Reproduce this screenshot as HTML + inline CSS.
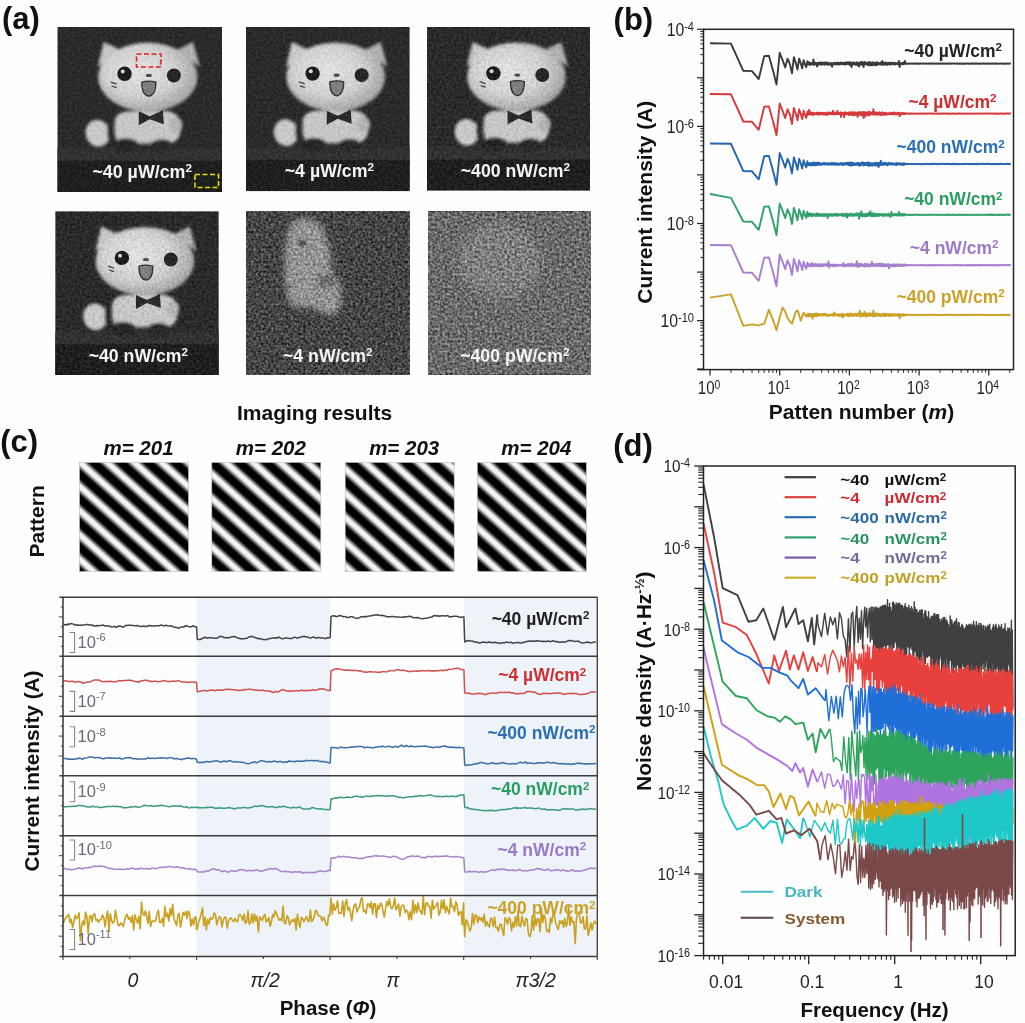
<!DOCTYPE html>
<html><head><meta charset="utf-8"><title>Figure</title>
<style>
html,body{margin:0;padding:0;background:#fff;width:1025px;height:1023px;overflow:hidden;}
svg{display:block;font-family:"Liberation Sans",sans-serif;filter:blur(0.35px);}
</style></head><body>
<svg width="1025" height="1023" viewBox="0 0 1025 1023" font-family="Liberation Sans, sans-serif">
<defs>
<filter id="soft" x="-0.2" y="-0.2" width="1.4" height="1.4"><feGaussianBlur stdDeviation="1.6"/></filter>
<filter id="soft2" x="-0.3" y="-0.3" width="1.6" height="1.6"><feGaussianBlur stdDeviation="0.7"/></filter>
<filter id="blob" x="-0.3" y="-0.3" width="1.6" height="1.6"><feGaussianBlur stdDeviation="5"/></filter>
<filter id="blob2" x="-0.3" y="-0.3" width="1.6" height="1.6"><feGaussianBlur stdDeviation="3"/></filter>
<filter id="nz0" x="0" y="0" width="1" height="1" color-interpolation-filters="sRGB"><feTurbulence type="fractalNoise" baseFrequency="0.4" numOctaves="2" seed="3" result="t"/><feColorMatrix in="t" type="matrix" values="1 0 0 0 0  1 0 0 0 0  1 0 0 0 0  0 0 0 0 1" result="g"/><feComposite in="SourceGraphic" in2="g" operator="arithmetic" k1="0" k2="1" k3="0.16" k4="-0.08"/></filter>
<filter id="nz1" x="0" y="0" width="1" height="1" color-interpolation-filters="sRGB"><feTurbulence type="fractalNoise" baseFrequency="0.4" numOctaves="2" seed="10" result="t"/><feColorMatrix in="t" type="matrix" values="1 0 0 0 0  1 0 0 0 0  1 0 0 0 0  0 0 0 0 1" result="g"/><feComposite in="SourceGraphic" in2="g" operator="arithmetic" k1="0" k2="1" k3="0.18" k4="-0.09"/></filter>
<filter id="nz2" x="0" y="0" width="1" height="1" color-interpolation-filters="sRGB"><feTurbulence type="fractalNoise" baseFrequency="0.4" numOctaves="2" seed="17" result="t"/><feColorMatrix in="t" type="matrix" values="1 0 0 0 0  1 0 0 0 0  1 0 0 0 0  0 0 0 0 1" result="g"/><feComposite in="SourceGraphic" in2="g" operator="arithmetic" k1="0" k2="1" k3="0.22" k4="-0.11"/></filter>
<filter id="nz3" x="0" y="0" width="1" height="1" color-interpolation-filters="sRGB"><feTurbulence type="fractalNoise" baseFrequency="0.4" numOctaves="2" seed="24" result="t"/><feColorMatrix in="t" type="matrix" values="1 0 0 0 0  1 0 0 0 0  1 0 0 0 0  0 0 0 0 1" result="g"/><feComposite in="SourceGraphic" in2="g" operator="arithmetic" k1="0" k2="1" k3="0.24" k4="-0.12"/></filter>
<filter id="nz4" x="0" y="0" width="1" height="1" color-interpolation-filters="sRGB"><feTurbulence type="fractalNoise" baseFrequency="0.4" numOctaves="2" seed="31" result="t"/><feColorMatrix in="t" type="matrix" values="1 0 0 0 0  1 0 0 0 0  1 0 0 0 0  0 0 0 0 1" result="g"/><feComposite in="SourceGraphic" in2="g" operator="arithmetic" k1="0" k2="1" k3="0.66" k4="-0.33"/></filter>
<filter id="nz5" x="0" y="0" width="1" height="1" color-interpolation-filters="sRGB"><feTurbulence type="fractalNoise" baseFrequency="0.4" numOctaves="2" seed="38" result="t"/><feColorMatrix in="t" type="matrix" values="1 0 0 0 0  1 0 0 0 0  1 0 0 0 0  0 0 0 0 1" result="g"/><feComposite in="SourceGraphic" in2="g" operator="arithmetic" k1="0" k2="1" k3="0.76" k4="-0.38"/></filter>
<radialGradient id="headg" cx="0.42" cy="0.42" r="0.64"><stop offset="0" stop-color="#e2e2e2"/><stop offset="0.55" stop-color="#d0d0d0"/><stop offset="1" stop-color="#9c9c9c"/></radialGradient>
<linearGradient id="sg0" gradientUnits="userSpaceOnUse" x1="0" y1="0" x2="12.064" y2="-13.493" spreadMethod="repeat" gradientTransform="translate(-13.08,0)"><stop offset="0" stop-color="#000"/><stop offset="0.17" stop-color="#060606"/><stop offset="0.41" stop-color="#f0f0f0"/><stop offset="0.59" stop-color="#f6f6f6"/><stop offset="0.83" stop-color="#060606"/><stop offset="1" stop-color="#000"/></linearGradient>
<linearGradient id="sg1" gradientUnits="userSpaceOnUse" x1="0" y1="0" x2="12.064" y2="-13.493" spreadMethod="repeat" gradientTransform="translate(0.42,0)"><stop offset="0" stop-color="#000"/><stop offset="0.17" stop-color="#060606"/><stop offset="0.41" stop-color="#f0f0f0"/><stop offset="0.59" stop-color="#f6f6f6"/><stop offset="0.83" stop-color="#060606"/><stop offset="1" stop-color="#000"/></linearGradient>
<linearGradient id="sg2" gradientUnits="userSpaceOnUse" x1="0" y1="0" x2="12.064" y2="-13.493" spreadMethod="repeat" gradientTransform="translate(6.22,0)"><stop offset="0" stop-color="#000"/><stop offset="0.17" stop-color="#060606"/><stop offset="0.41" stop-color="#f0f0f0"/><stop offset="0.59" stop-color="#f6f6f6"/><stop offset="0.83" stop-color="#060606"/><stop offset="1" stop-color="#000"/></linearGradient>
<linearGradient id="sg3" gradientUnits="userSpaceOnUse" x1="0" y1="0" x2="12.064" y2="-13.493" spreadMethod="repeat" gradientTransform="translate(-4.88,0)"><stop offset="0" stop-color="#000"/><stop offset="0.17" stop-color="#060606"/><stop offset="0.41" stop-color="#f0f0f0"/><stop offset="0.59" stop-color="#f6f6f6"/><stop offset="0.83" stop-color="#060606"/><stop offset="1" stop-color="#000"/></linearGradient>
</defs>
<rect x="0" y="0" width="1025" height="1023" fill="#fefefe"/>
<text x="2.0" y="29.3" font-size="31" font-weight="bold" font-style="normal" fill="#111" text-anchor="start" >(a)</text>
<g transform="translate(57.6,27.0) scale(1.0024)">
<g filter="url(#nz0)">

<g>
 <rect x="0" y="0" width="164" height="164" fill="#2a2a2a"/>
 <rect x="0" y="121" width="164" height="13" fill="#333" filter="url(#soft)"/>
 <rect x="0" y="133.5" width="164" height="31" fill="#1f1f1f"/>
 <g filter="url(#soft)">
  <ellipse cx="40" cy="106" rx="12" ry="13.5" fill="#c8c8c8" transform="rotate(-15 40 106)"/>
  <path d="M57,92 Q60,84 72,84 L110,84 Q123,86 123,100 Q123,114 112,116 L62,116 Q56,112 57,100 Z" fill="#c6c6c6"/>
  <ellipse cx="118" cy="98" rx="6.5" ry="8" fill="#b4b4b4"/>
  <ellipse cx="52" cy="104" rx="2.5" ry="11" fill="#262626"/>
  <ellipse cx="68" cy="118" rx="13" ry="7" fill="#272727"/>
  <ellipse cx="104" cy="119" rx="12" ry="7" fill="#2a2a2a"/>
  <ellipse cx="86" cy="121" rx="8" ry="5" fill="#2e2e2e"/>
  <polygon points="40,40 46,15 63,23" fill="#c6c6c6"/>
  <polygon points="119,23 135,15 142,40" fill="#b0b0b0"/>
  <ellipse cx="90" cy="50" rx="49.5" ry="34.5" fill="url(#headg)"/>
 </g>
 <g filter="url(#soft2)">
  <circle cx="66.8" cy="46.7" r="7.2" fill="#1c1c1c"/>
  <circle cx="116" cy="48.3" r="7.0" fill="#262626"/>
  <circle cx="65" cy="44.5" r="2" fill="#d8d8d8"/>
  <ellipse cx="91" cy="48.3" rx="3" ry="1.6" fill="#444"/>
  <path d="M84,55 Q91,53 98,55 Q98,68 91,69 Q84,68 84,55 Z" fill="#7e7e7e" stroke="#333" stroke-width="1.3"/>
  <path d="M53,55 L59,57 M54,59 L59,60.5" stroke="#444" stroke-width="1.2"/>
  <path d="M81,84 L92,89 L105,83 L106,97 L92,92 L81,98 Z" fill="#2c2c2c"/>
 </g>
</g>
</g>
<text x="84.4" y="150.2" font-size="17.8" font-weight="bold" font-style="normal" fill="#f4f4f4" text-anchor="middle" >~40 µW/cm<tspan dy="-5.5" font-size="11.7">2</tspan></text>
</g>
<g transform="translate(246.0,27.0) scale(0.9970)">
<g filter="url(#nz1)">

<g>
 <rect x="0" y="0" width="164" height="164" fill="#2a2a2a"/>
 <rect x="0" y="121" width="164" height="13" fill="#333" filter="url(#soft)"/>
 <rect x="0" y="133.5" width="164" height="31" fill="#1f1f1f"/>
 <g filter="url(#soft)">
  <ellipse cx="40" cy="106" rx="12" ry="13.5" fill="#c8c8c8" transform="rotate(-15 40 106)"/>
  <path d="M57,92 Q60,84 72,84 L110,84 Q123,86 123,100 Q123,114 112,116 L62,116 Q56,112 57,100 Z" fill="#c6c6c6"/>
  <ellipse cx="118" cy="98" rx="6.5" ry="8" fill="#b4b4b4"/>
  <ellipse cx="52" cy="104" rx="2.5" ry="11" fill="#262626"/>
  <ellipse cx="68" cy="118" rx="13" ry="7" fill="#272727"/>
  <ellipse cx="104" cy="119" rx="12" ry="7" fill="#2a2a2a"/>
  <ellipse cx="86" cy="121" rx="8" ry="5" fill="#2e2e2e"/>
  <polygon points="40,40 46,15 63,23" fill="#c6c6c6"/>
  <polygon points="119,23 135,15 142,40" fill="#b0b0b0"/>
  <ellipse cx="90" cy="50" rx="49.5" ry="34.5" fill="url(#headg)"/>
 </g>
 <g filter="url(#soft2)">
  <circle cx="66.8" cy="46.7" r="7.2" fill="#1c1c1c"/>
  <circle cx="116" cy="48.3" r="7.0" fill="#262626"/>
  <circle cx="65" cy="44.5" r="2" fill="#d8d8d8"/>
  <ellipse cx="91" cy="48.3" rx="3" ry="1.6" fill="#444"/>
  <path d="M84,55 Q91,53 98,55 Q98,68 91,69 Q84,68 84,55 Z" fill="#7e7e7e" stroke="#333" stroke-width="1.3"/>
  <path d="M53,55 L59,57 M54,59 L59,60.5" stroke="#444" stroke-width="1.2"/>
  <path d="M81,84 L92,89 L105,83 L106,97 L92,92 L81,98 Z" fill="#2c2c2c"/>
 </g>
</g>
</g>
<text x="83.6" y="150.4" font-size="17.8" font-weight="bold" font-style="normal" fill="#f4f4f4" text-anchor="middle" >~4 µW/cm<tspan dy="-5.5" font-size="11.7">2</tspan></text>
</g>
<g transform="translate(427.0,27.0) scale(0.9939)">
<g filter="url(#nz2)">

<g>
 <rect x="0" y="0" width="164" height="164" fill="#2a2a2a"/>
 <rect x="0" y="121" width="164" height="13" fill="#333" filter="url(#soft)"/>
 <rect x="0" y="133.5" width="164" height="31" fill="#1f1f1f"/>
 <g filter="url(#soft)">
  <ellipse cx="40" cy="106" rx="12" ry="13.5" fill="#c8c8c8" transform="rotate(-15 40 106)"/>
  <path d="M57,92 Q60,84 72,84 L110,84 Q123,86 123,100 Q123,114 112,116 L62,116 Q56,112 57,100 Z" fill="#c6c6c6"/>
  <ellipse cx="118" cy="98" rx="6.5" ry="8" fill="#b4b4b4"/>
  <ellipse cx="52" cy="104" rx="2.5" ry="11" fill="#262626"/>
  <ellipse cx="68" cy="118" rx="13" ry="7" fill="#272727"/>
  <ellipse cx="104" cy="119" rx="12" ry="7" fill="#2a2a2a"/>
  <ellipse cx="86" cy="121" rx="8" ry="5" fill="#2e2e2e"/>
  <polygon points="40,40 46,15 63,23" fill="#c6c6c6"/>
  <polygon points="119,23 135,15 142,40" fill="#b0b0b0"/>
  <ellipse cx="90" cy="50" rx="49.5" ry="34.5" fill="url(#headg)"/>
 </g>
 <g filter="url(#soft2)">
  <circle cx="66.8" cy="46.7" r="7.2" fill="#1c1c1c"/>
  <circle cx="116" cy="48.3" r="7.0" fill="#262626"/>
  <circle cx="65" cy="44.5" r="2" fill="#d8d8d8"/>
  <ellipse cx="91" cy="48.3" rx="3" ry="1.6" fill="#444"/>
  <path d="M84,55 Q91,53 98,55 Q98,68 91,69 Q84,68 84,55 Z" fill="#7e7e7e" stroke="#333" stroke-width="1.3"/>
  <path d="M53,55 L59,57 M54,59 L59,60.5" stroke="#444" stroke-width="1.2"/>
  <path d="M81,84 L92,89 L105,83 L106,97 L92,92 L81,98 Z" fill="#2c2c2c"/>
 </g>
</g>
</g>
<text x="88.9" y="150.8" font-size="17.8" font-weight="bold" font-style="normal" fill="#f4f4f4" text-anchor="middle" >~400 nW/cm<tspan dy="-5.5" font-size="11.7">2</tspan></text>
</g>
<g transform="translate(55.5,211.5) scale(0.9939)">
<g filter="url(#nz3)">

<g>
 <rect x="0" y="0" width="164" height="164" fill="#2a2a2a"/>
 <rect x="0" y="121" width="164" height="13" fill="#333" filter="url(#soft)"/>
 <rect x="0" y="133.5" width="164" height="31" fill="#1f1f1f"/>
 <g filter="url(#soft)">
  <ellipse cx="40" cy="106" rx="12" ry="13.5" fill="#c8c8c8" transform="rotate(-15 40 106)"/>
  <path d="M57,92 Q60,84 72,84 L110,84 Q123,86 123,100 Q123,114 112,116 L62,116 Q56,112 57,100 Z" fill="#c6c6c6"/>
  <ellipse cx="118" cy="98" rx="6.5" ry="8" fill="#b4b4b4"/>
  <ellipse cx="52" cy="104" rx="2.5" ry="11" fill="#262626"/>
  <ellipse cx="68" cy="118" rx="13" ry="7" fill="#272727"/>
  <ellipse cx="104" cy="119" rx="12" ry="7" fill="#2a2a2a"/>
  <ellipse cx="86" cy="121" rx="8" ry="5" fill="#2e2e2e"/>
  <polygon points="40,40 46,15 63,23" fill="#c6c6c6"/>
  <polygon points="119,23 135,15 142,40" fill="#b0b0b0"/>
  <ellipse cx="90" cy="50" rx="49.5" ry="34.5" fill="url(#headg)"/>
 </g>
 <g filter="url(#soft2)">
  <circle cx="66.8" cy="46.7" r="7.2" fill="#1c1c1c"/>
  <circle cx="116" cy="48.3" r="7.0" fill="#262626"/>
  <circle cx="65" cy="44.5" r="2" fill="#d8d8d8"/>
  <ellipse cx="91" cy="48.3" rx="3" ry="1.6" fill="#444"/>
  <path d="M84,55 Q91,53 98,55 Q98,68 91,69 Q84,68 84,55 Z" fill="#7e7e7e" stroke="#333" stroke-width="1.3"/>
  <path d="M53,55 L59,57 M54,59 L59,60.5" stroke="#444" stroke-width="1.2"/>
  <path d="M81,84 L92,89 L105,83 L106,97 L92,92 L81,98 Z" fill="#2c2c2c"/>
 </g>
</g>
</g>
<text x="83.4" y="151.1" font-size="17.8" font-weight="bold" font-style="normal" fill="#f4f4f4" text-anchor="middle" >~40 nW/cm<tspan dy="-5.5" font-size="11.7">2</tspan></text>
</g>
<g transform="translate(246.5,211.5) scale(0.9939)">
<g filter="url(#nz4)">
<rect x="0" y="0" width="164" height="164" fill="#454545"/>
<path d="M45,10 L61,6 L75,13 L80,24 L84,40 L86,60 L94,72 L96,90 L91,104 L77,102 L64,96 L48,96 L42,90 L38.5,69 L38.5,40 L42,19 Z" fill="#939393" filter="url(#blob2)"/>
<ellipse cx="80" cy="70" rx="9" ry="6" fill="#606060" filter="url(#blob2)"/>
<ellipse cx="56" cy="32" rx="4" ry="3.5" fill="#505050" filter="url(#soft)"/>
</g>
<text x="81.8" y="151.1" font-size="17.8" font-weight="bold" font-style="normal" fill="#f4f4f4" text-anchor="middle" >~4 nW/cm<tspan dy="-5.5" font-size="11.7">2</tspan></text>
</g>
<g transform="translate(428.0,211.5) scale(0.9939)">
<g filter="url(#nz5)">
<rect x="0" y="0" width="164" height="164" fill="#6a6a6a"/>
<ellipse cx="72" cy="50" rx="42" ry="38" fill="#7e7e7e" filter="url(#blob)"/>
</g>
<text x="87.3" y="151.1" font-size="17.8" font-weight="bold" font-style="normal" fill="#f4f4f4" text-anchor="middle" >~400 pW/cm<tspan dy="-5.5" font-size="11.7">2</tspan></text>
</g>
<rect x="136.5" y="54" width="24.5" height="13" fill="none" stroke="#e02020" stroke-width="1.6" stroke-dasharray="5,2.5"/>
<rect x="195" y="174.5" width="23.5" height="13" fill="none" stroke="#e8e000" stroke-width="1.6" stroke-dasharray="5,2.5"/>
<text x="237.0" y="420.4" font-size="21" font-weight="bold" font-style="normal" fill="#111" text-anchor="start" >Imaging results</text>
<text x="613.6" y="29.6" font-size="31" font-weight="bold" font-style="normal" fill="#111" text-anchor="start" >(b)</text>
<rect x="703.5" y="29.3" width="310.0" height="340.3" fill="none" stroke="#222" stroke-width="1.5"/>
<line x1="697.5" y1="369.6" x2="703.5" y2="369.6" stroke="#222" stroke-width="1.5" />
<line x1="697.0" y1="369.1" x2="703.5" y2="369.1" stroke="#222" stroke-width="1.2" />
<line x1="700.3" y1="354.5" x2="703.5" y2="354.5" stroke="#222" stroke-width="1.0" />
<line x1="700.3" y1="346.0" x2="703.5" y2="346.0" stroke="#222" stroke-width="1.0" />
<line x1="700.3" y1="339.9" x2="703.5" y2="339.9" stroke="#222" stroke-width="1.0" />
<line x1="700.3" y1="335.2" x2="703.5" y2="335.2" stroke="#222" stroke-width="1.0" />
<line x1="700.3" y1="331.4" x2="703.5" y2="331.4" stroke="#222" stroke-width="1.0" />
<line x1="700.3" y1="328.1" x2="703.5" y2="328.1" stroke="#222" stroke-width="1.0" />
<line x1="700.3" y1="325.3" x2="703.5" y2="325.3" stroke="#222" stroke-width="1.0" />
<line x1="700.3" y1="322.8" x2="703.5" y2="322.8" stroke="#222" stroke-width="1.0" />
<line x1="697.0" y1="320.6" x2="703.5" y2="320.6" stroke="#222" stroke-width="1.2" />
<line x1="700.3" y1="306.0" x2="703.5" y2="306.0" stroke="#222" stroke-width="1.0" />
<line x1="700.3" y1="297.4" x2="703.5" y2="297.4" stroke="#222" stroke-width="1.0" />
<line x1="700.3" y1="291.4" x2="703.5" y2="291.4" stroke="#222" stroke-width="1.0" />
<line x1="700.3" y1="286.7" x2="703.5" y2="286.7" stroke="#222" stroke-width="1.0" />
<line x1="700.3" y1="282.8" x2="703.5" y2="282.8" stroke="#222" stroke-width="1.0" />
<line x1="700.3" y1="279.6" x2="703.5" y2="279.6" stroke="#222" stroke-width="1.0" />
<line x1="700.3" y1="276.8" x2="703.5" y2="276.8" stroke="#222" stroke-width="1.0" />
<line x1="700.3" y1="274.3" x2="703.5" y2="274.3" stroke="#222" stroke-width="1.0" />
<line x1="697.0" y1="272.1" x2="703.5" y2="272.1" stroke="#222" stroke-width="1.2" />
<line x1="700.3" y1="257.4" x2="703.5" y2="257.4" stroke="#222" stroke-width="1.0" />
<line x1="700.3" y1="248.9" x2="703.5" y2="248.9" stroke="#222" stroke-width="1.0" />
<line x1="700.3" y1="242.8" x2="703.5" y2="242.8" stroke="#222" stroke-width="1.0" />
<line x1="700.3" y1="238.1" x2="703.5" y2="238.1" stroke="#222" stroke-width="1.0" />
<line x1="700.3" y1="234.3" x2="703.5" y2="234.3" stroke="#222" stroke-width="1.0" />
<line x1="700.3" y1="231.0" x2="703.5" y2="231.0" stroke="#222" stroke-width="1.0" />
<line x1="700.3" y1="228.2" x2="703.5" y2="228.2" stroke="#222" stroke-width="1.0" />
<line x1="700.3" y1="225.7" x2="703.5" y2="225.7" stroke="#222" stroke-width="1.0" />
<line x1="697.0" y1="223.5" x2="703.5" y2="223.5" stroke="#222" stroke-width="1.2" />
<line x1="700.3" y1="208.9" x2="703.5" y2="208.9" stroke="#222" stroke-width="1.0" />
<line x1="700.3" y1="200.3" x2="703.5" y2="200.3" stroke="#222" stroke-width="1.0" />
<line x1="700.3" y1="194.3" x2="703.5" y2="194.3" stroke="#222" stroke-width="1.0" />
<line x1="700.3" y1="189.6" x2="703.5" y2="189.6" stroke="#222" stroke-width="1.0" />
<line x1="700.3" y1="185.7" x2="703.5" y2="185.7" stroke="#222" stroke-width="1.0" />
<line x1="700.3" y1="182.5" x2="703.5" y2="182.5" stroke="#222" stroke-width="1.0" />
<line x1="700.3" y1="179.7" x2="703.5" y2="179.7" stroke="#222" stroke-width="1.0" />
<line x1="700.3" y1="177.2" x2="703.5" y2="177.2" stroke="#222" stroke-width="1.0" />
<line x1="697.0" y1="174.9" x2="703.5" y2="174.9" stroke="#222" stroke-width="1.2" />
<line x1="700.3" y1="160.3" x2="703.5" y2="160.3" stroke="#222" stroke-width="1.0" />
<line x1="700.3" y1="151.8" x2="703.5" y2="151.8" stroke="#222" stroke-width="1.0" />
<line x1="700.3" y1="145.7" x2="703.5" y2="145.7" stroke="#222" stroke-width="1.0" />
<line x1="700.3" y1="141.0" x2="703.5" y2="141.0" stroke="#222" stroke-width="1.0" />
<line x1="700.3" y1="137.2" x2="703.5" y2="137.2" stroke="#222" stroke-width="1.0" />
<line x1="700.3" y1="133.9" x2="703.5" y2="133.9" stroke="#222" stroke-width="1.0" />
<line x1="700.3" y1="131.1" x2="703.5" y2="131.1" stroke="#222" stroke-width="1.0" />
<line x1="700.3" y1="128.6" x2="703.5" y2="128.6" stroke="#222" stroke-width="1.0" />
<line x1="697.0" y1="126.4" x2="703.5" y2="126.4" stroke="#222" stroke-width="1.2" />
<line x1="700.3" y1="111.8" x2="703.5" y2="111.8" stroke="#222" stroke-width="1.0" />
<line x1="700.3" y1="103.2" x2="703.5" y2="103.2" stroke="#222" stroke-width="1.0" />
<line x1="700.3" y1="97.2" x2="703.5" y2="97.2" stroke="#222" stroke-width="1.0" />
<line x1="700.3" y1="92.5" x2="703.5" y2="92.5" stroke="#222" stroke-width="1.0" />
<line x1="700.3" y1="88.6" x2="703.5" y2="88.6" stroke="#222" stroke-width="1.0" />
<line x1="700.3" y1="85.4" x2="703.5" y2="85.4" stroke="#222" stroke-width="1.0" />
<line x1="700.3" y1="82.6" x2="703.5" y2="82.6" stroke="#222" stroke-width="1.0" />
<line x1="700.3" y1="80.1" x2="703.5" y2="80.1" stroke="#222" stroke-width="1.0" />
<line x1="697.0" y1="77.8" x2="703.5" y2="77.8" stroke="#222" stroke-width="1.2" />
<line x1="700.3" y1="63.2" x2="703.5" y2="63.2" stroke="#222" stroke-width="1.0" />
<line x1="700.3" y1="54.7" x2="703.5" y2="54.7" stroke="#222" stroke-width="1.0" />
<line x1="700.3" y1="48.6" x2="703.5" y2="48.6" stroke="#222" stroke-width="1.0" />
<line x1="700.3" y1="43.9" x2="703.5" y2="43.9" stroke="#222" stroke-width="1.0" />
<line x1="700.3" y1="40.1" x2="703.5" y2="40.1" stroke="#222" stroke-width="1.0" />
<line x1="700.3" y1="36.8" x2="703.5" y2="36.8" stroke="#222" stroke-width="1.0" />
<line x1="700.3" y1="34.0" x2="703.5" y2="34.0" stroke="#222" stroke-width="1.0" />
<line x1="700.3" y1="31.5" x2="703.5" y2="31.5" stroke="#222" stroke-width="1.0" />
<line x1="697.0" y1="29.3" x2="703.5" y2="29.3" stroke="#222" stroke-width="1.2" />
<g transform="translate(694.0,35.9) scale(0.9,1)"><text x="0" y="0" font-size="17.5" fill="#222" text-anchor="end">10<tspan dy="-5.2" font-size="12.3">-4</tspan></text></g>
<g transform="translate(694.0,133.0) scale(0.9,1)"><text x="0" y="0" font-size="17.5" fill="#222" text-anchor="end">10<tspan dy="-5.2" font-size="12.3">-6</tspan></text></g>
<g transform="translate(694.0,230.1) scale(0.9,1)"><text x="0" y="0" font-size="17.5" fill="#222" text-anchor="end">10<tspan dy="-5.2" font-size="12.3">-8</tspan></text></g>
<g transform="translate(694.0,327.2) scale(0.9,1)"><text x="0" y="0" font-size="17.5" fill="#222" text-anchor="end">10<tspan dy="-5.2" font-size="12.3">-10</tspan></text></g>
<line x1="710.0" y1="369.6" x2="710.0" y2="375.6" stroke="#222" stroke-width="1.2" />
<line x1="731.0" y1="369.6" x2="731.0" y2="372.8" stroke="#222" stroke-width="1.0" />
<line x1="743.3" y1="369.6" x2="743.3" y2="372.8" stroke="#222" stroke-width="1.0" />
<line x1="752.0" y1="369.6" x2="752.0" y2="372.8" stroke="#222" stroke-width="1.0" />
<line x1="758.7" y1="369.6" x2="758.7" y2="372.8" stroke="#222" stroke-width="1.0" />
<line x1="764.2" y1="369.6" x2="764.2" y2="372.8" stroke="#222" stroke-width="1.0" />
<line x1="768.9" y1="369.6" x2="768.9" y2="372.8" stroke="#222" stroke-width="1.0" />
<line x1="772.9" y1="369.6" x2="772.9" y2="372.8" stroke="#222" stroke-width="1.0" />
<line x1="776.5" y1="369.6" x2="776.5" y2="372.8" stroke="#222" stroke-width="1.0" />
<g transform="translate(709.0,394.0) scale(0.86,1)"><text x="0" y="0" font-size="17.5" fill="#222" text-anchor="middle">10<tspan dy="-5.2" font-size="12">0</tspan></text></g>
<line x1="779.7" y1="369.6" x2="779.7" y2="375.6" stroke="#222" stroke-width="1.2" />
<line x1="800.7" y1="369.6" x2="800.7" y2="372.8" stroke="#222" stroke-width="1.0" />
<line x1="813.0" y1="369.6" x2="813.0" y2="372.8" stroke="#222" stroke-width="1.0" />
<line x1="821.7" y1="369.6" x2="821.7" y2="372.8" stroke="#222" stroke-width="1.0" />
<line x1="828.4" y1="369.6" x2="828.4" y2="372.8" stroke="#222" stroke-width="1.0" />
<line x1="833.9" y1="369.6" x2="833.9" y2="372.8" stroke="#222" stroke-width="1.0" />
<line x1="838.6" y1="369.6" x2="838.6" y2="372.8" stroke="#222" stroke-width="1.0" />
<line x1="842.6" y1="369.6" x2="842.6" y2="372.8" stroke="#222" stroke-width="1.0" />
<line x1="846.2" y1="369.6" x2="846.2" y2="372.8" stroke="#222" stroke-width="1.0" />
<g transform="translate(778.7,394.0) scale(0.86,1)"><text x="0" y="0" font-size="17.5" fill="#222" text-anchor="middle">10<tspan dy="-5.2" font-size="12">1</tspan></text></g>
<line x1="849.4" y1="369.6" x2="849.4" y2="375.6" stroke="#222" stroke-width="1.2" />
<line x1="870.4" y1="369.6" x2="870.4" y2="372.8" stroke="#222" stroke-width="1.0" />
<line x1="882.7" y1="369.6" x2="882.7" y2="372.8" stroke="#222" stroke-width="1.0" />
<line x1="891.4" y1="369.6" x2="891.4" y2="372.8" stroke="#222" stroke-width="1.0" />
<line x1="898.1" y1="369.6" x2="898.1" y2="372.8" stroke="#222" stroke-width="1.0" />
<line x1="903.6" y1="369.6" x2="903.6" y2="372.8" stroke="#222" stroke-width="1.0" />
<line x1="908.3" y1="369.6" x2="908.3" y2="372.8" stroke="#222" stroke-width="1.0" />
<line x1="912.3" y1="369.6" x2="912.3" y2="372.8" stroke="#222" stroke-width="1.0" />
<line x1="915.9" y1="369.6" x2="915.9" y2="372.8" stroke="#222" stroke-width="1.0" />
<g transform="translate(848.4,394.0) scale(0.86,1)"><text x="0" y="0" font-size="17.5" fill="#222" text-anchor="middle">10<tspan dy="-5.2" font-size="12">2</tspan></text></g>
<line x1="919.1" y1="369.6" x2="919.1" y2="375.6" stroke="#222" stroke-width="1.2" />
<line x1="940.1" y1="369.6" x2="940.1" y2="372.8" stroke="#222" stroke-width="1.0" />
<line x1="952.4" y1="369.6" x2="952.4" y2="372.8" stroke="#222" stroke-width="1.0" />
<line x1="961.1" y1="369.6" x2="961.1" y2="372.8" stroke="#222" stroke-width="1.0" />
<line x1="967.8" y1="369.6" x2="967.8" y2="372.8" stroke="#222" stroke-width="1.0" />
<line x1="973.3" y1="369.6" x2="973.3" y2="372.8" stroke="#222" stroke-width="1.0" />
<line x1="978.0" y1="369.6" x2="978.0" y2="372.8" stroke="#222" stroke-width="1.0" />
<line x1="982.0" y1="369.6" x2="982.0" y2="372.8" stroke="#222" stroke-width="1.0" />
<line x1="985.6" y1="369.6" x2="985.6" y2="372.8" stroke="#222" stroke-width="1.0" />
<g transform="translate(918.1,394.0) scale(0.86,1)"><text x="0" y="0" font-size="17.5" fill="#222" text-anchor="middle">10<tspan dy="-5.2" font-size="12">3</tspan></text></g>
<line x1="988.8" y1="369.6" x2="988.8" y2="375.6" stroke="#222" stroke-width="1.2" />
<line x1="1009.8" y1="369.6" x2="1009.8" y2="372.8" stroke="#222" stroke-width="1.0" />
<g transform="translate(987.8,394.0) scale(0.86,1)"><text x="0" y="0" font-size="17.5" fill="#222" text-anchor="middle">10<tspan dy="-5.2" font-size="12">4</tspan></text></g>
<text x="861.5" y="419.4" font-size="21" font-weight="bold" font-style="normal" fill="#111" text-anchor="middle" >Patten number (<tspan font-style="italic">m</tspan>)</text>
<text transform="translate(652.3,202.2) rotate(-90)" x="0" y="0" font-size="21" font-weight="bold" fill="#111" text-anchor="middle">Current intensity (A)</text>
<path d="M710.0,43.3 L731.0,43.6 L743.3,70.8 L752.0,71.1 L758.7,79.1 L764.2,56.1 L768.9,55.7 L772.9,70.1 L776.5,84.5 L779.7,52.8 L782.6,60.1 L785.2,67.4 L787.6,58.6 L789.9,64.1 L792.0,73.3 L793.9,57.2 L795.8,63.1 L797.5,69.6 L799.1,58.6 L800.7,63.1 L802.2,68.4 L803.6,60.1 L804.9,64.1 L806.2,67.1 L807.4,61.1 L808.1,64.6 L808.9,62.1 L809.6,64.7 L810.4,62.9 L811.1,64.8 L811.9,63.0 L812.6,64.2 L813.4,59.4 L814.1,65.1 L814.9,62.5 L815.6,64.1 L816.4,63.1 L817.1,66.5 L817.9,62.7 L818.6,64.6 L819.4,62.7 L820.1,64.5 L820.9,62.2 L821.6,64.8 L822.4,62.9 L823.1,64.3 L823.9,62.5 L824.6,64.8 L825.4,62.3 L826.1,64.0 L826.9,62.4 L827.6,64.9 L828.4,63.1 L829.1,64.7 L829.9,63.1 L830.6,64.8 L831.4,63.1 L832.1,66.8 L832.9,63.1 L833.6,64.3 L834.4,62.6 L835.1,64.5 L835.9,62.9 L836.6,64.2 L837.4,62.6 L838.1,64.6 L838.9,63.0 L839.6,64.4 L840.4,62.3 L841.1,64.2 L841.9,62.9 L842.6,64.1 L843.4,62.6 L844.1,64.6 L844.9,62.7 L845.6,64.5 L846.4,62.3 L847.1,64.2 L847.9,62.3 L848.6,64.3 L849.4,62.1 L850.1,65.2 L850.9,62.4 L851.6,67.2 L852.4,62.8 L853.1,64.4 L853.9,62.3 L854.6,64.4 L855.4,63.0 L856.1,64.9 L856.9,62.2 L857.6,65.4 L858.4,63.0 L859.1,66.5 L859.9,62.5 L860.6,64.4 L861.4,61.8 L862.1,65.1 L862.9,62.2 L863.6,67.1 L864.4,62.0 L865.1,64.2 L865.9,62.3 L866.6,64.6 L867.4,62.9 L868.1,65.2 L868.9,62.0 L869.6,65.3 L870.4,62.5 L871.1,65.4 L871.9,62.5 L872.6,65.3 L873.4,62.2 L874.1,64.9 L874.9,63.0 L875.6,65.4 L876.4,62.2 L877.1,65.0 L877.9,62.6 L878.6,64.2 L879.4,63.1 L880.1,64.6 L880.9,62.3 L881.6,64.7 L882.4,60.9 L883.1,64.8 L883.9,63.0 L884.6,64.7 L885.4,62.3 L886.1,64.7 L886.9,62.8 L887.6,64.9 L888.4,62.8 L889.1,64.3 L889.9,62.8 L890.6,64.7 L891.4,62.4 L892.1,64.1 L892.9,63.0 L893.6,64.3 L894.4,62.8 L895.1,64.6 L895.9,62.9 L896.6,64.0 L897.4,63.2 L898.1,64.4 L898.9,61.0 L899.6,67.0 L900.4,63.1 L901.1,64.0 L901.9,63.0 L902.6,64.4 L903.4,62.6 L904.1,64.1 L904.9,61.0 L905.6,63.9 L906.8,63.5 L908.0,63.8 L909.2,63.4 L910.4,63.9 L911.6,63.4 L912.8,63.9 L914.0,63.3 L915.2,63.8 L916.4,63.3 L917.6,63.9 L918.8,63.5 L920.0,63.9 L921.2,63.3 L922.4,63.7 L923.6,63.4 L924.8,63.9 L926.0,63.3 L927.2,63.8 L928.4,63.4 L929.6,63.9 L930.8,63.3 L932.0,63.9 L933.2,63.4 L934.4,63.9 L935.6,63.4 L936.8,63.9 L938.0,63.3 L939.2,63.9 L940.4,63.3 L941.6,63.8 L942.8,63.3 L944.0,63.9 L945.2,63.3 L946.4,63.8 L947.6,63.3 L948.8,63.8 L950.0,63.3 L951.2,63.9 L952.4,63.4 L953.6,63.7 L954.8,63.4 L956.0,63.8 L957.2,63.3 L958.4,63.8 L959.6,63.5 L960.8,63.9 L962.0,63.5 L963.2,63.9 L964.4,63.5 L965.6,63.8 L966.8,63.3 L968.0,63.7 L969.2,63.5 L970.4,63.8 L971.6,63.3 L972.8,63.9 L974.0,63.3 L975.2,63.9 L976.4,63.4 L977.6,63.9 L978.8,63.5 L980.0,63.8 L981.2,63.4 L982.4,63.8 L983.6,63.3 L984.8,63.9 L986.0,63.4 L987.2,63.9 L988.4,63.4 L989.6,63.8 L990.8,63.4 L992.0,63.9 L993.2,63.3 L994.4,63.8 L995.6,63.3 L996.8,63.9 L998.0,63.4 L999.2,63.8 L1000.4,63.4 L1001.6,63.8 L1002.8,63.4 L1004.0,63.9 L1005.2,63.5 L1006.4,63.9 L1007.6,63.4 L1008.8,63.8 L1010.0,63.3 L1010.8,63.6" fill="none" stroke="#3a3a3a" stroke-width="1.9" stroke-linejoin="round" />
<path d="M710.0,94.0 L731.0,94.3 L743.3,121.5 L752.0,121.8 L758.7,129.8 L764.2,106.8 L768.9,106.4 L772.9,120.8 L776.5,135.2 L779.7,103.5 L782.6,110.8 L785.2,118.1 L787.6,109.3 L789.9,114.8 L792.0,124.0 L793.9,107.9 L795.8,113.8 L797.5,120.3 L799.1,109.3 L800.7,113.8 L802.2,119.1 L803.6,110.8 L804.9,114.8 L806.2,117.8 L807.4,111.8 L808.1,114.7 L808.9,110.0 L809.6,114.5 L810.4,112.1 L811.1,114.6 L811.9,112.7 L812.6,115.0 L813.4,112.8 L814.1,114.7 L814.9,113.0 L815.6,114.1 L816.4,112.9 L817.1,114.4 L817.9,112.5 L818.6,114.8 L819.4,112.7 L820.1,114.2 L820.9,112.7 L821.6,114.4 L822.4,113.0 L823.1,114.6 L823.9,112.7 L824.6,114.6 L825.4,113.0 L826.1,114.8 L826.9,112.9 L827.6,114.8 L828.4,112.3 L829.1,114.1 L829.9,112.6 L830.6,114.1 L831.4,112.9 L832.1,114.1 L832.9,110.8 L833.6,114.5 L834.4,112.4 L835.1,114.4 L835.9,112.8 L836.6,114.1 L837.4,110.8 L838.1,114.3 L838.9,113.1 L839.6,114.1 L840.4,112.3 L841.1,117.0 L841.9,112.8 L842.6,114.3 L843.4,112.7 L844.1,117.2 L844.9,112.3 L845.6,114.5 L846.4,112.7 L847.1,114.2 L847.9,113.1 L848.6,115.0 L849.4,112.2 L850.1,114.6 L850.9,112.5 L851.6,115.1 L852.4,112.0 L853.1,115.1 L853.9,112.6 L854.6,115.2 L855.4,112.1 L856.1,114.7 L856.9,112.9 L857.6,116.8 L858.4,112.2 L859.1,114.5 L859.9,112.1 L860.6,115.1 L861.4,112.3 L862.1,115.6 L862.9,112.0 L863.6,118.0 L864.4,112.0 L865.1,116.6 L865.9,112.5 L866.6,114.5 L867.4,112.2 L868.1,115.5 L868.9,111.6 L869.6,115.3 L870.4,112.2 L871.1,114.2 L871.9,112.8 L872.6,114.4 L873.4,109.3 L874.1,114.7 L874.9,112.3 L875.6,114.5 L876.4,112.4 L877.1,115.0 L877.9,113.1 L878.6,114.2 L879.4,112.2 L880.1,115.1 L880.9,113.1 L881.6,115.1 L882.4,112.2 L883.1,114.6 L883.9,112.9 L884.6,115.0 L885.4,112.7 L886.1,114.8 L886.9,113.1 L887.6,114.4 L888.4,113.2 L889.1,114.1 L889.9,112.6 L890.6,114.2 L891.4,112.9 L892.1,114.4 L892.9,112.4 L893.6,114.2 L894.4,112.5 L895.1,114.5 L895.9,113.0 L896.6,114.4 L897.4,112.8 L898.1,114.1 L898.9,112.5 L899.6,116.2 L900.4,113.1 L901.1,114.4 L901.9,112.9 L902.6,114.0 L903.4,112.9 L904.1,114.2 L904.9,113.1 L905.6,113.9 L906.8,113.3 L908.0,113.7 L909.2,113.5 L910.4,113.9 L911.6,113.3 L912.8,113.9 L914.0,113.4 L915.2,113.8 L916.4,113.4 L917.6,113.9 L918.8,113.4 L920.0,113.9 L921.2,113.3 L922.4,113.8 L923.6,113.4 L924.8,113.9 L926.0,113.3 L927.2,113.8 L928.4,113.4 L929.6,113.7 L930.8,113.3 L932.0,113.7 L933.2,113.5 L934.4,113.8 L935.6,113.4 L936.8,113.9 L938.0,113.4 L939.2,113.9 L940.4,113.5 L941.6,113.8 L942.8,113.3 L944.0,113.7 L945.2,113.4 L946.4,113.9 L947.6,113.3 L948.8,113.8 L950.0,113.5 L951.2,113.8 L952.4,113.3 L953.6,113.8 L954.8,113.5 L956.0,113.9 L957.2,113.4 L958.4,113.9 L959.6,113.3 L960.8,113.9 L962.0,113.4 L963.2,113.9 L964.4,113.4 L965.6,113.8 L966.8,113.4 L968.0,113.9 L969.2,113.3 L970.4,113.8 L971.6,113.4 L972.8,113.8 L974.0,113.4 L975.2,113.8 L976.4,113.4 L977.6,113.8 L978.8,113.4 L980.0,113.9 L981.2,113.4 L982.4,113.9 L983.6,113.4 L984.8,113.7 L986.0,113.3 L987.2,113.9 L988.4,113.4 L989.6,113.7 L990.8,113.4 L992.0,113.8 L993.2,113.4 L994.4,113.9 L995.6,113.3 L996.8,113.9 L998.0,113.5 L999.2,113.8 L1000.4,113.3 L1001.6,113.7 L1002.8,113.5 L1004.0,113.9 L1005.2,113.3 L1006.4,113.7 L1007.6,113.3 L1008.8,113.7 L1010.0,113.3 L1010.8,113.6" fill="none" stroke="#d4393b" stroke-width="1.9" stroke-linejoin="round" />
<path d="M710.0,143.5 L731.0,143.8 L743.3,171.0 L752.0,171.3 L758.7,179.3 L764.2,156.3 L768.9,155.9 L772.9,170.3 L776.5,184.7 L779.7,153.0 L782.6,160.3 L785.2,167.6 L787.6,158.8 L789.9,164.3 L792.0,173.5 L793.9,157.4 L795.8,163.3 L797.5,169.8 L799.1,158.8 L800.7,163.3 L802.2,168.6 L803.6,160.3 L804.9,164.3 L806.2,167.3 L807.4,161.3 L808.1,165.2 L808.9,163.3 L809.6,165.1 L810.4,163.1 L811.1,165.5 L811.9,163.0 L812.6,165.3 L813.4,162.5 L814.1,165.3 L814.9,162.6 L815.6,165.3 L816.4,162.6 L817.1,165.0 L817.9,162.7 L818.6,164.9 L819.4,162.8 L820.1,164.8 L820.9,163.4 L821.6,164.7 L822.4,163.5 L823.1,164.5 L823.9,162.8 L824.6,164.5 L825.4,163.0 L826.1,164.4 L826.9,163.4 L827.6,164.6 L828.4,163.1 L829.1,164.6 L829.9,163.5 L830.6,164.7 L831.4,162.9 L832.1,164.6 L832.9,162.9 L833.6,164.8 L834.4,163.2 L835.1,164.4 L835.9,163.0 L836.6,164.8 L837.4,163.4 L838.1,164.9 L838.9,163.7 L839.6,164.6 L840.4,163.0 L841.1,164.5 L841.9,163.3 L842.6,165.2 L843.4,163.0 L844.1,164.7 L844.9,163.4 L845.6,164.4 L846.4,162.7 L847.1,164.5 L847.9,162.8 L848.6,165.0 L849.4,162.4 L850.1,165.5 L850.9,162.6 L851.6,165.6 L852.4,162.5 L853.1,165.2 L853.9,163.3 L854.6,164.9 L855.4,163.4 L856.1,165.2 L856.9,163.0 L857.6,164.7 L858.4,162.8 L859.1,165.7 L859.9,163.4 L860.6,165.6 L861.4,162.6 L862.1,164.6 L862.9,162.3 L863.6,165.5 L864.4,162.9 L865.1,165.0 L865.9,162.9 L866.6,165.0 L867.4,162.4 L868.1,165.9 L868.9,162.4 L869.6,165.7 L870.4,163.2 L871.1,165.5 L871.9,163.2 L872.6,165.7 L873.4,163.3 L874.1,164.8 L874.9,162.9 L875.6,165.7 L876.4,162.8 L877.1,165.5 L877.9,163.0 L878.6,167.1 L879.4,162.7 L880.1,165.4 L880.9,160.8 L881.6,164.8 L882.4,163.4 L883.1,165.0 L883.9,162.7 L884.6,164.6 L885.4,162.7 L886.1,164.8 L886.9,163.5 L887.6,165.3 L888.4,162.9 L889.1,164.6 L889.9,163.1 L890.6,164.5 L891.4,163.1 L892.1,164.6 L892.9,163.3 L893.6,164.5 L894.4,163.5 L895.1,164.8 L895.9,163.2 L896.6,165.1 L897.4,163.0 L898.1,164.4 L898.9,163.5 L899.6,164.5 L900.4,163.1 L901.1,164.7 L901.9,163.7 L902.6,165.0 L903.4,163.2 L904.1,164.8 L904.9,163.4 L905.6,164.3 L906.8,163.9 L908.0,164.2 L909.2,163.8 L910.4,164.1 L911.6,163.8 L912.8,164.2 L914.0,163.9 L915.2,164.2 L916.4,163.8 L917.6,164.2 L918.8,163.8 L920.0,164.3 L921.2,163.9 L922.4,164.3 L923.6,163.9 L924.8,164.3 L926.0,163.7 L927.2,164.2 L928.4,163.8 L929.6,164.3 L930.8,163.7 L932.0,164.3 L933.2,163.7 L934.4,164.2 L935.6,163.7 L936.8,164.3 L938.0,163.7 L939.2,164.2 L940.4,163.8 L941.6,164.2 L942.8,163.7 L944.0,164.2 L945.2,163.8 L946.4,164.2 L947.6,163.7 L948.8,164.2 L950.0,163.9 L951.2,164.3 L952.4,163.7 L953.6,164.3 L954.8,163.7 L956.0,164.3 L957.2,163.8 L958.4,164.3 L959.6,163.9 L960.8,164.1 L962.0,163.8 L963.2,164.2 L964.4,163.8 L965.6,164.1 L966.8,163.7 L968.0,164.2 L969.2,163.8 L970.4,164.2 L971.6,163.8 L972.8,164.2 L974.0,163.9 L975.2,164.3 L976.4,163.7 L977.6,164.3 L978.8,163.7 L980.0,164.2 L981.2,163.7 L982.4,164.2 L983.6,163.7 L984.8,164.2 L986.0,163.7 L987.2,164.1 L988.4,163.7 L989.6,164.1 L990.8,163.8 L992.0,164.3 L993.2,163.9 L994.4,164.2 L995.6,163.8 L996.8,164.2 L998.0,163.9 L999.2,164.3 L1000.4,163.7 L1001.6,164.2 L1002.8,163.8 L1004.0,164.2 L1005.2,163.9 L1006.4,164.1 L1007.6,163.7 L1008.8,164.2 L1010.0,163.8 L1010.8,164.0" fill="none" stroke="#2364ad" stroke-width="1.9" stroke-linejoin="round" />
<path d="M710.0,194.0 L731.0,197.9 L743.3,221.5 L752.0,221.8 L758.7,229.8 L764.2,206.8 L768.9,206.4 L772.9,220.8 L776.5,235.2 L779.7,203.5 L782.6,210.8 L785.2,218.1 L787.6,209.3 L789.9,214.8 L792.0,224.0 L793.9,207.9 L795.8,213.8 L797.5,220.3 L799.1,209.3 L800.7,213.8 L802.2,219.1 L803.6,210.8 L804.9,214.8 L806.2,217.8 L807.4,211.8 L808.1,216.4 L808.9,213.8 L809.6,215.6 L810.4,213.3 L811.1,216.2 L811.9,213.8 L812.6,216.2 L813.4,214.1 L814.1,215.5 L814.9,214.3 L815.6,216.0 L816.4,213.4 L817.1,216.0 L817.9,213.6 L818.6,215.7 L819.4,214.1 L820.1,215.9 L820.9,214.2 L821.6,215.9 L822.4,214.0 L823.1,216.1 L823.9,214.2 L824.6,216.1 L825.4,214.1 L826.1,215.3 L826.9,214.0 L827.6,218.1 L828.4,214.2 L829.1,215.9 L829.9,214.2 L830.6,215.4 L831.4,213.9 L832.1,215.9 L832.9,214.4 L833.6,215.8 L834.4,213.7 L835.1,215.3 L835.9,213.9 L836.6,215.7 L837.4,214.0 L838.1,215.8 L838.9,214.1 L839.6,215.3 L840.4,214.3 L841.1,215.4 L841.9,213.7 L842.6,216.0 L843.4,213.9 L844.1,215.8 L844.9,214.3 L845.6,216.0 L846.4,213.4 L847.1,217.7 L847.9,213.9 L848.6,215.6 L849.4,214.2 L850.1,215.9 L850.9,213.4 L851.6,215.5 L852.4,214.2 L853.1,216.1 L853.9,213.9 L854.6,215.5 L855.4,214.0 L856.1,215.6 L856.9,213.1 L857.6,215.4 L858.4,213.7 L859.1,218.9 L859.9,213.2 L860.6,215.6 L861.4,211.3 L862.1,216.6 L862.9,213.7 L863.6,216.0 L864.4,214.2 L865.1,216.5 L865.9,213.9 L866.6,216.2 L867.4,213.6 L868.1,215.9 L868.9,212.9 L869.6,215.4 L870.4,211.3 L871.1,216.3 L871.9,213.4 L872.6,216.0 L873.4,213.1 L874.1,216.4 L874.9,213.8 L875.6,216.0 L876.4,214.0 L877.1,215.9 L877.9,213.8 L878.6,216.1 L879.4,214.1 L880.1,215.4 L880.9,213.9 L881.6,215.3 L882.4,214.1 L883.1,216.2 L883.9,214.1 L884.6,215.4 L885.4,214.0 L886.1,215.9 L886.9,214.4 L887.6,215.6 L888.4,213.6 L889.1,215.9 L889.9,214.4 L890.6,217.1 L891.4,211.9 L892.1,215.5 L892.9,214.3 L893.6,215.4 L894.4,213.9 L895.1,215.3 L895.9,213.9 L896.6,215.4 L897.4,214.3 L898.1,215.4 L898.9,212.0 L899.6,215.6 L900.4,213.7 L901.1,215.6 L901.9,214.3 L902.6,215.6 L903.4,213.8 L904.1,215.6 L904.9,214.2 L905.6,214.9 L906.8,214.6 L908.0,215.0 L909.2,214.6 L910.4,215.0 L911.6,214.7 L912.8,215.0 L914.0,214.6 L915.2,214.9 L916.4,214.5 L917.6,215.0 L918.8,214.7 L920.0,215.0 L921.2,214.6 L922.4,214.9 L923.6,214.6 L924.8,215.1 L926.0,214.6 L927.2,215.1 L928.4,214.7 L929.6,215.0 L930.8,214.6 L932.0,214.9 L933.2,214.6 L934.4,214.9 L935.6,214.6 L936.8,215.0 L938.0,214.6 L939.2,215.0 L940.4,214.6 L941.6,214.9 L942.8,214.6 L944.0,215.1 L945.2,214.6 L946.4,215.0 L947.6,214.5 L948.8,215.0 L950.0,214.6 L951.2,215.1 L952.4,214.5 L953.6,215.0 L954.8,214.6 L956.0,215.1 L957.2,214.5 L958.4,215.1 L959.6,214.5 L960.8,215.0 L962.0,214.6 L963.2,215.0 L964.4,214.5 L965.6,215.1 L966.8,214.6 L968.0,215.1 L969.2,214.7 L970.4,214.9 L971.6,214.6 L972.8,215.0 L974.0,214.6 L975.2,215.1 L976.4,214.7 L977.6,215.0 L978.8,214.6 L980.0,215.1 L981.2,214.6 L982.4,214.9 L983.6,214.6 L984.8,215.0 L986.0,214.6 L987.2,215.0 L988.4,214.5 L989.6,215.0 L990.8,214.5 L992.0,215.0 L993.2,214.5 L994.4,215.1 L995.6,214.6 L996.8,215.0 L998.0,214.5 L999.2,215.0 L1000.4,214.5 L1001.6,215.1 L1002.8,214.5 L1004.0,215.1 L1005.2,214.5 L1006.4,214.9 L1007.6,214.5 L1008.8,215.0 L1010.0,214.6 L1010.8,214.8" fill="none" stroke="#32a06a" stroke-width="1.9" stroke-linejoin="round" />
<path d="M710.0,245.0 L731.0,245.3 L743.3,272.5 L752.0,272.8 L758.7,280.8 L764.2,257.8 L768.9,257.4 L772.9,271.8 L776.5,286.2 L779.7,254.5 L782.6,261.8 L785.2,269.1 L787.6,260.3 L789.9,265.8 L792.0,275.0 L793.9,258.9 L795.8,264.8 L797.5,271.3 L799.1,260.3 L800.7,264.8 L802.2,270.1 L803.6,261.8 L804.9,265.8 L806.2,268.8 L807.4,262.8 L808.1,266.1 L808.9,263.9 L809.6,265.9 L810.4,264.4 L811.1,266.2 L811.9,263.0 L812.6,266.4 L813.4,264.2 L814.1,266.2 L814.9,263.8 L815.6,265.7 L816.4,264.2 L817.1,266.1 L817.9,264.5 L818.6,266.0 L819.4,264.0 L820.1,266.5 L820.9,264.4 L821.6,266.2 L822.4,264.0 L823.1,266.0 L823.9,264.6 L824.6,265.6 L825.4,263.9 L826.1,265.7 L826.9,264.4 L827.6,266.0 L828.4,261.3 L829.1,267.6 L829.9,264.2 L830.6,265.7 L831.4,264.8 L832.1,266.0 L832.9,264.6 L833.6,266.3 L834.4,264.5 L835.1,266.2 L835.9,264.5 L836.6,266.0 L837.4,264.7 L838.1,265.6 L838.9,264.7 L839.6,265.6 L840.4,264.8 L841.1,265.7 L841.9,264.5 L842.6,266.1 L843.4,262.9 L844.1,266.5 L844.9,264.7 L845.6,266.1 L846.4,264.5 L847.1,266.2 L847.9,263.9 L848.6,265.7 L849.4,264.0 L850.1,266.0 L850.9,263.7 L851.6,266.2 L852.4,263.8 L853.1,265.8 L853.9,264.5 L854.6,266.2 L855.4,264.3 L856.1,265.8 L856.9,261.1 L857.6,266.8 L858.4,263.6 L859.1,266.9 L859.9,263.6 L860.6,265.9 L861.4,264.1 L862.1,266.1 L862.9,264.6 L863.6,266.1 L864.4,264.1 L865.1,266.9 L865.9,263.7 L866.6,266.2 L867.4,264.2 L868.1,266.3 L868.9,264.3 L869.6,266.5 L870.4,264.4 L871.1,266.0 L871.9,261.8 L872.6,266.3 L873.4,263.9 L874.1,266.0 L874.9,264.2 L875.6,265.9 L876.4,264.1 L877.1,266.0 L877.9,263.8 L878.6,266.0 L879.4,263.6 L880.1,265.9 L880.9,263.6 L881.6,266.4 L882.4,264.0 L883.1,266.3 L883.9,263.9 L884.6,266.1 L885.4,264.7 L886.1,266.3 L886.9,264.1 L887.6,266.0 L888.4,264.2 L889.1,268.5 L889.9,264.4 L890.6,266.1 L891.4,264.7 L892.1,266.4 L892.9,264.6 L893.6,266.4 L894.4,264.1 L895.1,266.3 L895.9,264.7 L896.6,266.0 L897.4,264.2 L898.1,265.9 L898.9,264.8 L899.6,266.1 L900.4,264.3 L901.1,265.9 L901.9,264.7 L902.6,266.0 L903.4,264.5 L904.1,265.9 L904.9,264.3 L905.6,265.5 L906.8,265.0 L908.0,265.5 L909.2,264.9 L910.4,265.3 L911.6,265.0 L912.8,265.3 L914.0,265.1 L915.2,265.4 L916.4,264.9 L917.6,265.5 L918.8,265.1 L920.0,265.3 L921.2,265.0 L922.4,265.5 L923.6,264.9 L924.8,265.5 L926.0,265.1 L927.2,265.5 L928.4,265.0 L929.6,265.5 L930.8,264.9 L932.0,265.5 L933.2,265.0 L934.4,265.5 L935.6,265.0 L936.8,265.3 L938.0,265.0 L939.2,265.4 L940.4,264.9 L941.6,265.4 L942.8,264.9 L944.0,265.5 L945.2,265.1 L946.4,265.3 L947.6,264.9 L948.8,265.4 L950.0,265.1 L951.2,265.3 L952.4,264.9 L953.6,265.5 L954.8,265.0 L956.0,265.4 L957.2,264.9 L958.4,265.5 L959.6,264.9 L960.8,265.4 L962.0,265.0 L963.2,265.4 L964.4,265.1 L965.6,265.5 L966.8,265.0 L968.0,265.5 L969.2,265.0 L970.4,265.4 L971.6,265.0 L972.8,265.5 L974.0,265.0 L975.2,265.5 L976.4,265.0 L977.6,265.4 L978.8,265.0 L980.0,265.5 L981.2,265.0 L982.4,265.5 L983.6,264.9 L984.8,265.4 L986.0,264.9 L987.2,265.4 L988.4,264.9 L989.6,265.5 L990.8,265.0 L992.0,265.3 L993.2,265.0 L994.4,265.4 L995.6,265.0 L996.8,265.5 L998.0,265.0 L999.2,265.5 L1000.4,264.9 L1001.6,265.4 L1002.8,265.0 L1004.0,265.3 L1005.2,264.9 L1006.4,265.4 L1007.6,265.0 L1008.8,265.4 L1010.0,264.9 L1010.8,265.2" fill="none" stroke="#a77fcf" stroke-width="1.9" stroke-linejoin="round" />
<path d="M710.0,297.6 L731.0,294.4 L743.3,325.9 L752.0,324.4 L758.7,325.4 L764.2,323.7 L768.9,309.8 L772.9,319.6 L776.5,330.2 L779.7,317.6 L782.6,307.6 L785.2,311.6 L787.6,317.8 L789.9,321.6 L792.0,323.7 L793.9,317.6 L795.8,311.6 L797.5,310.5 L799.1,314.6 L800.7,320.7 L802.2,316.6 L803.6,312.6 L804.9,314.6 L806.2,316.6 L807.4,314.1 L808.1,316.4 L808.9,313.8 L809.6,316.4 L810.4,314.0 L811.1,316.2 L811.9,314.1 L812.6,318.9 L813.4,313.9 L814.1,315.9 L814.9,313.7 L815.6,316.4 L816.4,313.4 L817.1,316.2 L817.9,313.7 L818.6,315.4 L819.4,314.1 L820.1,315.5 L820.9,314.3 L821.6,315.5 L822.4,313.8 L823.1,315.5 L823.9,313.9 L824.6,315.5 L825.4,313.8 L826.1,315.4 L826.9,314.5 L827.6,316.2 L828.4,314.5 L829.1,315.8 L829.9,314.4 L830.6,315.5 L831.4,314.4 L832.1,315.4 L832.9,314.1 L833.6,315.9 L834.4,312.4 L835.1,315.6 L835.9,314.2 L836.6,315.3 L837.4,314.4 L838.1,315.7 L838.9,314.1 L839.6,316.0 L840.4,314.5 L841.1,316.0 L841.9,313.8 L842.6,317.5 L843.4,314.2 L844.1,316.0 L844.9,314.4 L845.6,315.4 L846.4,314.3 L847.1,315.7 L847.9,313.7 L848.6,316.4 L849.4,313.9 L850.1,315.8 L850.9,313.5 L851.6,315.8 L852.4,313.8 L853.1,316.0 L853.9,314.3 L854.6,315.5 L855.4,313.7 L856.1,315.7 L856.9,313.9 L857.6,316.1 L858.4,313.3 L859.1,315.5 L859.9,310.6 L860.6,316.8 L861.4,313.5 L862.1,315.9 L862.9,313.5 L863.6,316.2 L864.4,311.6 L865.1,315.9 L865.9,313.2 L866.6,316.7 L867.4,313.9 L868.1,315.6 L868.9,313.2 L869.6,315.9 L870.4,313.2 L871.1,315.6 L871.9,314.3 L872.6,316.2 L873.4,310.6 L874.1,316.4 L874.9,314.3 L875.6,316.0 L876.4,313.2 L877.1,315.5 L877.9,313.9 L878.6,315.8 L879.4,313.9 L880.1,315.8 L880.9,314.3 L881.6,316.3 L882.4,313.9 L883.1,315.5 L883.9,313.5 L884.6,316.3 L885.4,314.1 L886.1,316.1 L886.9,313.6 L887.6,315.3 L888.4,314.2 L889.1,316.1 L889.9,313.9 L890.6,316.0 L891.4,313.9 L892.1,315.8 L892.9,314.2 L893.6,315.5 L894.4,314.1 L895.1,315.7 L895.9,314.3 L896.6,315.6 L897.4,314.3 L898.1,315.4 L898.9,314.0 L899.6,318.2 L900.4,314.3 L901.1,315.5 L901.9,314.2 L902.6,315.9 L903.4,314.2 L904.1,315.8 L904.9,314.4 L905.6,315.0 L906.8,314.6 L908.0,315.1 L909.2,314.7 L910.4,315.1 L911.6,314.8 L912.8,315.2 L914.0,314.6 L915.2,315.2 L916.4,314.8 L917.6,315.2 L918.8,314.7 L920.0,315.1 L921.2,314.7 L922.4,315.2 L923.6,314.8 L924.8,315.2 L926.0,314.7 L927.2,315.2 L928.4,314.6 L929.6,315.2 L930.8,314.7 L932.0,315.2 L933.2,314.6 L934.4,315.1 L935.6,314.6 L936.8,315.2 L938.0,314.7 L939.2,315.1 L940.4,314.8 L941.6,315.1 L942.8,314.7 L944.0,315.1 L945.2,314.7 L946.4,315.0 L947.6,314.7 L948.8,315.1 L950.0,314.7 L951.2,315.1 L952.4,314.7 L953.6,315.2 L954.8,314.8 L956.0,315.2 L957.2,314.6 L958.4,315.2 L959.6,314.7 L960.8,315.2 L962.0,314.7 L963.2,315.2 L964.4,314.6 L965.6,315.2 L966.8,314.7 L968.0,315.0 L969.2,314.6 L970.4,315.1 L971.6,314.6 L972.8,315.1 L974.0,314.7 L975.2,315.1 L976.4,314.6 L977.6,315.2 L978.8,314.7 L980.0,315.1 L981.2,314.7 L982.4,315.1 L983.6,314.6 L984.8,315.0 L986.0,314.6 L987.2,315.2 L988.4,314.8 L989.6,315.2 L990.8,314.8 L992.0,315.1 L993.2,314.8 L994.4,315.2 L995.6,314.7 L996.8,315.2 L998.0,314.8 L999.2,315.2 L1000.4,314.8 L1001.6,315.0 L1002.8,314.7 L1004.0,315.2 L1005.2,314.6 L1006.4,315.2 L1007.6,314.6 L1008.8,315.1 L1010.0,314.8 L1010.8,314.9" fill="none" stroke="#c9a227" stroke-width="1.9" stroke-linejoin="round" />
<text x="1002.0" y="56.6" font-size="17.5" font-weight="bold" font-style="normal" fill="#222" text-anchor="end" >~40 µW/cm<tspan dy="-5.4" font-size="11.6">2</tspan></text>
<text x="996.5" y="107.5" font-size="17.5" font-weight="bold" font-style="normal" fill="#cc2f30" text-anchor="end" >~4 µW/cm<tspan dy="-5.4" font-size="11.6">2</tspan></text>
<text x="1004.7" y="153.4" font-size="17.5" font-weight="bold" font-style="normal" fill="#2a6fb5" text-anchor="end" >~400 nW/cm<tspan dy="-5.4" font-size="11.6">2</tspan></text>
<text x="1002.5" y="205.2" font-size="17.5" font-weight="bold" font-style="normal" fill="#2a9d60" text-anchor="end" >~40 nW/cm<tspan dy="-5.4" font-size="11.6">2</tspan></text>
<text x="998.5" y="253.7" font-size="17.5" font-weight="bold" font-style="normal" fill="#9b79c6" text-anchor="end" >~4 nW/cm<tspan dy="-5.4" font-size="11.6">2</tspan></text>
<text x="1004.7" y="302.7" font-size="17.5" font-weight="bold" font-style="normal" fill="#c9a227" text-anchor="end" >~400 pW/cm<tspan dy="-5.4" font-size="11.6">2</tspan></text>
<text x="0.2" y="452.4" font-size="31" font-weight="bold" font-style="normal" fill="#111" text-anchor="start" >(c)</text>
<g transform="translate(79.5,462.5)"><rect x="0" y="0" width="109" height="109" fill="url(#sg0)"/><rect x="0" y="0" width="109" height="109" fill="none" stroke="#bbb" stroke-width="0.6"/></g>
<text x="138.5" y="454.8" font-size="20.5" font-weight="bold" font-style="italic" fill="#111" text-anchor="middle" >m= 201</text>
<g transform="translate(211.8,462.5)"><rect x="0" y="0" width="109" height="109" fill="url(#sg1)"/><rect x="0" y="0" width="109" height="109" fill="none" stroke="#bbb" stroke-width="0.6"/></g>
<text x="270.8" y="454.8" font-size="20.5" font-weight="bold" font-style="italic" fill="#111" text-anchor="middle" >m= 202</text>
<g transform="translate(345.2,462.5)"><rect x="0" y="0" width="109" height="109" fill="url(#sg2)"/><rect x="0" y="0" width="109" height="109" fill="none" stroke="#bbb" stroke-width="0.6"/></g>
<text x="404.2" y="454.8" font-size="20.5" font-weight="bold" font-style="italic" fill="#111" text-anchor="middle" >m= 203</text>
<g transform="translate(477.3,462.5)"><rect x="0" y="0" width="109" height="109" fill="url(#sg3)"/><rect x="0" y="0" width="109" height="109" fill="none" stroke="#bbb" stroke-width="0.6"/></g>
<text x="536.3" y="454.8" font-size="20.5" font-weight="bold" font-style="italic" fill="#111" text-anchor="middle" >m= 204</text>
<text transform="translate(44,521.4) rotate(-90)" font-size="21" font-weight="bold" fill="#111" text-anchor="middle">Pattern</text>
<rect x="196.5" y="597.2" width="133.7" height="359.29999999999995" fill="#edf3f8"/>
<rect x="463.9" y="597.2" width="133.39999999999998" height="359.29999999999995" fill="#edf3f8"/>
<path d="M63.5,625.0 L65.1,624.5 L66.7,625.0 L68.3,624.0 L69.9,624.2 L71.5,623.4 L73.1,624.2 L74.7,624.5 L76.3,625.2 L77.9,625.0 L79.5,625.3 L81.1,625.2 L82.7,624.9 L84.3,625.1 L85.9,624.6 L87.5,624.5 L89.1,625.0 L90.7,625.1 L92.3,625.0 L93.9,626.0 L95.5,626.0 L97.1,625.6 L98.7,625.7 L100.3,625.4 L101.9,625.3 L103.5,625.1 L105.1,626.1 L106.7,626.0 L108.3,626.0 L109.9,626.3 L111.5,627.0 L113.1,626.7 L114.7,626.3 L116.3,627.3 L117.9,626.3 L119.5,626.0 L121.1,626.3 L122.7,627.2 L124.3,626.5 L125.9,625.3 L127.5,625.6 L129.1,625.3 L130.7,625.2 L132.3,625.4 L133.9,625.6 L135.5,625.7 L137.1,625.5 L138.7,626.0 L140.3,626.6 L141.9,626.5 L143.5,626.1 L145.1,626.4 L146.7,626.5 L148.3,625.8 L149.9,625.6 L151.5,626.0 L153.1,625.9 L154.7,625.7 L156.3,625.8 L157.9,625.7 L159.5,625.7 L161.1,624.8 L162.7,625.7 L164.3,625.7 L165.9,625.3 L167.5,625.8 L169.1,625.9 L170.7,625.8 L172.3,626.3 L173.9,627.2 L175.5,627.2 L177.1,627.6 L178.7,628.3 L180.3,627.4 L181.9,626.9 L183.5,627.0 L185.1,626.0 L186.7,625.8 L188.3,626.4 L189.9,626.7 L191.5,626.8 L193.1,625.7 L194.7,626.8 L196.3,626.8 L196.5,626.8 L197.3,639.3 L198.9,639.5 L200.5,639.5 L202.1,638.5 L203.7,637.8 L205.3,637.2 L206.9,638.2 L208.5,637.8 L210.1,637.7 L211.7,637.7 L213.3,638.0 L214.9,638.2 L216.5,638.3 L218.1,637.7 L219.7,636.3 L221.3,636.6 L222.9,637.0 L224.5,637.7 L226.1,637.7 L227.7,637.5 L229.3,637.7 L230.9,637.1 L232.5,636.7 L234.1,636.5 L235.7,636.8 L237.3,637.9 L238.9,638.3 L240.5,638.8 L242.1,638.8 L243.7,638.8 L245.3,638.5 L246.9,638.3 L248.5,637.1 L250.1,636.7 L251.7,636.3 L253.3,637.0 L254.9,637.4 L256.5,638.0 L258.1,638.7 L259.7,638.5 L261.3,638.9 L262.9,639.6 L264.5,639.4 L266.1,639.7 L267.7,639.3 L269.3,638.4 L270.9,638.4 L272.5,638.0 L274.1,638.0 L275.7,637.8 L277.3,638.0 L278.9,637.0 L280.5,638.1 L282.1,638.7 L283.7,638.4 L285.3,638.0 L286.9,638.0 L288.5,638.3 L290.1,638.4 L291.7,638.5 L293.3,637.6 L294.9,637.1 L296.5,637.9 L298.1,638.0 L299.7,637.3 L301.3,637.0 L302.9,636.5 L304.5,636.3 L306.1,637.1 L307.7,637.1 L309.3,637.8 L310.9,637.9 L312.5,637.2 L314.1,637.0 L315.7,638.2 L317.3,637.8 L318.9,637.4 L320.5,638.0 L322.1,638.1 L323.7,638.1 L325.3,638.7 L326.9,637.8 L328.5,638.0 L330.1,637.5 L330.2,637.5 L331.0,616.5 L332.6,616.0 L334.2,615.7 L335.8,616.5 L337.4,616.5 L339.0,615.7 L340.6,615.4 L342.2,616.3 L343.8,616.9 L345.4,616.4 L347.0,617.6 L348.6,617.4 L350.2,616.8 L351.8,616.7 L353.4,617.2 L355.0,617.9 L356.6,618.2 L358.2,617.9 L359.8,617.5 L361.4,616.7 L363.0,616.7 L364.6,616.5 L366.2,616.7 L367.8,616.2 L369.4,616.0 L371.0,615.8 L372.6,615.4 L374.2,615.1 L375.8,614.9 L377.4,614.7 L379.0,615.3 L380.6,615.6 L382.2,615.2 L383.8,615.7 L385.4,616.0 L387.0,616.8 L388.6,616.8 L390.2,616.7 L391.8,616.4 L393.4,616.6 L395.0,616.9 L396.6,617.0 L398.2,616.9 L399.8,617.1 L401.4,617.2 L403.0,617.3 L404.6,616.8 L406.2,616.9 L407.8,616.5 L409.4,616.2 L411.0,616.4 L412.6,617.4 L414.2,617.8 L415.8,617.7 L417.4,617.5 L419.0,617.9 L420.6,618.4 L422.2,618.7 L423.8,618.4 L425.4,618.3 L427.0,617.9 L428.6,617.7 L430.2,617.2 L431.8,617.0 L433.4,616.0 L435.0,615.6 L436.6,616.0 L438.2,615.7 L439.8,616.2 L441.4,615.7 L443.0,615.7 L444.6,616.1 L446.2,615.8 L447.8,615.6 L449.4,617.0 L451.0,616.7 L452.6,616.4 L454.2,616.2 L455.8,616.3 L457.4,616.4 L459.0,617.0 L460.6,617.3 L462.2,617.1 L463.8,616.9 L463.9,616.9 L464.7,641.9 L466.3,641.3 L467.9,640.7 L469.5,640.6 L471.1,641.1 L472.7,641.3 L474.3,641.8 L475.9,642.2 L477.5,642.1 L479.1,643.1 L480.7,642.7 L482.3,642.3 L483.9,642.0 L485.5,642.6 L487.1,642.4 L488.7,642.0 L490.3,642.2 L491.9,642.7 L493.5,642.5 L495.1,642.3 L496.7,642.8 L498.3,643.1 L499.9,643.4 L501.5,642.8 L503.1,642.8 L504.7,642.9 L506.3,641.9 L507.9,642.5 L509.5,642.5 L511.1,642.2 L512.7,643.2 L514.3,643.1 L515.9,642.6 L517.5,642.5 L519.1,642.7 L520.7,643.0 L522.3,642.8 L523.9,642.3 L525.5,641.9 L527.1,641.5 L528.7,641.1 L530.3,641.3 L531.9,641.1 L533.5,641.3 L535.1,641.0 L536.7,640.8 L538.3,640.9 L539.9,640.9 L541.5,641.6 L543.1,641.2 L544.7,641.4 L546.3,641.5 L547.9,641.0 L549.5,641.5 L551.1,641.6 L552.7,640.7 L554.3,641.2 L555.9,641.7 L557.5,641.4 L559.1,642.3 L560.7,642.3 L562.3,641.7 L563.9,642.0 L565.5,641.9 L567.1,641.3 L568.7,640.4 L570.3,640.7 L571.9,640.6 L573.5,641.1 L575.1,641.4 L576.7,641.3 L578.3,641.1 L579.9,642.1 L581.5,642.8 L583.1,643.1 L584.7,642.7 L586.3,642.2 L587.9,642.0 L589.5,642.7 L591.1,642.8 L592.7,642.6 L594.3,641.9 L595.9,642.0" fill="none" stroke="#444" stroke-width="1.5" stroke-linejoin="round" />
<path d="M69.6,632.5 L74.6,632.5 L74.6,652.5 L69.6,652.5" fill="none" stroke="#888" stroke-width="1.1"/>
<text x="77.6" y="647.8" font-size="16.5" font-weight="normal" font-style="normal" fill="#6a6a76" text-anchor="start" >10<tspan dy="-6.5" font-size="11">-6</tspan></text>
<text x="589.4" y="624.8" font-size="17.5" font-weight="bold" font-style="normal" fill="#222" text-anchor="end" >~40 µW/cm<tspan dy="-5.4" font-size="11.6">2</tspan></text>
<path d="M63.5,680.6 L65.1,680.7 L66.7,681.1 L68.3,681.5 L69.9,681.5 L71.5,681.3 L73.1,681.3 L74.7,682.1 L76.3,682.1 L77.9,681.3 L79.5,682.0 L81.1,681.9 L82.7,683.4 L84.3,682.8 L85.9,682.5 L87.5,682.1 L89.1,682.1 L90.7,681.7 L92.3,680.9 L93.9,680.1 L95.5,680.1 L97.1,680.0 L98.7,679.9 L100.3,681.0 L101.9,681.4 L103.5,681.8 L105.1,681.5 L106.7,681.6 L108.3,681.4 L109.9,681.2 L111.5,681.5 L113.1,681.7 L114.7,681.8 L116.3,681.7 L117.9,680.9 L119.5,680.6 L121.1,680.8 L122.7,680.7 L124.3,680.4 L125.9,680.6 L127.5,680.3 L129.1,680.1 L130.7,680.6 L132.3,680.5 L133.9,681.2 L135.5,681.4 L137.1,681.7 L138.7,682.2 L140.3,681.0 L141.9,681.0 L143.5,680.4 L145.1,680.3 L146.7,680.3 L148.3,681.0 L149.9,681.0 L151.5,681.7 L153.1,681.4 L154.7,681.3 L156.3,681.3 L157.9,681.7 L159.5,681.6 L161.1,681.2 L162.7,681.0 L164.3,680.4 L165.9,681.0 L167.5,681.4 L169.1,681.5 L170.7,681.6 L172.3,681.2 L173.9,681.0 L175.5,681.4 L177.1,680.9 L178.7,680.6 L180.3,681.4 L181.9,682.0 L183.5,682.0 L185.1,682.1 L186.7,682.0 L188.3,682.5 L189.9,682.1 L191.5,682.0 L193.1,682.0 L194.7,682.5 L196.3,682.2 L196.5,682.2 L197.3,691.7 L198.9,691.6 L200.5,691.2 L202.1,690.8 L203.7,690.5 L205.3,690.5 L206.9,690.9 L208.5,690.5 L210.1,690.3 L211.7,690.1 L213.3,690.3 L214.9,690.7 L216.5,690.1 L218.1,690.3 L219.7,689.9 L221.3,690.3 L222.9,689.9 L224.5,689.5 L226.1,689.3 L227.7,689.5 L229.3,689.2 L230.9,689.5 L232.5,689.7 L234.1,689.8 L235.7,690.1 L237.3,690.5 L238.9,690.2 L240.5,690.2 L242.1,690.3 L243.7,689.4 L245.3,689.7 L246.9,689.5 L248.5,689.3 L250.1,689.3 L251.7,689.5 L253.3,689.8 L254.9,690.1 L256.5,689.9 L258.1,690.3 L259.7,690.5 L261.3,690.3 L262.9,690.3 L264.5,690.7 L266.1,690.9 L267.7,691.1 L269.3,691.1 L270.9,691.5 L272.5,692.4 L274.1,692.3 L275.7,691.3 L277.3,692.0 L278.9,691.5 L280.5,690.7 L282.1,689.6 L283.7,689.9 L285.3,690.5 L286.9,691.0 L288.5,690.7 L290.1,691.3 L291.7,691.2 L293.3,690.8 L294.9,690.8 L296.5,690.8 L298.1,690.8 L299.7,691.0 L301.3,689.9 L302.9,690.7 L304.5,690.4 L306.1,690.7 L307.7,690.3 L309.3,690.4 L310.9,690.4 L312.5,689.7 L314.1,690.0 L315.7,690.3 L317.3,689.9 L318.9,689.0 L320.5,688.9 L322.1,688.8 L323.7,689.1 L325.3,689.3 L326.9,690.2 L328.5,690.5 L330.1,690.4 L330.2,690.4 L331.0,670.4 L332.6,670.5 L334.2,669.2 L335.8,669.0 L337.4,668.8 L339.0,669.0 L340.6,669.4 L342.2,669.6 L343.8,670.2 L345.4,669.9 L347.0,670.2 L348.6,670.1 L350.2,670.2 L351.8,670.4 L353.4,670.3 L355.0,670.4 L356.6,670.4 L358.2,670.9 L359.8,670.8 L361.4,670.9 L363.0,672.0 L364.6,672.0 L366.2,672.0 L367.8,672.3 L369.4,671.6 L371.0,671.7 L372.6,671.9 L374.2,671.9 L375.8,672.1 L377.4,672.2 L379.0,672.5 L380.6,671.9 L382.2,671.9 L383.8,671.4 L385.4,671.9 L387.0,671.7 L388.6,670.9 L390.2,670.9 L391.8,670.4 L393.4,670.9 L395.0,670.7 L396.6,669.7 L398.2,669.6 L399.8,670.2 L401.4,670.4 L403.0,670.1 L404.6,670.5 L406.2,670.7 L407.8,671.4 L409.4,671.6 L411.0,671.6 L412.6,671.1 L414.2,671.1 L415.8,671.2 L417.4,671.1 L419.0,671.2 L420.6,670.6 L422.2,670.8 L423.8,670.8 L425.4,670.9 L427.0,670.8 L428.6,670.6 L430.2,670.7 L431.8,671.0 L433.4,670.8 L435.0,670.9 L436.6,670.5 L438.2,670.7 L439.8,670.7 L441.4,670.1 L443.0,670.7 L444.6,670.2 L446.2,670.3 L447.8,669.7 L449.4,669.1 L451.0,669.6 L452.6,669.1 L454.2,668.4 L455.8,668.6 L457.4,668.2 L459.0,668.5 L460.6,669.6 L462.2,669.5 L463.8,669.8 L463.9,669.8 L464.7,692.8 L466.3,693.2 L467.9,693.3 L469.5,693.3 L471.1,694.0 L472.7,693.9 L474.3,694.0 L475.9,694.0 L477.5,693.3 L479.1,693.5 L480.7,693.5 L482.3,693.8 L483.9,694.1 L485.5,694.7 L487.1,693.7 L488.7,693.4 L490.3,693.2 L491.9,692.9 L493.5,693.1 L495.1,693.2 L496.7,693.3 L498.3,692.6 L499.9,692.3 L501.5,692.4 L503.1,692.4 L504.7,692.3 L506.3,692.4 L507.9,692.5 L509.5,692.1 L511.1,693.1 L512.7,692.8 L514.3,693.2 L515.9,693.5 L517.5,694.0 L519.1,693.6 L520.7,693.2 L522.3,693.4 L523.9,693.5 L525.5,692.5 L527.1,691.5 L528.7,691.5 L530.3,691.7 L531.9,691.8 L533.5,692.3 L535.1,692.0 L536.7,693.4 L538.3,693.8 L539.9,694.4 L541.5,694.3 L543.1,693.3 L544.7,693.4 L546.3,693.2 L547.9,693.4 L549.5,693.4 L551.1,693.7 L552.7,693.3 L554.3,693.2 L555.9,693.2 L557.5,692.9 L559.1,692.8 L560.7,693.2 L562.3,694.1 L563.9,693.9 L565.5,694.2 L567.1,693.6 L568.7,693.4 L570.3,693.5 L571.9,693.8 L573.5,693.3 L575.1,693.6 L576.7,693.6 L578.3,694.2 L579.9,694.5 L581.5,694.6 L583.1,694.3 L584.7,694.3 L586.3,693.8 L587.9,693.4 L589.5,692.6 L591.1,692.1 L592.7,691.8 L594.3,692.0 L595.9,692.3" fill="none" stroke="#d05050" stroke-width="1.5" stroke-linejoin="round" />
<path d="M69.6,691.4 L74.6,691.4 L74.6,711.4 L69.6,711.4" fill="none" stroke="#888" stroke-width="1.1"/>
<text x="77.6" y="706.7" font-size="16.5" font-weight="normal" font-style="normal" fill="#6a6a76" text-anchor="start" >10<tspan dy="-6.5" font-size="11">-7</tspan></text>
<text x="586.3" y="681.3" font-size="17.5" font-weight="bold" font-style="normal" fill="#cc2f30" text-anchor="end" >~4 µW/cm<tspan dy="-5.4" font-size="11.6">2</tspan></text>
<path d="M63.5,758.4 L65.1,758.4 L66.7,758.7 L68.3,759.2 L69.9,759.1 L71.5,759.2 L73.1,759.0 L74.7,759.4 L76.3,758.6 L77.9,758.8 L79.5,757.8 L81.1,758.7 L82.7,759.2 L84.3,758.2 L85.9,758.1 L87.5,757.6 L89.1,757.0 L90.7,757.1 L92.3,757.0 L93.9,757.8 L95.5,757.7 L97.1,757.4 L98.7,757.6 L100.3,758.0 L101.9,758.5 L103.5,758.8 L105.1,758.2 L106.7,757.9 L108.3,758.0 L109.9,757.8 L111.5,758.3 L113.1,758.2 L114.7,758.3 L116.3,758.2 L117.9,758.4 L119.5,757.8 L121.1,758.9 L122.7,758.7 L124.3,758.4 L125.9,757.7 L127.5,757.8 L129.1,757.4 L130.7,757.8 L132.3,758.5 L133.9,758.8 L135.5,758.6 L137.1,759.3 L138.7,759.1 L140.3,759.1 L141.9,759.1 L143.5,758.9 L145.1,759.1 L146.7,758.5 L148.3,757.8 L149.9,758.5 L151.5,758.2 L153.1,758.2 L154.7,758.4 L156.3,758.3 L157.9,757.9 L159.5,758.0 L161.1,757.7 L162.7,758.1 L164.3,758.1 L165.9,758.1 L167.5,758.5 L169.1,757.9 L170.7,757.4 L172.3,758.0 L173.9,758.7 L175.5,758.8 L177.1,758.5 L178.7,759.1 L180.3,759.3 L181.9,759.7 L183.5,758.8 L185.1,758.8 L186.7,758.3 L188.3,757.9 L189.9,758.3 L191.5,758.8 L193.1,758.6 L194.7,758.5 L196.3,759.2 L196.5,759.2 L197.3,762.2 L198.9,762.5 L200.5,762.3 L202.1,762.5 L203.7,762.5 L205.3,761.8 L206.9,761.6 L208.5,761.8 L210.1,762.1 L211.7,761.5 L213.3,761.2 L214.9,761.1 L216.5,760.6 L218.1,761.2 L219.7,761.6 L221.3,762.2 L222.9,761.2 L224.5,760.9 L226.1,761.9 L227.7,761.3 L229.3,760.6 L230.9,760.9 L232.5,761.7 L234.1,762.1 L235.7,761.6 L237.3,761.9 L238.9,762.1 L240.5,762.2 L242.1,762.3 L243.7,762.6 L245.3,763.1 L246.9,763.5 L248.5,763.7 L250.1,763.4 L251.7,762.4 L253.3,762.5 L254.9,761.8 L256.5,762.8 L258.1,762.2 L259.7,761.3 L261.3,760.6 L262.9,761.0 L264.5,761.3 L266.1,761.7 L267.7,761.8 L269.3,761.5 L270.9,761.9 L272.5,761.6 L274.1,761.0 L275.7,761.6 L277.3,761.9 L278.9,761.5 L280.5,761.4 L282.1,762.0 L283.7,762.4 L285.3,761.8 L286.9,762.3 L288.5,761.1 L290.1,761.3 L291.7,761.6 L293.3,761.6 L294.9,761.7 L296.5,761.0 L298.1,761.1 L299.7,761.4 L301.3,761.1 L302.9,761.3 L304.5,761.3 L306.1,760.4 L307.7,760.4 L309.3,760.9 L310.9,760.4 L312.5,760.6 L314.1,761.0 L315.7,760.5 L317.3,760.6 L318.9,761.2 L320.5,761.7 L322.1,761.3 L323.7,761.8 L325.3,762.0 L326.9,762.1 L328.5,762.7 L330.1,762.9 L330.2,762.9 L331.0,747.4 L332.6,747.4 L334.2,747.7 L335.8,747.8 L337.4,748.2 L339.0,747.9 L340.6,746.9 L342.2,747.5 L343.8,747.7 L345.4,747.8 L347.0,747.6 L348.6,747.4 L350.2,747.3 L351.8,746.8 L353.4,747.1 L355.0,747.0 L356.6,746.5 L358.2,746.6 L359.8,746.5 L361.4,746.4 L363.0,746.7 L364.6,747.9 L366.2,747.2 L367.8,747.3 L369.4,747.5 L371.0,747.5 L372.6,748.0 L374.2,747.6 L375.8,747.3 L377.4,747.2 L379.0,746.4 L380.6,746.9 L382.2,746.3 L383.8,746.6 L385.4,747.1 L387.0,746.6 L388.6,746.5 L390.2,746.4 L391.8,747.2 L393.4,747.2 L395.0,746.3 L396.6,746.8 L398.2,747.2 L399.8,746.2 L401.4,745.1 L403.0,746.4 L404.6,746.5 L406.2,745.5 L407.8,746.2 L409.4,746.8 L411.0,745.7 L412.6,746.4 L414.2,746.7 L415.8,746.7 L417.4,746.3 L419.0,746.5 L420.6,746.2 L422.2,746.3 L423.8,746.2 L425.4,746.0 L427.0,746.4 L428.6,746.8 L430.2,747.2 L431.8,747.3 L433.4,747.9 L435.0,747.1 L436.6,747.1 L438.2,747.1 L439.8,747.5 L441.4,746.4 L443.0,746.2 L444.6,746.1 L446.2,746.2 L447.8,747.3 L449.4,747.3 L451.0,747.1 L452.6,747.2 L454.2,747.5 L455.8,747.3 L457.4,747.9 L459.0,747.2 L460.6,747.6 L462.2,747.8 L463.8,748.0 L463.9,748.0 L464.7,765.0 L466.3,765.5 L467.9,765.1 L469.5,765.0 L471.1,764.9 L472.7,764.4 L474.3,764.0 L475.9,763.5 L477.5,763.9 L479.1,762.8 L480.7,762.4 L482.3,762.6 L483.9,763.3 L485.5,763.3 L487.1,763.9 L488.7,763.8 L490.3,763.5 L491.9,762.8 L493.5,763.0 L495.1,763.8 L496.7,763.8 L498.3,763.3 L499.9,763.6 L501.5,763.0 L503.1,762.5 L504.7,763.2 L506.3,763.4 L507.9,763.9 L509.5,763.9 L511.1,763.8 L512.7,763.8 L514.3,763.6 L515.9,764.1 L517.5,763.4 L519.1,762.6 L520.7,762.3 L522.3,762.9 L523.9,762.8 L525.5,761.8 L527.1,763.4 L528.7,763.0 L530.3,763.0 L531.9,763.3 L533.5,763.5 L535.1,763.4 L536.7,762.7 L538.3,763.1 L539.9,762.7 L541.5,762.7 L543.1,763.2 L544.7,763.1 L546.3,762.3 L547.9,762.2 L549.5,762.7 L551.1,763.1 L552.7,762.6 L554.3,762.8 L555.9,763.0 L557.5,763.6 L559.1,763.7 L560.7,763.8 L562.3,763.6 L563.9,763.8 L565.5,764.1 L567.1,763.9 L568.7,763.7 L570.3,764.5 L571.9,764.3 L573.5,763.8 L575.1,764.1 L576.7,763.4 L578.3,763.0 L579.9,763.5 L581.5,763.5 L583.1,763.8 L584.7,764.1 L586.3,763.7 L587.9,763.9 L589.5,763.7 L591.1,763.7 L592.7,763.8 L594.3,763.7 L595.9,763.1" fill="none" stroke="#3a6ea5" stroke-width="1.5" stroke-linejoin="round" />
<path d="M69.6,726.8 L74.6,726.8 L74.6,746.8 L69.6,746.8" fill="none" stroke="#888" stroke-width="1.1"/>
<text x="77.6" y="742.1" font-size="16.5" font-weight="normal" font-style="normal" fill="#6a6a76" text-anchor="start" >10<tspan dy="-6.5" font-size="11">-8</tspan></text>
<text x="595.5" y="738.8" font-size="17.5" font-weight="bold" font-style="normal" fill="#2a6fb5" text-anchor="end" >~400 nW/cm<tspan dy="-5.4" font-size="11.6">2</tspan></text>
<path d="M63.5,806.7 L65.1,806.7 L66.7,806.9 L68.3,806.4 L69.9,806.5 L71.5,806.5 L73.1,806.3 L74.7,806.2 L76.3,806.2 L77.9,805.6 L79.5,805.5 L81.1,805.5 L82.7,805.9 L84.3,805.9 L85.9,806.6 L87.5,806.9 L89.1,807.0 L90.7,807.0 L92.3,806.3 L93.9,806.5 L95.5,807.1 L97.1,806.6 L98.7,807.2 L100.3,807.4 L101.9,807.4 L103.5,807.1 L105.1,807.0 L106.7,806.6 L108.3,806.6 L109.9,806.6 L111.5,806.6 L113.1,806.1 L114.7,806.6 L116.3,806.3 L117.9,806.5 L119.5,806.8 L121.1,806.7 L122.7,807.7 L124.3,807.6 L125.9,807.7 L127.5,807.4 L129.1,807.4 L130.7,806.7 L132.3,807.0 L133.9,806.8 L135.5,806.5 L137.1,806.9 L138.7,807.2 L140.3,806.9 L141.9,806.4 L143.5,805.6 L145.1,805.3 L146.7,805.7 L148.3,806.1 L149.9,805.6 L151.5,805.8 L153.1,806.4 L154.7,806.1 L156.3,805.9 L157.9,805.6 L159.5,805.9 L161.1,805.2 L162.7,805.4 L164.3,805.8 L165.9,805.9 L167.5,806.4 L169.1,806.7 L170.7,806.5 L172.3,806.0 L173.9,805.7 L175.5,806.0 L177.1,806.0 L178.7,806.2 L180.3,805.8 L181.9,806.5 L183.5,806.9 L185.1,807.2 L186.7,806.6 L188.3,807.7 L189.9,807.9 L191.5,807.3 L193.1,807.6 L194.7,807.4 L196.3,806.9 L196.5,806.9 L197.3,807.8 L198.9,807.4 L200.5,807.7 L202.1,807.8 L203.7,807.8 L205.3,807.7 L206.9,807.2 L208.5,807.4 L210.1,807.3 L211.7,807.2 L213.3,807.5 L214.9,808.3 L216.5,807.9 L218.1,808.2 L219.7,807.8 L221.3,808.1 L222.9,808.3 L224.5,808.2 L226.1,808.2 L227.7,807.8 L229.3,807.6 L230.9,808.0 L232.5,808.2 L234.1,809.1 L235.7,808.4 L237.3,808.1 L238.9,808.1 L240.5,808.0 L242.1,807.7 L243.7,807.5 L245.3,807.4 L246.9,808.0 L248.5,807.9 L250.1,807.5 L251.7,807.6 L253.3,806.5 L254.9,806.2 L256.5,806.2 L258.1,806.5 L259.7,805.6 L261.3,805.8 L262.9,805.6 L264.5,806.3 L266.1,806.8 L267.7,806.8 L269.3,807.1 L270.9,806.6 L272.5,806.8 L274.1,807.1 L275.7,807.6 L277.3,807.4 L278.9,806.5 L280.5,807.0 L282.1,806.6 L283.7,806.5 L285.3,806.5 L286.9,807.4 L288.5,807.4 L290.1,807.9 L291.7,807.9 L293.3,807.2 L294.9,807.4 L296.5,807.7 L298.1,807.4 L299.7,806.7 L301.3,808.1 L302.9,808.9 L304.5,808.9 L306.1,808.9 L307.7,809.1 L309.3,809.1 L310.9,808.2 L312.5,807.5 L314.1,807.9 L315.7,808.4 L317.3,808.7 L318.9,808.9 L320.5,808.7 L322.1,808.9 L323.7,809.4 L325.3,809.4 L326.9,809.6 L328.5,809.8 L330.1,809.2 L330.2,809.2 L331.0,798.7 L332.6,798.9 L334.2,798.3 L335.8,797.7 L337.4,798.3 L339.0,797.4 L340.6,797.3 L342.2,797.6 L343.8,797.7 L345.4,797.4 L347.0,797.0 L348.6,797.2 L350.2,797.4 L351.8,797.3 L353.4,796.8 L355.0,796.2 L356.6,796.3 L358.2,796.4 L359.8,796.9 L361.4,796.8 L363.0,797.2 L364.6,796.6 L366.2,795.9 L367.8,796.5 L369.4,796.4 L371.0,796.1 L372.6,796.2 L374.2,795.8 L375.8,795.8 L377.4,795.4 L379.0,795.7 L380.6,795.6 L382.2,795.8 L383.8,796.0 L385.4,796.3 L387.0,795.7 L388.6,796.0 L390.2,796.0 L391.8,795.7 L393.4,795.7 L395.0,796.2 L396.6,796.5 L398.2,797.4 L399.8,797.2 L401.4,797.3 L403.0,798.1 L404.6,797.6 L406.2,797.2 L407.8,797.0 L409.4,796.7 L411.0,796.7 L412.6,796.8 L414.2,796.5 L415.8,796.1 L417.4,796.2 L419.0,795.8 L420.6,795.6 L422.2,796.0 L423.8,796.1 L425.4,795.8 L427.0,795.4 L428.6,795.2 L430.2,794.8 L431.8,795.4 L433.4,795.9 L435.0,796.2 L436.6,796.5 L438.2,796.3 L439.8,796.5 L441.4,796.6 L443.0,796.7 L444.6,796.5 L446.2,796.1 L447.8,796.4 L449.4,796.6 L451.0,796.2 L452.6,796.2 L454.2,796.3 L455.8,796.7 L457.4,796.0 L459.0,795.5 L460.6,795.1 L462.2,794.9 L463.8,794.7 L463.9,794.7 L464.7,807.1 L466.3,807.8 L467.9,807.6 L469.5,808.8 L471.1,809.0 L472.7,809.3 L474.3,809.3 L475.9,809.7 L477.5,809.8 L479.1,810.1 L480.7,810.3 L482.3,810.4 L483.9,810.4 L485.5,810.7 L487.1,810.6 L488.7,810.2 L490.3,810.7 L491.9,810.3 L493.5,810.4 L495.1,811.1 L496.7,810.6 L498.3,810.3 L499.9,809.9 L501.5,809.4 L503.1,809.7 L504.7,809.6 L506.3,809.6 L507.9,808.8 L509.5,809.1 L511.1,808.8 L512.7,808.1 L514.3,808.0 L515.9,807.5 L517.5,808.5 L519.1,807.9 L520.7,808.2 L522.3,808.0 L523.9,807.8 L525.5,807.5 L527.1,808.3 L528.7,808.0 L530.3,807.9 L531.9,808.3 L533.5,808.3 L535.1,808.7 L536.7,808.5 L538.3,807.9 L539.9,808.4 L541.5,809.0 L543.1,809.3 L544.7,809.0 L546.3,809.5 L547.9,809.9 L549.5,809.6 L551.1,809.8 L552.7,809.7 L554.3,809.7 L555.9,810.0 L557.5,810.3 L559.1,810.2 L560.7,810.1 L562.3,808.9 L563.9,808.6 L565.5,808.9 L567.1,808.7 L568.7,808.9 L570.3,808.9 L571.9,809.0 L573.5,809.1 L575.1,809.7 L576.7,809.9 L578.3,809.9 L579.9,809.3 L581.5,809.5 L583.1,809.0 L584.7,809.6 L586.3,809.3 L587.9,809.0 L589.5,809.0 L591.1,808.6 L592.7,809.0 L594.3,809.2 L595.9,808.9" fill="none" stroke="#3d9a78" stroke-width="1.5" stroke-linejoin="round" />
<path d="M69.6,781.7 L74.6,781.7 L74.6,801.7 L69.6,801.7" fill="none" stroke="#888" stroke-width="1.1"/>
<text x="77.6" y="797.0" font-size="16.5" font-weight="normal" font-style="normal" fill="#6a6a76" text-anchor="start" >10<tspan dy="-6.5" font-size="11">-9</tspan></text>
<text x="589.4" y="795.2" font-size="17.5" font-weight="bold" font-style="normal" fill="#2a9d60" text-anchor="end" >~40 nW/cm<tspan dy="-5.4" font-size="11.6">2</tspan></text>
<path d="M63.5,867.7 L65.1,868.7 L66.7,869.2 L68.3,869.3 L69.9,869.3 L71.5,869.9 L73.1,869.4 L74.7,869.1 L76.3,868.8 L77.9,868.2 L79.5,867.7 L81.1,868.7 L82.7,868.7 L84.3,868.1 L85.9,868.0 L87.5,867.7 L89.1,867.5 L90.7,867.6 L92.3,866.9 L93.9,866.1 L95.5,866.3 L97.1,866.4 L98.7,866.0 L100.3,866.3 L101.9,866.2 L103.5,866.6 L105.1,866.7 L106.7,867.5 L108.3,868.3 L109.9,868.6 L111.5,868.6 L113.1,868.9 L114.7,869.2 L116.3,869.3 L117.9,869.5 L119.5,869.1 L121.1,869.3 L122.7,869.4 L124.3,869.4 L125.9,869.1 L127.5,868.8 L129.1,869.0 L130.7,868.6 L132.3,867.9 L133.9,868.8 L135.5,869.3 L137.1,868.7 L138.7,869.4 L140.3,868.1 L141.9,868.4 L143.5,868.7 L145.1,868.7 L146.7,868.5 L148.3,868.9 L149.9,869.0 L151.5,868.3 L153.1,867.9 L154.7,868.4 L156.3,868.8 L157.9,868.1 L159.5,867.3 L161.1,867.6 L162.7,867.3 L164.3,867.0 L165.9,866.9 L167.5,867.2 L169.1,866.3 L170.7,866.9 L172.3,866.9 L173.9,867.6 L175.5,867.1 L177.1,866.8 L178.7,867.2 L180.3,867.9 L181.9,867.9 L183.5,867.7 L185.1,868.5 L186.7,869.0 L188.3,869.0 L189.9,868.7 L191.5,869.3 L193.1,869.5 L194.7,869.1 L196.3,869.7 L196.5,869.7 L197.3,871.7 L198.9,872.1 L200.5,871.9 L202.1,871.9 L203.7,872.0 L205.3,871.5 L206.9,870.6 L208.5,871.2 L210.1,870.2 L211.7,869.4 L213.3,868.7 L214.9,869.2 L216.5,869.9 L218.1,869.6 L219.7,870.3 L221.3,871.2 L222.9,871.7 L224.5,870.8 L226.1,871.4 L227.7,872.4 L229.3,871.6 L230.9,870.5 L232.5,871.1 L234.1,871.2 L235.7,871.0 L237.3,870.9 L238.9,869.9 L240.5,869.5 L242.1,869.7 L243.7,870.0 L245.3,870.5 L246.9,870.9 L248.5,870.5 L250.1,870.4 L251.7,871.1 L253.3,870.3 L254.9,870.5 L256.5,870.0 L258.1,870.1 L259.7,871.1 L261.3,871.2 L262.9,870.8 L264.5,870.3 L266.1,869.5 L267.7,869.6 L269.3,868.5 L270.9,868.7 L272.5,869.0 L274.1,868.7 L275.7,868.5 L277.3,869.3 L278.9,870.1 L280.5,871.2 L282.1,871.6 L283.7,871.6 L285.3,871.2 L286.9,871.7 L288.5,871.8 L290.1,871.7 L291.7,872.4 L293.3,872.0 L294.9,871.8 L296.5,872.1 L298.1,872.1 L299.7,871.8 L301.3,872.1 L302.9,873.3 L304.5,872.6 L306.1,872.6 L307.7,872.5 L309.3,872.2 L310.9,872.8 L312.5,872.3 L314.1,872.9 L315.7,872.0 L317.3,871.8 L318.9,871.1 L320.5,871.1 L322.1,871.3 L323.7,871.5 L325.3,871.4 L326.9,871.0 L328.5,870.3 L330.1,870.7 L330.2,870.7 L331.0,857.9 L332.6,857.8 L334.2,858.4 L335.8,857.3 L337.4,857.2 L339.0,856.3 L340.6,857.0 L342.2,856.7 L343.8,856.2 L345.4,856.9 L347.0,856.9 L348.6,857.1 L350.2,857.1 L351.8,857.7 L353.4,857.8 L355.0,857.8 L356.6,857.8 L358.2,858.2 L359.8,858.7 L361.4,858.3 L363.0,858.6 L364.6,857.6 L366.2,857.1 L367.8,856.9 L369.4,856.6 L371.0,856.9 L372.6,856.3 L374.2,855.6 L375.8,856.0 L377.4,855.7 L379.0,856.0 L380.6,856.2 L382.2,856.0 L383.8,856.0 L385.4,856.6 L387.0,856.7 L388.6,856.9 L390.2,857.3 L391.8,856.9 L393.4,856.3 L395.0,856.3 L396.6,857.3 L398.2,857.6 L399.8,858.7 L401.4,859.0 L403.0,859.3 L404.6,858.7 L406.2,857.6 L407.8,856.5 L409.4,856.7 L411.0,856.2 L412.6,855.7 L414.2,856.2 L415.8,856.5 L417.4,856.0 L419.0,856.3 L420.6,857.2 L422.2,857.7 L423.8,857.3 L425.4,857.8 L427.0,856.6 L428.6,856.6 L430.2,856.4 L431.8,857.2 L433.4,856.6 L435.0,856.2 L436.6,856.2 L438.2,856.7 L439.8,856.1 L441.4,856.4 L443.0,856.3 L444.6,856.2 L446.2,855.7 L447.8,856.2 L449.4,856.4 L451.0,856.8 L452.6,856.9 L454.2,856.9 L455.8,856.5 L457.4,856.6 L459.0,857.1 L460.6,857.2 L462.2,857.5 L463.8,857.9 L463.9,857.9 L464.7,871.9 L466.3,872.0 L467.9,871.8 L469.5,871.2 L471.1,871.9 L472.7,871.7 L474.3,871.5 L475.9,871.5 L477.5,871.9 L479.1,872.3 L480.7,871.8 L482.3,871.7 L483.9,872.2 L485.5,871.7 L487.1,871.7 L488.7,871.2 L490.3,870.4 L491.9,869.9 L493.5,870.2 L495.1,870.5 L496.7,869.2 L498.3,869.4 L499.9,869.6 L501.5,869.0 L503.1,869.3 L504.7,869.2 L506.3,870.2 L507.9,869.8 L509.5,870.6 L511.1,870.1 L512.7,869.7 L514.3,870.7 L515.9,870.4 L517.5,870.3 L519.1,869.6 L520.7,869.9 L522.3,870.9 L523.9,870.8 L525.5,870.7 L527.1,870.8 L528.7,870.5 L530.3,869.9 L531.9,870.1 L533.5,870.1 L535.1,869.4 L536.7,868.4 L538.3,869.0 L539.9,868.7 L541.5,869.3 L543.1,870.1 L544.7,870.2 L546.3,870.1 L547.9,868.9 L549.5,870.1 L551.1,870.7 L552.7,870.4 L554.3,870.0 L555.9,870.4 L557.5,869.5 L559.1,870.1 L560.7,870.8 L562.3,870.2 L563.9,869.8 L565.5,871.0 L567.1,870.7 L568.7,870.9 L570.3,870.8 L571.9,869.7 L573.5,870.5 L575.1,871.5 L576.7,871.1 L578.3,870.7 L579.9,871.6 L581.5,870.7 L583.1,870.6 L584.7,870.0 L586.3,869.3 L587.9,869.3 L589.5,868.2 L591.1,868.0 L592.7,868.5 L594.3,868.5 L595.9,868.3" fill="none" stroke="#a883cc" stroke-width="1.5" stroke-linejoin="round" />
<path d="M69.6,840.0 L74.6,840.0 L74.6,860.0 L69.6,860.0" fill="none" stroke="#888" stroke-width="1.1"/>
<text x="77.6" y="855.3" font-size="16.5" font-weight="normal" font-style="normal" fill="#6a6a76" text-anchor="start" >10<tspan dy="-6.5" font-size="11">-10</tspan></text>
<text x="586.2" y="855.6" font-size="17.5" font-weight="bold" font-style="normal" fill="#9b79c6" text-anchor="end" >~4 nW/cm<tspan dy="-5.4" font-size="11.6">2</tspan></text>
<path d="M63.5,923.3 L64.8,919.3 L66.1,917.5 L67.4,915.7 L68.7,914.7 L70.0,922.8 L71.3,919.3 L72.6,927.5 L73.9,922.4 L75.2,915.0 L76.5,918.7 L77.8,916.9 L79.1,912.8 L80.4,940.7 L81.7,925.8 L83.0,920.7 L84.3,925.4 L85.6,912.1 L86.9,916.9 L88.2,934.0 L89.5,917.4 L90.8,915.5 L92.1,921.6 L93.4,914.9 L94.7,913.7 L96.0,920.3 L97.3,919.7 L98.6,922.5 L99.9,919.5 L101.2,919.5 L102.5,915.0 L103.8,917.7 L105.1,926.9 L106.4,917.1 L107.7,911.0 L109.0,931.7 L110.3,913.9 L111.6,920.4 L112.9,923.2 L114.2,921.1 L115.5,910.2 L116.8,918.6 L118.1,925.2 L119.4,925.9 L120.7,922.9 L122.0,924.0 L123.3,926.7 L124.6,920.6 L125.9,916.3 L127.2,914.3 L128.5,919.2 L129.8,917.3 L131.1,922.3 L132.4,915.5 L133.7,930.2 L135.0,914.7 L136.3,919.5 L137.6,923.0 L138.9,916.2 L140.2,928.6 L141.5,902.0 L142.8,913.1 L144.1,915.7 L145.4,910.8 L146.7,916.5 L148.0,923.5 L149.3,911.3 L150.6,926.6 L151.9,921.2 L153.2,921.1 L154.5,921.6 L155.8,920.2 L157.1,913.6 L158.4,910.2 L159.7,922.5 L161.0,922.4 L162.3,918.3 L163.6,926.1 L164.9,906.3 L166.2,916.8 L167.5,913.4 L168.8,921.0 L170.1,908.5 L171.4,915.7 L172.7,904.4 L174.0,918.9 L175.3,922.0 L176.6,925.8 L177.9,915.5 L179.2,913.4 L180.5,927.1 L181.8,920.0 L183.1,912.3 L184.4,915.1 L185.7,911.5 L187.0,918.5 L188.3,911.0 L189.6,913.3 L190.9,926.1 L192.2,919.0 L193.5,924.9 L194.8,916.9 L196.1,917.4 L196.5,929.5 L197.3,929.2 L198.6,922.2 L199.9,918.6 L201.2,913.7 L202.5,907.8 L203.8,926.0 L205.1,917.4 L206.4,929.7 L207.7,919.2 L209.0,924.0 L210.3,917.6 L211.6,919.4 L212.9,918.0 L214.2,912.9 L215.5,914.9 L216.8,924.8 L218.1,919.8 L219.4,916.7 L220.7,917.8 L222.0,926.9 L223.3,920.3 L224.6,917.0 L225.9,917.5 L227.2,928.1 L228.5,921.1 L229.8,918.4 L231.1,917.8 L232.4,920.3 L233.7,921.7 L235.0,918.4 L236.3,921.0 L237.6,921.9 L238.9,914.9 L240.2,915.0 L241.5,916.5 L242.8,920.5 L244.1,914.0 L245.4,923.4 L246.7,921.5 L248.0,910.8 L249.3,924.5 L250.6,922.3 L251.9,914.0 L253.2,923.0 L254.5,914.1 L255.8,920.8 L257.1,916.3 L258.4,932.3 L259.7,917.0 L261.0,918.6 L262.3,920.4 L263.6,916.5 L264.9,914.3 L266.2,921.9 L267.5,920.4 L268.8,917.6 L270.1,926.3 L271.4,922.1 L272.7,914.5 L274.0,917.0 L275.3,910.7 L276.6,913.7 L277.9,917.4 L279.2,920.2 L280.5,918.9 L281.8,920.9 L283.1,906.0 L284.4,923.0 L285.7,923.6 L287.0,915.6 L288.3,917.6 L289.6,925.0 L290.9,922.2 L292.2,919.7 L293.5,921.5 L294.8,918.6 L296.1,930.0 L297.4,914.3 L298.7,921.9 L300.0,927.4 L301.3,917.5 L302.6,918.4 L303.9,921.7 L305.2,919.0 L306.5,916.6 L307.8,921.0 L309.1,921.5 L310.4,910.0 L311.7,921.6 L313.0,920.0 L314.3,916.8 L315.6,910.5 L316.9,911.1 L318.2,915.4 L319.5,915.9 L320.8,916.5 L322.1,921.1 L323.4,917.3 L324.7,919.4 L326.0,924.8 L327.3,925.3 L328.6,915.1 L329.9,915.7 L330.2,909.4 L331.0,898.1 L332.3,914.1 L333.6,903.8 L334.9,910.1 L336.2,907.6 L337.5,900.8 L338.8,913.4 L340.1,912.8 L341.4,913.3 L342.7,901.0 L344.0,916.4 L345.3,903.7 L346.6,899.6 L347.9,910.2 L349.2,907.3 L350.5,912.9 L351.8,920.8 L353.1,910.2 L354.4,904.8 L355.7,903.8 L357.0,912.1 L358.3,908.5 L359.6,906.8 L360.9,899.0 L362.2,897.8 L363.5,911.6 L364.8,910.3 L366.1,913.3 L367.4,904.0 L368.7,903.8 L370.0,907.5 L371.3,901.9 L372.6,914.2 L373.9,903.7 L375.2,903.8 L376.5,917.6 L377.8,905.2 L379.1,909.2 L380.4,903.1 L381.7,904.3 L383.0,911.2 L384.3,917.2 L385.6,908.4 L386.9,901.2 L388.2,905.9 L389.5,898.8 L390.8,907.6 L392.1,908.8 L393.4,905.6 L394.7,898.0 L396.0,910.0 L397.3,906.9 L398.6,904.0 L399.9,916.2 L401.2,906.8 L402.5,905.3 L403.8,905.2 L405.1,912.5 L406.4,910.1 L407.7,911.9 L409.0,919.7 L410.3,911.5 L411.6,919.8 L412.9,900.3 L414.2,913.4 L415.5,904.9 L416.8,912.3 L418.1,902.9 L419.4,909.8 L420.7,911.7 L422.0,914.3 L423.3,895.7 L424.6,914.6 L425.9,903.8 L427.2,902.5 L428.5,906.4 L429.8,906.4 L431.1,918.2 L432.4,900.4 L433.7,908.9 L435.0,907.3 L436.3,905.4 L437.6,902.3 L438.9,915.3 L440.2,912.3 L441.5,900.4 L442.8,909.0 L444.1,899.9 L445.4,912.7 L446.7,906.3 L448.0,911.1 L449.3,913.9 L450.6,898.1 L451.9,906.8 L453.2,906.4 L454.5,911.6 L455.8,901.6 L457.1,905.3 L458.4,915.4 L459.7,912.5 L461.0,911.4 L462.3,924.8 L463.6,902.7 L463.9,921.0 L464.7,936.6 L466.0,919.7 L467.3,921.4 L468.6,926.7 L469.9,931.1 L471.2,927.2 L472.5,913.6 L473.8,924.4 L475.1,915.1 L476.4,915.3 L477.7,922.9 L479.0,916.8 L480.3,920.3 L481.6,917.5 L482.9,921.9 L484.2,914.3 L485.5,926.1 L486.8,921.6 L488.1,925.3 L489.4,927.1 L490.7,918.0 L492.0,919.0 L493.3,926.5 L494.6,917.1 L495.9,928.0 L497.2,927.4 L498.5,931.3 L499.8,924.4 L501.1,924.3 L502.4,930.2 L503.7,935.8 L505.0,917.6 L506.3,919.6 L507.6,924.1 L508.9,917.5 L510.2,919.3 L511.5,931.0 L512.8,922.3 L514.1,927.2 L515.4,916.9 L516.7,926.0 L518.0,910.7 L519.3,925.9 L520.6,926.7 L521.9,916.1 L523.2,922.0 L524.5,926.1 L525.8,918.3 L527.1,919.2 L528.4,933.7 L529.7,936.7 L531.0,933.1 L532.3,915.9 L533.6,930.0 L534.9,917.7 L536.2,925.5 L537.5,918.5 L538.8,919.5 L540.1,931.6 L541.4,908.5 L542.7,922.4 L544.0,914.7 L545.3,918.2 L546.6,931.2 L547.9,929.8 L549.2,932.6 L550.5,918.0 L551.8,922.6 L553.1,912.6 L554.4,915.0 L555.7,923.3 L557.0,926.9 L558.3,929.5 L559.6,920.7 L560.9,923.4 L562.2,920.5 L563.5,927.1 L564.8,918.3 L566.1,926.4 L567.4,922.2 L568.7,906.4 L570.0,925.3 L571.3,917.0 L572.6,922.5 L573.9,921.5 L575.2,943.6 L576.5,918.2 L577.8,913.4 L579.1,911.6 L580.4,922.6 L581.7,922.9 L583.0,916.7 L584.3,928.6 L585.6,929.1 L586.9,915.7 L588.2,935.3 L589.5,930.4 L590.8,922.9 L592.1,929.9 L593.4,923.6 L594.7,921.1 L596.0,924.3" fill="none" stroke="#c9a020" stroke-width="1.6" stroke-linejoin="round" />
<path d="M69.6,929.5 L74.6,929.5 L74.6,949.5 L69.6,949.5" fill="none" stroke="#888" stroke-width="1.1"/>
<text x="77.6" y="944.8" font-size="16.5" font-weight="normal" font-style="normal" fill="#6a6a76" text-anchor="start" >10<tspan dy="-6.5" font-size="11">-11</tspan></text>
<text x="595.5" y="914.0" font-size="17.5" font-weight="bold" font-style="normal" fill="#c9a227" text-anchor="end" >~400 pW/cm<tspan dy="-5.4" font-size="11.6">2</tspan></text>
<line x1="59.4" y1="597.2" x2="597.3" y2="597.2" stroke="#3c3c3c" stroke-width="1.5" />
<line x1="59.4" y1="656.3" x2="597.3" y2="656.3" stroke="#3c3c3c" stroke-width="1.5" />
<line x1="59.4" y1="716.3" x2="597.3" y2="716.3" stroke="#3c3c3c" stroke-width="1.5" />
<line x1="59.4" y1="775.8" x2="597.3" y2="775.8" stroke="#3c3c3c" stroke-width="1.5" />
<line x1="59.4" y1="835.8" x2="597.3" y2="835.8" stroke="#3c3c3c" stroke-width="1.5" />
<line x1="59.4" y1="895.6" x2="597.3" y2="895.6" stroke="#3c3c3c" stroke-width="1.5" />
<line x1="59.4" y1="956.5" x2="597.3" y2="956.5" stroke="#3c3c3c" stroke-width="1.5" />
<line x1="63.0" y1="597.2" x2="63.0" y2="956.5" stroke="#333" stroke-width="1.5" />
<line x1="597.3" y1="597.2" x2="597.3" y2="956.5" stroke="#3c3c3c" stroke-width="1.3" />
<line x1="60.8" y1="607.1" x2="63.0" y2="607.1" stroke="#444" stroke-width="1.0" />
<line x1="58.8" y1="616.9" x2="63.0" y2="616.9" stroke="#444" stroke-width="1.0" />
<line x1="60.8" y1="626.8" x2="63.0" y2="626.8" stroke="#444" stroke-width="1.0" />
<line x1="58.8" y1="636.6" x2="63.0" y2="636.6" stroke="#444" stroke-width="1.0" />
<line x1="60.8" y1="646.4" x2="63.0" y2="646.4" stroke="#444" stroke-width="1.0" />
<line x1="60.8" y1="666.3" x2="63.0" y2="666.3" stroke="#444" stroke-width="1.0" />
<line x1="58.8" y1="676.3" x2="63.0" y2="676.3" stroke="#444" stroke-width="1.0" />
<line x1="60.8" y1="686.3" x2="63.0" y2="686.3" stroke="#444" stroke-width="1.0" />
<line x1="58.8" y1="696.3" x2="63.0" y2="696.3" stroke="#444" stroke-width="1.0" />
<line x1="60.8" y1="706.3" x2="63.0" y2="706.3" stroke="#444" stroke-width="1.0" />
<line x1="60.8" y1="726.2" x2="63.0" y2="726.2" stroke="#444" stroke-width="1.0" />
<line x1="58.8" y1="736.1" x2="63.0" y2="736.1" stroke="#444" stroke-width="1.0" />
<line x1="60.8" y1="746.0" x2="63.0" y2="746.0" stroke="#444" stroke-width="1.0" />
<line x1="58.8" y1="756.0" x2="63.0" y2="756.0" stroke="#444" stroke-width="1.0" />
<line x1="60.8" y1="765.9" x2="63.0" y2="765.9" stroke="#444" stroke-width="1.0" />
<line x1="60.8" y1="785.8" x2="63.0" y2="785.8" stroke="#444" stroke-width="1.0" />
<line x1="58.8" y1="795.8" x2="63.0" y2="795.8" stroke="#444" stroke-width="1.0" />
<line x1="60.8" y1="805.8" x2="63.0" y2="805.8" stroke="#444" stroke-width="1.0" />
<line x1="58.8" y1="815.8" x2="63.0" y2="815.8" stroke="#444" stroke-width="1.0" />
<line x1="60.8" y1="825.8" x2="63.0" y2="825.8" stroke="#444" stroke-width="1.0" />
<line x1="60.8" y1="845.8" x2="63.0" y2="845.8" stroke="#444" stroke-width="1.0" />
<line x1="58.8" y1="855.7" x2="63.0" y2="855.7" stroke="#444" stroke-width="1.0" />
<line x1="60.8" y1="865.7" x2="63.0" y2="865.7" stroke="#444" stroke-width="1.0" />
<line x1="58.8" y1="875.7" x2="63.0" y2="875.7" stroke="#444" stroke-width="1.0" />
<line x1="60.8" y1="885.6" x2="63.0" y2="885.6" stroke="#444" stroke-width="1.0" />
<line x1="60.8" y1="905.8" x2="63.0" y2="905.8" stroke="#444" stroke-width="1.0" />
<line x1="58.8" y1="915.9" x2="63.0" y2="915.9" stroke="#444" stroke-width="1.0" />
<line x1="60.8" y1="926.0" x2="63.0" y2="926.0" stroke="#444" stroke-width="1.0" />
<line x1="58.8" y1="936.2" x2="63.0" y2="936.2" stroke="#444" stroke-width="1.0" />
<line x1="60.8" y1="946.4" x2="63.0" y2="946.4" stroke="#444" stroke-width="1.0" />
<line x1="63.0" y1="956.5" x2="63.0" y2="960.0" stroke="#444" stroke-width="1.1" />
<line x1="129.8" y1="956.5" x2="129.8" y2="959.0" stroke="#444" stroke-width="1.1" />
<line x1="196.6" y1="956.5" x2="196.6" y2="960.0" stroke="#444" stroke-width="1.1" />
<line x1="263.4" y1="956.5" x2="263.4" y2="959.0" stroke="#444" stroke-width="1.1" />
<line x1="330.1" y1="956.5" x2="330.1" y2="960.0" stroke="#444" stroke-width="1.1" />
<line x1="396.9" y1="956.5" x2="396.9" y2="959.0" stroke="#444" stroke-width="1.1" />
<line x1="463.7" y1="956.5" x2="463.7" y2="960.0" stroke="#444" stroke-width="1.1" />
<line x1="530.5" y1="956.5" x2="530.5" y2="959.0" stroke="#444" stroke-width="1.1" />
<line x1="597.3" y1="956.5" x2="597.3" y2="960.0" stroke="#444" stroke-width="1.1" />
<text x="133.0" y="987.0" font-size="19.5" font-weight="normal" font-style="italic" fill="#222" text-anchor="middle" >0</text>
<text x="265.2" y="987.0" font-size="19.5" font-weight="normal" font-style="italic" fill="#222" text-anchor="middle" >π/2</text>
<text x="393.0" y="987.0" font-size="19.5" font-weight="normal" font-style="italic" fill="#222" text-anchor="middle" >π</text>
<text x="535.7" y="987.0" font-size="19.5" font-weight="normal" font-style="italic" fill="#222" text-anchor="middle" >π3/2</text>
<text x="328.0" y="1015.2" font-size="20.5" font-weight="bold" font-style="normal" fill="#111" text-anchor="middle" >Phase (<tspan font-style="italic">Φ</tspan>)</text>
<text transform="translate(39,771) rotate(-90)" font-size="20.8" font-weight="bold" fill="#111" text-anchor="middle">Current intensity (A)</text>
<text x="613.2" y="455.9" font-size="31" font-weight="bold" font-style="normal" fill="#111" text-anchor="start" >(d)</text>
<path d="M703.5,484.1 L714.1,537.3 L722.7,588.2 L737.5,595.2 L748.5,621.8 L756.3,620.2 L763.3,608.5 L774.3,639.8 L782.9,606.9 L786.0,627.2 L795.4,608.5 L798.5,624.1 L803.2,620.2 L807.9,641.3 L811.8,617.9 L814.2,644.5 L817.3,614.7" fill="none" stroke="#404040" stroke-width="1.9" stroke-linejoin="round" />
<path d="M817.3,614.7 L818.0,624.8 L821.5,636.7 L824.7,613.4 L827.6,634.7 L830.3,617.0 L832.8,624.7 L835.2,617.8 L837.4,638.9 L839.5,612.6 L841.4,618.2 L843.3,636.0 L845.1,639.6 L846.8,657.0 L848.4,618.8 L849.9,651.9 L851.4,614.3 L852.8,612.0 L854.2,647.2 L855.5,620.3 L856.8,606.4 L858.1,642.4 L859.2,618.1 L860.4,639.1 L861.5,610.7 L862.6,648.5 L863.7,620.3 L864.7,607.2 L865.7,627.0 L866.7,608.1 L867.6,637.2 L868.6,615.2 L869.5,608.1 L870.3,641.9 L871.2,606.9 L872.0,639.5 L872.9,607.0 L873.7,648.7 L874.5,607.6 L875.2,653.2 L876.0,606.9 L876.7,648.1 L877.4,607.9 L878.2,655.4 L878.9,608.3 L879.5,651.6 L880.2,606.9 L880.9,649.3 L881.5,606.4 L882.2,653.2 L882.8,605.5 L883.4,646.8 L884.0,605.7 L884.6,645.6 L885.2,604.7 L885.8,656.1 L886.3,606.5 L886.9,645.4 L887.5,599.8 L888.0,644.0 L888.5,607.5 L889.1,646.8 L889.6,603.4 L890.1,652.3 L890.6,607.6 L891.1,644.0 L891.6,611.0 L892.1,651.3 L892.6,602.3 L893.0,648.3 L893.5,602.3 L894.0,647.3 L894.4,604.3 L894.9,642.7 L895.3,605.6 L895.8,640.8 L896.2,603.0 L896.7,651.7 L897.1,605.3 L897.6,646.0 L898.0,603.4 L898.5,648.7 L898.9,603.1 L899.4,647.1 L899.8,603.4 L900.3,654.6 L900.7,605.9 L901.2,660.1 L901.6,605.3 L902.1,647.2 L902.5,605.6 L903.0,659.8 L903.4,609.4 L903.9,650.0 L904.3,606.4 L904.8,660.9 L905.2,603.7 L905.7,683.1 L906.1,607.2 L906.6,660.4 L907.0,607.4 L907.5,645.8 L907.9,608.8 L908.4,647.3 L908.8,605.2 L909.3,655.6 L909.7,608.1 L910.2,648.2 L910.6,610.2 L911.1,646.2 L911.5,606.8 L912.0,649.7 L912.4,609.0 L912.9,654.7 L913.3,611.8 L913.8,663.6 L914.2,601.6 L914.7,651.6 L915.1,607.8 L915.6,650.8 L916.0,609.9 L916.5,689.7 L916.9,609.8 L917.4,655.2 L917.8,613.5 L918.3,657.7 L918.7,612.5 L919.2,661.0 L919.6,610.4 L920.1,662.8 L920.5,611.2 L921.0,656.1 L921.4,609.7 L921.9,661.7 L922.3,609.9 L922.8,651.3 L923.2,619.2 L923.7,655.6 L924.1,613.7 L924.6,664.1 L925.0,610.6 L925.5,663.2 L925.9,611.3 L926.4,656.8 L926.8,616.4 L927.3,657.3 L927.7,617.7 L928.2,656.0 L928.6,611.8 L929.1,655.9 L929.5,618.6 L930.0,655.6 L930.4,619.2 L930.9,669.5 L931.3,616.1 L931.8,670.8 L932.2,616.7 L932.7,657.2 L933.1,616.3 L933.6,671.7 L934.0,613.6 L934.5,675.7 L934.9,613.8 L935.4,662.2 L935.8,616.2 L936.3,671.8 L936.7,614.7 L937.2,665.5 L937.6,614.7 L938.1,665.4 L938.5,614.8 L939.0,675.8 L939.4,619.3 L939.9,659.1 L940.3,622.5 L940.8,655.9 L941.2,619.3 L941.7,675.8 L942.1,620.5 L942.6,675.1 L943.0,617.9 L943.5,676.1 L943.9,617.5 L944.4,660.3 L944.8,617.4 L945.3,674.1 L945.7,620.4 L946.2,657.5 L946.6,619.9 L947.1,672.9 L947.5,622.2 L948.0,662.9 L948.4,624.8 L948.9,676.6 L949.3,627.3 L949.8,660.4 L950.2,615.9 L950.7,660.0 L951.1,619.6 L951.6,670.8 L952.0,620.7 L952.5,664.4 L952.9,625.1 L953.4,673.3 L953.8,623.4 L954.3,667.2 L954.7,621.6 L955.2,666.9 L955.6,621.1 L956.1,677.5 L956.5,618.7 L957.0,664.6 L957.4,626.1 L957.9,665.3 L958.3,622.3 L958.8,677.4 L959.2,622.9 L959.7,678.4 L960.1,628.5 L960.6,674.5 L961.0,626.6 L961.5,675.3 L961.9,624.2 L962.4,662.5 L962.8,625.6 L963.3,666.3 L963.7,628.3 L964.2,666.9 L964.6,629.7 L965.1,676.2 L965.5,627.7 L966.0,672.7 L966.4,624.6 L966.9,677.0 L967.3,625.6 L967.8,666.9 L968.2,625.8 L968.7,675.9 L969.1,624.5 L969.6,675.6 L970.0,624.2 L970.5,680.1 L970.9,626.1 L971.4,663.7 L971.8,624.3 L972.3,679.0 L972.7,626.3 L973.2,676.8 L973.6,621.3 L974.1,671.0 L974.5,625.1 L975.0,673.8 L975.4,627.4 L975.9,675.6 L976.3,621.8 L976.8,665.1 L977.2,625.9 L977.7,671.5 L978.1,625.2 L978.6,678.0 L979.0,623.3 L979.5,672.0 L979.9,627.2 L980.4,687.7 L980.8,623.5 L981.3,680.0 L981.7,625.1 L982.2,662.2 L982.6,628.1 L983.1,669.1 L983.5,625.5 L984.0,663.1 L984.4,631.3 L984.9,671.2 L985.3,626.1 L985.8,667.0 L986.2,628.5 L986.7,661.1 L987.1,627.3 L987.6,670.3 L988.0,625.2 L988.5,675.4 L988.9,626.4 L989.4,667.3 L989.8,624.3 L990.3,680.9 L990.7,630.4 L991.2,680.1 L991.6,630.4 L992.1,678.6 L992.5,627.7 L993.0,663.0 L993.4,624.7 L993.9,680.9 L994.3,628.5 L994.8,668.3 L995.2,625.7 L995.7,671.0 L996.1,624.3 L996.6,668.9 L997.0,627.9 L997.5,666.1 L997.9,629.6 L998.4,673.7 L998.8,625.0 L999.3,677.9 L999.7,627.2 L1000.2,676.2 L1000.6,627.2 L1001.1,669.2 L1001.5,624.4 L1002.0,678.4 L1002.4,629.5 L1002.9,668.4 L1003.3,629.2 L1003.8,679.1 L1004.2,628.3 L1004.7,678.1 L1005.1,623.6 L1005.6,681.1 L1006.0,631.0 L1006.5,678.2 L1006.9,631.9 L1007.4,686.1 L1007.8,628.0 L1008.3,663.3 L1008.7,629.3 L1009.2,665.9 L1009.6,628.1 L1010.1,702.5 L1010.5,632.4 L1011.0,677.1 L1011.4,620.3 L1011.9,667.1 L1012.3,630.3 L1012.8,706.8" fill="none" stroke="#404040" stroke-width="1.4" stroke-linejoin="round" />
<path d="M703.5,523.2 L714.0,572.0 L722.7,622.6 L736.0,627.2 L746.9,635.1 L756.3,653.8 L768.8,683.6 L774.3,655.4 L779.0,671.0 L786.0,650.7 L789.9,669.5 L793.8,655.4 L798.5,669.5 L803.2,652.3 L807.9,671.0 L812.6,657.0 L817.0,672.0" fill="none" stroke="#e8403c" stroke-width="1.9" stroke-linejoin="round" />
<path d="M817.0,672.0 L818.0,662.8 L821.5,666.9 L824.7,654.6 L827.6,674.0 L830.3,657.3 L832.8,650.3 L835.2,655.4 L837.4,660.5 L839.5,671.8 L841.4,656.0 L843.3,666.8 L845.1,657.4 L846.8,682.1 L848.4,646.2 L849.9,687.0 L851.4,653.1 L852.8,681.1 L854.2,646.3 L855.5,663.0 L856.8,659.8 L858.1,669.4 L859.2,653.9 L860.4,669.0 L861.5,654.1 L862.6,687.6 L863.7,645.2 L864.7,690.2 L865.7,652.1 L866.7,679.6 L867.6,645.0 L868.6,679.8 L869.5,647.3 L870.3,707.1 L871.2,659.0 L872.0,671.3 L872.9,646.2 L873.7,687.1 L874.5,645.3 L875.2,679.5 L876.0,647.9 L876.7,691.1 L877.4,650.4 L878.2,694.3 L878.9,649.4 L879.5,688.7 L880.2,648.0 L880.9,679.7 L881.5,649.1 L882.2,687.2 L882.8,647.7 L883.4,681.7 L884.0,648.3 L884.6,694.0 L885.2,649.5 L885.8,687.6 L886.3,647.3 L886.9,693.2 L887.5,650.0 L888.0,699.1 L888.5,648.1 L889.1,695.3 L889.6,649.6 L890.1,690.7 L890.6,648.9 L891.1,698.9 L891.6,647.5 L892.1,694.0 L892.6,651.3 L893.0,704.8 L893.5,651.1 L894.0,696.1 L894.4,652.8 L894.9,694.5 L895.3,650.7 L895.8,697.2 L896.2,648.9 L896.7,683.9 L897.1,650.4 L897.6,690.2 L898.0,648.5 L898.5,700.5 L898.9,648.9 L899.4,690.8 L899.8,651.8 L900.3,695.2 L900.7,654.9 L901.2,684.3 L901.6,650.5 L902.1,686.3 L902.5,652.4 L903.0,700.4 L903.4,649.7 L903.9,694.0 L904.3,658.2 L904.8,698.8 L905.2,654.7 L905.7,694.5 L906.1,654.9 L906.6,701.8 L907.0,655.8 L907.5,701.4 L907.9,656.9 L908.4,689.1 L908.8,655.0 L909.3,690.6 L909.7,655.7 L910.2,698.7 L910.6,653.9 L911.1,698.0 L911.5,657.2 L912.0,713.1 L912.4,654.6 L912.9,696.3 L913.3,655.9 L913.8,691.8 L914.2,657.9 L914.7,699.5 L915.1,658.7 L915.6,699.1 L916.0,657.6 L916.5,703.1 L916.9,657.2 L917.4,709.5 L917.8,657.5 L918.3,697.1 L918.7,664.3 L919.2,695.0 L919.6,661.5 L920.1,700.7 L920.5,659.7 L921.0,696.3 L921.4,666.1 L921.9,703.7 L922.3,662.1 L922.8,706.9 L923.2,656.3 L923.7,698.0 L924.1,660.1 L924.6,707.7 L925.0,666.0 L925.5,708.9 L925.9,665.4 L926.4,696.2 L926.8,665.2 L927.3,706.3 L927.7,663.4 L928.2,702.2 L928.6,667.3 L929.1,706.3 L929.5,671.3 L930.0,712.9 L930.4,658.7 L930.9,702.6 L931.3,666.2 L931.8,704.4 L932.2,665.1 L932.7,709.1 L933.1,665.2 L933.6,706.3 L934.0,670.1 L934.5,706.5 L934.9,665.9 L935.4,703.5 L935.8,663.2 L936.3,711.5 L936.7,660.8 L937.2,706.2 L937.6,665.1 L938.1,710.5 L938.5,665.4 L939.0,706.3 L939.4,665.7 L939.9,714.8 L940.3,670.1 L940.8,712.4 L941.2,672.4 L941.7,709.4 L942.1,669.1 L942.6,723.6 L943.0,666.7 L943.5,705.5 L943.9,664.5 L944.4,712.1 L944.8,673.3 L945.3,703.1 L945.7,668.1 L946.2,700.9 L946.6,669.5 L947.1,716.7 L947.5,667.1 L948.0,712.9 L948.4,667.6 L948.9,718.3 L949.3,668.5 L949.8,709.4 L950.2,674.6 L950.7,714.1 L951.1,670.4 L951.6,717.8 L952.0,668.8 L952.5,703.2 L952.9,669.8 L953.4,707.5 L953.8,675.4 L954.3,719.7 L954.7,670.0 L955.2,704.5 L955.6,669.8 L956.1,711.8 L956.5,676.0 L957.0,730.3 L957.4,673.5 L957.9,707.5 L958.3,668.1 L958.8,708.5 L959.2,670.2 L959.7,706.2 L960.1,668.7 L960.6,743.3 L961.0,670.3 L961.5,719.8 L961.9,668.9 L962.4,710.6 L962.8,670.3 L963.3,709.5 L963.7,668.6 L964.2,715.6 L964.6,673.6 L965.1,713.6 L965.5,669.2 L966.0,719.3 L966.4,666.7 L966.9,711.3 L967.3,665.3 L967.8,715.1 L968.2,665.3 L968.7,710.2 L969.1,675.5 L969.6,714.3 L970.0,670.1 L970.5,711.6 L970.9,671.4 L971.4,711.6 L971.8,675.0 L972.3,721.5 L972.7,671.0 L973.2,716.2 L973.6,669.3 L974.1,738.8 L974.5,670.2 L975.0,717.4 L975.4,671.6 L975.9,720.3 L976.3,666.2 L976.8,718.7 L977.2,669.0 L977.7,708.8 L978.1,672.4 L978.6,703.8 L979.0,676.5 L979.5,719.2 L979.9,669.1 L980.4,717.3 L980.8,666.4 L981.3,711.6 L981.7,672.7 L982.2,718.1 L982.6,677.2 L983.1,712.9 L983.5,671.9 L984.0,709.8 L984.4,671.8 L984.9,714.2 L985.3,674.5 L985.8,710.8 L986.2,669.7 L986.7,709.2 L987.1,669.5 L987.6,711.9 L988.0,671.9 L988.5,704.2 L988.9,671.8 L989.4,704.0 L989.8,672.4 L990.3,715.9 L990.7,669.8 L991.2,712.7 L991.6,672.1 L992.1,715.0 L992.5,672.8 L993.0,722.3 L993.4,671.1 L993.9,721.1 L994.3,676.6 L994.8,717.5 L995.2,669.5 L995.7,718.7 L996.1,671.4 L996.6,713.8 L997.0,674.9 L997.5,720.2 L997.9,671.9 L998.4,715.2 L998.8,672.2 L999.3,727.0 L999.7,669.9 L1000.2,710.8 L1000.6,672.3 L1001.1,723.1 L1001.5,672.6 L1002.0,717.6 L1002.4,673.4 L1002.9,721.2 L1003.3,668.5 L1003.8,704.8 L1004.2,670.8 L1004.7,706.4 L1005.1,671.8 L1005.6,705.3 L1006.0,678.7 L1006.5,716.6 L1006.9,672.8 L1007.4,720.9 L1007.8,671.9 L1008.3,718.8 L1008.7,670.7 L1009.2,721.3 L1009.6,670.2 L1010.1,722.7 L1010.5,672.4 L1011.0,715.9 L1011.4,674.5 L1011.9,715.4 L1012.3,674.4 L1012.8,710.5" fill="none" stroke="#e8403c" stroke-width="1.4" stroke-linejoin="round" />
<path d="M703.5,560.0 L714.0,600.0 L721.9,640.5 L737.5,652.3 L748.5,657.0 L762.6,667.9 L770.4,667.9 L779.8,672.6 L787.6,675.7 L790.7,680.4 L798.5,688.2 L803.2,678.9 L807.9,694.5 L815.7,688.2 L825.1,700.8" fill="none" stroke="#1f6fd8" stroke-width="1.9" stroke-linejoin="round" />
<path d="M825.1,700.8 L826.0,689.4 L828.8,720.7 L831.4,696.5 L833.9,713.2 L836.2,696.1 L838.3,718.7 L840.3,696.9 L842.3,716.9 L844.1,692.7 L845.8,686.2 L847.5,685.3 L849.1,687.4 L850.6,700.4 L852.0,684.6 L853.5,717.8 L854.8,733.5 L856.1,697.1 L857.4,729.1 L858.6,691.2 L859.8,724.3 L860.9,688.3 L862.0,688.9 L863.1,716.7 L864.1,707.5 L865.2,689.9 L866.1,706.0 L867.1,732.3 L868.0,698.2 L869.0,686.3 L869.8,712.3 L870.7,686.0 L871.6,736.2 L872.4,687.3 L873.2,731.5 L874.0,686.8 L874.8,731.4 L875.6,688.1 L876.3,732.2 L877.0,693.6 L877.8,729.4 L878.5,688.9 L879.2,729.4 L879.8,689.3 L880.5,740.8 L881.2,688.6 L881.8,728.4 L882.4,692.4 L883.1,728.0 L883.7,689.4 L884.3,722.9 L884.9,694.9 L885.4,742.0 L886.0,687.5 L886.6,723.8 L887.1,690.5 L887.7,726.4 L888.2,691.6 L888.8,728.7 L889.3,687.6 L889.8,736.6 L890.3,688.6 L890.8,725.6 L891.3,688.7 L891.8,738.6 L892.3,684.8 L892.8,733.2 L893.2,695.6 L893.7,737.1 L894.2,689.2 L894.6,723.9 L895.1,685.8 L895.5,727.6 L896.0,688.7 L896.4,730.3 L896.9,694.1 L897.3,728.8 L897.8,694.3 L898.2,738.5 L898.7,688.9 L899.1,725.3 L899.6,693.5 L900.0,764.6 L900.5,695.7 L900.9,734.2 L901.4,693.9 L901.8,730.2 L902.3,691.5 L902.7,738.9 L903.2,693.3 L903.6,767.7 L904.1,694.9 L904.5,740.8 L905.0,695.9 L905.4,743.7 L905.9,692.8 L906.3,746.3 L906.8,695.8 L907.2,731.0 L907.7,698.0 L908.1,739.3 L908.6,695.6 L909.0,733.1 L909.5,702.3 L909.9,730.0 L910.4,695.7 L910.8,739.2 L911.3,703.1 L911.7,745.4 L912.2,696.3 L912.6,737.1 L913.1,697.1 L913.5,737.6 L914.0,696.5 L914.4,738.6 L914.9,699.6 L915.3,737.6 L915.8,697.2 L916.2,732.7 L916.7,705.3 L917.1,735.0 L917.6,699.4 L918.0,745.4 L918.5,698.1 L918.9,739.7 L919.4,701.0 L919.8,744.0 L920.3,694.4 L920.7,772.8 L921.2,701.0 L921.6,736.7 L922.1,704.7 L922.5,745.2 L923.0,704.0 L923.4,737.5 L923.9,702.1 L924.3,749.6 L924.8,704.5 L925.2,747.3 L925.7,706.2 L926.1,739.2 L926.6,709.8 L927.0,752.1 L927.5,703.3 L927.9,739.4 L928.4,702.9 L928.8,756.0 L929.3,704.4 L929.7,751.7 L930.2,707.7 L930.6,757.9 L931.1,703.4 L931.5,752.5 L932.0,708.3 L932.4,746.2 L932.9,704.2 L933.3,740.6 L933.8,704.7 L934.2,759.0 L934.7,708.8 L935.1,748.8 L935.6,710.6 L936.0,756.6 L936.5,709.0 L936.9,743.2 L937.4,707.5 L937.8,757.8 L938.3,709.1 L938.7,745.0 L939.2,710.5 L939.6,756.8 L940.1,706.7 L940.5,745.8 L941.0,710.7 L941.4,752.9 L941.9,707.7 L942.3,760.4 L942.8,708.2 L943.2,746.6 L943.7,705.9 L944.1,750.1 L944.6,706.3 L945.0,743.2 L945.5,712.7 L945.9,758.8 L946.4,707.4 L946.8,749.9 L947.3,712.2 L947.7,743.1 L948.2,710.5 L948.6,744.0 L949.1,708.7 L949.5,752.8 L950.0,707.4 L950.4,748.2 L950.9,706.4 L951.3,746.6 L951.8,708.7 L952.2,744.8 L952.7,709.5 L953.1,746.2 L953.6,712.3 L954.0,750.9 L954.5,709.6 L954.9,749.8 L955.4,710.5 L955.8,761.1 L956.3,715.3 L956.7,760.5 L957.2,714.7 L957.6,762.4 L958.1,704.6 L958.5,754.1 L959.0,711.7 L959.4,758.6 L959.9,715.4 L960.3,745.7 L960.8,709.5 L961.2,749.6 L961.7,715.0 L962.1,750.5 L962.6,714.0 L963.0,760.0 L963.5,712.4 L963.9,763.0 L964.4,712.7 L964.8,752.9 L965.3,711.3 L965.7,753.7 L966.2,712.1 L966.6,773.6 L967.1,716.1 L967.5,749.6 L968.0,713.2 L968.4,757.6 L968.9,713.1 L969.3,753.7 L969.8,710.6 L970.2,756.4 L970.7,711.9 L971.1,747.1 L971.6,711.4 L972.0,761.3 L972.5,713.2 L972.9,756.8 L973.4,715.5 L973.8,754.0 L974.3,708.0 L974.7,745.8 L975.2,716.6 L975.6,751.6 L976.1,710.4 L976.5,746.2 L977.0,718.7 L977.4,759.8 L977.9,712.6 L978.3,751.0 L978.8,710.3 L979.2,758.9 L979.7,716.8 L980.1,749.8 L980.6,708.9 L981.0,757.7 L981.5,715.7 L981.9,756.8 L982.4,717.2 L982.8,759.2 L983.3,712.0 L983.7,761.4 L984.2,715.5 L984.6,760.9 L985.1,718.7 L985.5,764.0 L986.0,715.7 L986.4,752.7 L986.9,706.3 L987.3,759.1 L987.8,710.8 L988.2,763.6 L988.7,713.7 L989.1,751.0 L989.6,715.8 L990.0,763.4 L990.5,714.7 L990.9,754.3 L991.4,712.4 L991.8,752.2 L992.3,715.3 L992.7,750.1 L993.2,714.2 L993.6,751.1 L994.1,717.9 L994.5,761.5 L995.0,713.7 L995.4,753.0 L995.9,714.9 L996.3,751.0 L996.8,714.2 L997.2,762.9 L997.7,714.1 L998.1,756.7 L998.6,716.2 L999.0,764.6 L999.5,712.3 L999.9,758.9 L1000.4,712.2 L1000.8,762.8 L1001.3,714.2 L1001.7,760.6 L1002.2,717.5 L1002.6,760.1 L1003.1,710.0 L1003.5,747.1 L1004.0,717.6 L1004.4,751.2 L1004.9,712.9 L1005.3,756.5 L1005.8,715.9 L1006.2,763.6 L1006.7,712.5 L1007.1,753.2 L1007.6,713.2 L1008.0,754.6 L1008.5,720.5 L1008.9,750.2 L1009.4,712.6 L1009.8,749.6 L1010.3,714.9 L1010.7,751.5 L1011.2,717.8 L1011.6,764.0 L1012.1,714.3 L1012.5,750.7 L1013.0,715.7" fill="none" stroke="#1f6fd8" stroke-width="1.4" stroke-linejoin="round" />
<path d="M703.5,602.0 L722.7,681.9 L736.0,696.0 L746.9,698.3 L756.3,710.0 L767.3,716.3 L775.1,717.9 L779.8,721.8 L785.2,716.3 L790.7,719.4 L795.4,724.1 L803.2,722.6 L807.9,739.8 L812.6,733.5 L815.7,752.3 L820.4,728.8 L825.1,738.2 L829.8,728.8" fill="none" stroke="#2ea35c" stroke-width="1.9" stroke-linejoin="round" />
<path d="M829.8,728.8 L831.0,735.5 L833.5,761.8 L835.8,757.4 L837.9,759.5 L840.0,760.9 L841.9,770.3 L843.8,737.0 L845.5,759.7 L847.2,772.8 L848.8,737.4 L850.3,779.5 L851.8,731.1 L853.2,748.6 L854.6,761.9 L855.9,776.1 L857.2,732.1 L858.4,781.0 L859.6,730.6 L860.7,752.5 L861.8,748.8 L862.9,735.8 L864.0,767.8 L865.0,737.7 L866.0,774.9 L866.9,732.9 L867.9,779.1 L868.8,731.5 L869.7,776.6 L870.6,731.0 L871.4,773.1 L872.3,732.5 L873.1,785.4 L873.9,733.8 L874.7,783.7 L875.4,735.6 L876.2,769.5 L876.9,727.0 L877.6,767.7 L878.3,732.8 L879.0,786.3 L879.7,735.1 L880.4,780.4 L881.0,736.0 L881.7,779.6 L882.3,734.2 L883.0,786.3 L883.6,730.3 L884.2,768.5 L884.8,732.1 L885.3,782.9 L885.9,732.0 L886.5,776.5 L887.1,736.5 L887.6,770.3 L888.1,737.1 L888.7,781.7 L889.2,733.5 L889.7,779.1 L890.2,728.3 L890.7,775.1 L891.2,732.0 L891.7,784.0 L892.2,732.2 L892.7,771.9 L893.2,737.2 L893.6,773.8 L894.1,734.4 L894.6,781.0 L895.0,737.4 L895.5,767.9 L895.9,731.1 L896.4,787.2 L896.8,732.7 L897.3,768.9 L897.7,730.4 L898.2,781.1 L898.6,736.0 L899.1,773.6 L899.5,732.5 L900.0,784.6 L900.4,735.4 L900.9,780.4 L901.3,732.8 L901.8,773.3 L902.2,736.3 L902.7,781.8 L903.1,734.9 L903.6,786.0 L904.0,733.7 L904.5,770.6 L904.9,736.6 L905.4,774.8 L905.8,740.1 L906.3,784.1 L906.7,740.8 L907.2,774.1 L907.6,737.8 L908.1,771.8 L908.5,735.8 L909.0,772.8 L909.4,736.8 L909.9,782.9 L910.3,736.7 L910.8,785.7 L911.2,743.1 L911.7,774.2 L912.1,738.0 L912.6,784.1 L913.0,738.5 L913.5,777.1 L913.9,738.4 L914.4,787.9 L914.8,740.2 L915.3,781.1 L915.7,740.1 L916.2,781.4 L916.6,744.6 L917.1,787.2 L917.5,742.4 L918.0,781.2 L918.4,740.9 L918.9,782.2 L919.3,742.1 L919.8,783.2 L920.2,742.2 L920.7,781.4 L921.1,743.0 L921.6,787.1 L922.0,745.8 L922.5,778.6 L922.9,747.2 L923.4,779.0 L923.8,745.9 L924.3,789.9 L924.7,745.4 L925.2,789.8 L925.6,746.5 L926.1,776.3 L926.5,749.1 L927.0,789.1 L927.4,747.0 L927.9,781.8 L928.3,751.1 L928.8,789.9 L929.2,754.2 L929.7,785.9 L930.1,752.2 L930.6,801.3 L931.0,751.9 L931.5,782.7 L931.9,754.3 L932.4,782.6 L932.8,755.9 L933.3,785.4 L933.7,751.1 L934.2,779.7 L934.6,749.5 L935.1,790.1 L935.5,749.1 L936.0,782.4 L936.4,748.9 L936.9,792.8 L937.3,748.3 L937.8,787.9 L938.2,754.4 L938.7,783.5 L939.1,755.3 L939.6,792.7 L940.0,750.9 L940.5,788.7 L940.9,750.8 L941.4,785.1 L941.8,754.9 L942.3,789.1 L942.7,752.2 L943.2,788.2 L943.6,751.1 L944.1,793.7 L944.5,751.6 L945.0,785.8 L945.4,750.0 L945.9,785.5 L946.3,751.8 L946.8,785.2 L947.2,752.5 L947.7,789.5 L948.1,751.8 L948.6,791.7 L949.0,753.1 L949.5,786.6 L949.9,751.5 L950.4,780.6 L950.8,750.0 L951.3,786.8 L951.7,754.8 L952.2,788.1 L952.6,751.1 L953.1,780.1 L953.5,750.5 L954.0,788.1 L954.4,751.4 L954.9,783.4 L955.3,753.1 L955.8,790.6 L956.2,757.7 L956.7,782.8 L957.1,753.1 L957.6,788.5 L958.0,751.3 L958.5,789.5 L958.9,752.1 L959.4,780.8 L959.8,752.8 L960.3,783.9 L960.7,758.8 L961.2,790.1 L961.6,753.9 L962.1,781.4 L962.5,752.2 L963.0,784.6 L963.4,752.0 L963.9,785.4 L964.3,751.5 L964.8,779.6 L965.2,751.6 L965.7,783.4 L966.1,752.9 L966.6,793.1 L967.0,756.4 L967.5,785.1 L967.9,750.7 L968.4,789.7 L968.8,757.6 L969.3,782.7 L969.7,752.5 L970.2,783.5 L970.6,756.6 L971.1,792.8 L971.5,751.8 L972.0,788.1 L972.4,753.7 L972.9,784.2 L973.3,754.1 L973.8,782.0 L974.2,752.8 L974.7,790.8 L975.1,752.3 L975.6,808.3 L976.0,753.4 L976.5,786.3 L976.9,753.3 L977.4,782.5 L977.8,754.1 L978.3,784.8 L978.7,758.3 L979.2,779.2 L979.6,753.8 L980.1,781.3 L980.5,757.2 L981.0,785.0 L981.4,756.6 L981.9,787.7 L982.3,753.7 L982.8,784.5 L983.2,760.4 L983.7,786.7 L984.1,756.8 L984.6,788.2 L985.0,759.1 L985.5,782.3 L985.9,753.7 L986.4,780.4 L986.8,753.8 L987.3,784.4 L987.7,753.7 L988.2,786.4 L988.6,758.0 L989.1,802.8 L989.5,757.4 L990.0,781.2 L990.4,755.0 L990.9,782.2 L991.3,754.4 L991.8,781.8 L992.2,758.0 L992.7,780.5 L993.1,758.1 L993.6,782.0 L994.0,756.6 L994.5,784.6 L994.9,754.1 L995.4,784.9 L995.8,754.0 L996.3,787.4 L996.7,755.9 L997.2,778.8 L997.6,755.9 L998.1,783.4 L998.5,754.3 L999.0,786.3 L999.4,753.4 L999.9,778.6 L1000.3,756.0 L1000.8,783.1 L1001.2,760.3 L1001.7,783.2 L1002.1,750.8 L1002.6,777.7 L1003.0,759.1 L1003.5,785.8 L1003.9,757.2 L1004.4,788.7 L1004.8,754.0 L1005.3,788.8 L1005.7,758.0 L1006.2,781.0 L1006.6,758.3 L1007.1,780.1 L1007.5,755.0 L1008.0,789.0 L1008.4,754.5 L1008.9,781.2 L1009.3,759.6 L1009.8,788.9 L1010.2,750.5 L1010.7,785.7 L1011.1,758.1 L1011.6,777.5 L1012.0,762.2 L1012.5,788.1 L1012.9,757.2" fill="none" stroke="#2ea35c" stroke-width="1.4" stroke-linejoin="round" />
<path d="M703.5,647.0 L706.3,660.0 L721.9,724.1 L736.0,733.5 L746.9,739.8 L756.3,747.6 L767.3,753.8 L778.2,760.1 L787.6,766.3 L792.3,771.0 L795.4,763.2 L800.1,772.6 L803.2,767.9 L807.9,786.7 L812.6,769.5 L817.3,782.0" fill="none" stroke="#b074e0" stroke-width="1.9" stroke-linejoin="round" />
<path d="M817.3,782.0 L818.0,780.7 L821.5,771.8 L824.7,788.2 L827.6,774.0 L830.3,774.8 L832.8,786.4 L835.2,785.1 L837.4,779.8 L839.5,783.8 L841.4,789.3 L843.3,774.6 L845.1,803.8 L846.8,780.7 L848.4,781.0 L849.9,806.7 L851.4,773.9 L852.8,796.5 L854.2,811.4 L855.5,780.8 L856.8,798.4 L858.1,782.9 L859.2,779.9 L860.4,807.8 L861.5,774.1 L862.6,776.1 L863.7,774.7 L864.7,777.4 L865.7,807.7 L866.7,774.6 L867.6,796.7 L868.6,809.9 L869.5,774.5 L870.3,810.9 L871.2,776.1 L872.0,790.4 L872.9,777.0 L873.7,803.5 L874.5,797.9 L875.2,807.3 L876.0,774.6 L876.7,804.3 L877.4,805.5 L878.2,782.8 L878.9,806.3 L879.5,779.7 L880.2,802.8 L880.9,778.7 L881.5,811.5 L882.2,779.2 L882.8,805.7 L883.4,776.4 L884.0,809.4 L884.6,779.8 L885.2,819.5 L885.8,778.0 L886.3,811.1 L886.9,780.5 L887.5,806.7 L888.0,778.1 L888.5,810.2 L889.1,777.0 L889.6,799.6 L890.1,777.5 L890.6,801.2 L891.1,773.8 L891.6,802.5 L892.1,777.9 L892.6,800.2 L893.0,776.6 L893.5,807.7 L894.0,777.5 L894.4,802.7 L894.9,780.0 L895.3,799.5 L895.8,776.9 L896.2,803.5 L896.7,776.9 L897.1,807.5 L897.6,776.4 L898.0,800.0 L898.5,779.1 L898.9,813.2 L899.4,780.5 L899.8,804.0 L900.3,779.8 L900.7,808.1 L901.2,779.1 L901.6,801.0 L902.1,773.5 L902.5,809.5 L903.0,776.5 L903.4,804.0 L903.9,785.4 L904.3,801.0 L904.8,781.5 L905.2,801.7 L905.7,782.3 L906.1,814.6 L906.6,779.4 L907.0,812.0 L907.5,780.8 L907.9,807.0 L908.4,783.4 L908.8,812.2 L909.3,778.7 L909.7,811.2 L910.2,783.9 L910.6,811.4 L911.1,783.1 L911.5,804.1 L912.0,782.9 L912.4,803.5 L912.9,786.4 L913.3,810.2 L913.8,780.7 L914.2,805.4 L914.7,782.5 L915.1,810.2 L915.6,783.3 L916.0,803.6 L916.5,781.4 L916.9,811.2 L917.4,780.6 L917.8,809.6 L918.3,782.7 L918.7,807.4 L919.2,776.7 L919.6,810.5 L920.1,782.5 L920.5,803.1 L921.0,784.3 L921.4,809.9 L921.9,783.7 L922.3,803.4 L922.8,780.1 L923.2,808.2 L923.7,787.0 L924.1,808.7 L924.6,784.2 L925.0,803.9 L925.5,785.0 L925.9,801.8 L926.4,782.8 L926.8,809.8 L927.3,781.8 L927.7,801.9 L928.2,783.4 L928.6,812.7 L929.1,783.3 L929.5,804.8 L930.0,784.9 L930.4,812.9 L930.9,787.8 L931.3,805.2 L931.8,785.3 L932.2,802.4 L932.7,787.5 L933.1,812.3 L933.6,782.4 L934.0,817.7 L934.5,786.3 L934.9,807.1 L935.4,782.8 L935.8,806.2 L936.3,789.9 L936.7,808.3 L937.2,782.6 L937.6,811.1 L938.1,784.2 L938.5,812.6 L939.0,781.6 L939.4,809.6 L939.9,785.6 L940.3,836.4 L940.8,784.3 L941.2,808.4 L941.7,782.4 L942.1,807.9 L942.6,785.8 L943.0,819.5 L943.5,783.0 L943.9,804.2 L944.4,784.5 L944.8,814.8 L945.3,786.6 L945.7,814.5 L946.2,786.5 L946.6,810.2 L947.1,785.8 L947.5,812.9 L948.0,782.3 L948.4,809.3 L948.9,783.2 L949.3,837.2 L949.8,783.3 L950.2,815.6 L950.7,784.9 L951.1,807.1 L951.6,790.3 L952.0,815.8 L952.5,791.2 L952.9,808.8 L953.4,786.3 L953.8,812.1 L954.3,786.5 L954.7,816.8 L955.2,785.5 L955.6,807.7 L956.1,785.7 L956.5,814.2 L957.0,790.5 L957.4,815.8 L957.9,785.2 L958.3,807.8 L958.8,778.9 L959.2,806.5 L959.7,781.3 L960.1,807.5 L960.6,778.7 L961.0,809.4 L961.5,788.2 L961.9,818.0 L962.4,785.2 L962.8,806.4 L963.3,784.4 L963.7,817.6 L964.2,778.6 L964.6,807.4 L965.1,788.7 L965.5,815.1 L966.0,790.4 L966.4,806.9 L966.9,787.8 L967.3,810.8 L967.8,790.3 L968.2,817.8 L968.7,786.8 L969.1,817.6 L969.6,784.7 L970.0,842.4 L970.5,783.0 L970.9,809.0 L971.4,783.2 L971.8,816.5 L972.3,788.6 L972.7,808.0 L973.2,785.5 L973.6,818.0 L974.1,788.5 L974.5,808.5 L975.0,787.9 L975.4,814.3 L975.9,785.0 L976.3,807.8 L976.8,782.3 L977.2,838.5 L977.7,781.1 L978.1,812.3 L978.6,781.4 L979.0,805.4 L979.5,785.6 L979.9,817.7 L980.4,780.2 L980.8,814.1 L981.3,781.4 L981.7,811.5 L982.2,780.1 L982.6,806.4 L983.1,783.2 L983.5,809.6 L984.0,783.0 L984.4,807.0 L984.9,784.8 L985.3,809.4 L985.8,784.7 L986.2,808.9 L986.7,782.0 L987.1,808.7 L987.6,780.3 L988.0,807.7 L988.5,774.2 L988.9,811.8 L989.4,783.8 L989.8,817.0 L990.3,783.2 L990.7,810.4 L991.2,780.8 L991.6,810.0 L992.1,780.0 L992.5,814.3 L993.0,781.3 L993.4,805.6 L993.9,786.1 L994.3,805.3 L994.8,779.2 L995.2,818.1 L995.7,779.6 L996.1,814.7 L996.6,783.8 L997.0,809.3 L997.5,783.7 L997.9,813.0 L998.4,778.0 L998.8,817.5 L999.3,784.2 L999.7,809.5 L1000.2,781.0 L1000.6,817.1 L1001.1,779.6 L1001.5,810.1 L1002.0,778.2 L1002.4,816.1 L1002.9,778.8 L1003.3,810.2 L1003.8,779.1 L1004.2,806.8 L1004.7,778.6 L1005.1,810.0 L1005.6,782.6 L1006.0,818.1 L1006.5,779.1 L1006.9,818.9 L1007.4,780.9 L1007.8,806.7 L1008.3,780.9 L1008.7,815.2 L1009.2,779.5 L1009.6,815.9 L1010.1,780.3 L1010.5,817.6 L1011.0,779.5 L1011.4,815.3 L1011.9,778.7 L1012.3,804.8 L1012.8,780.1" fill="none" stroke="#b074e0" stroke-width="1.4" stroke-linejoin="round" />
<path d="M703.5,686.0 L721.9,764.8 L739.1,775.6 L746.9,778.9 L757.0,785.0 L764.1,785.1 L768.8,791.4 L773.5,807.0 L780.5,793.5 L786.0,809.0 L790.0,796.0 L793.8,797.6 L799.0,815.5 L808.5,801.5 L815.7,816.3" fill="none" stroke="#d0a010" stroke-width="1.9" stroke-linejoin="round" />
<path d="M815.7,816.3 L817.0,803.0 L820.6,811.5 L823.8,812.3 L826.8,800.8 L829.6,814.7 L832.2,803.1 L834.5,808.9 L836.8,804.1 L838.9,805.1 L840.9,805.8 L842.8,806.5 L844.6,815.8 L846.3,818.0 L847.9,813.1 L849.5,800.8 L851.0,814.7 L852.5,803.9 L853.8,816.4 L855.2,852.7 L856.5,808.1 L857.7,821.0 L858.9,804.1 L860.1,826.0 L861.2,804.8 L862.3,800.5 L863.4,802.4 L864.4,823.4 L865.4,802.0 L866.4,821.4 L867.4,806.1 L868.3,818.2 L869.2,802.4 L870.1,822.2 L871.0,803.8 L871.8,823.3 L872.6,803.8 L873.5,828.8 L874.2,806.1 L875.0,802.4 L875.8,825.2 L876.5,808.5 L877.2,820.1 L878.0,806.4 L878.7,826.0 L879.4,801.3 L880.0,820.5 L880.7,805.2 L881.3,821.9 L882.0,802.8 L882.6,823.1 L883.2,800.5 L883.8,826.8 L884.4,804.6 L885.0,822.8 L885.6,805.3 L886.2,824.7 L886.7,804.9 L887.3,827.5 L887.9,803.2 L888.4,822.0 L888.9,802.5 L889.4,826.3 L890.0,801.4 L890.5,849.4 L891.0,800.5 L891.5,818.2 L892.0,804.2 L892.4,824.2 L892.9,800.4 L893.4,822.7 L893.8,801.7 L894.3,817.9 L894.8,806.3 L895.2,821.8 L895.7,806.8 L896.1,822.4 L896.6,804.8 L897.0,817.3 L897.5,804.5 L897.9,822.6 L898.4,803.6 L898.8,823.8 L899.3,805.9 L899.7,821.1 L900.2,804.9 L900.6,823.9 L901.1,800.4 L901.5,819.4 L902.0,803.9 L902.4,822.5 L902.9,800.8 L903.3,823.4 L903.8,802.0 L904.2,817.3 L904.7,803.6 L905.1,821.9 L905.6,804.1 L906.0,817.4 L906.5,800.8 L906.9,817.0 L907.4,803.4 L907.8,819.8 L908.3,801.8 L908.7,844.7 L909.2,805.9 L909.6,823.5 L910.1,802.8 L910.5,817.1 L911.0,804.1 L911.4,817.7 L911.9,803.5 L912.3,816.5 L912.8,802.7 L913.2,816.1 L913.7,804.1 L914.1,822.6 L914.6,802.9 L915.0,819.4 L915.5,803.3 L915.9,820.9 L916.4,801.7 L916.8,817.0 L917.3,805.0 L917.7,816.9 L918.2,805.2 L918.6,816.2 L919.1,806.7 L919.5,816.3 L920.0,796.5 L920.4,823.2 L920.9,805.5 L921.3,821.4 L921.8,797.0 L922.2,821.2 L922.7,805.2 L923.1,815.2 L923.6,802.4 L924.0,818.1 L924.5,802.9 L924.9,821.4 L925.4,807.1 L925.8,821.2 L926.3,801.6 L926.7,816.7 L927.2,805.3 L927.6,821.7 L928.1,802.2 L928.5,819.2 L929.0,801.7 L929.4,816.0 L929.9,801.9 L930.3,816.6 L930.8,805.3 L931.2,815.8 L931.7,803.6 L932.1,817.9 L932.6,806.0 L933.0,816.4 L933.5,804.1 L933.9,815.5 L934.4,802.6 L934.8,819.1 L935.3,805.4 L935.7,820.1 L936.2,806.3 L936.6,819.8 L937.1,806.7 L937.5,815.4 L938.0,807.6 L938.4,838.8 L938.9,803.7 L939.3,815.7 L939.8,803.8 L940.2,815.9 L940.7,807.3 L941.1,821.3 L941.6,805.2 L942.0,816.0 L942.5,807.1 L942.9,817.5 L943.4,805.6 L943.8,816.1 L944.3,811.9 L944.7,819.4 L945.2,805.9 L945.6,820.2 L946.1,806.2 L946.5,821.6 L947.0,809.6 L947.4,817.6 L947.9,807.8 L948.3,822.1 L948.8,809.7 L949.2,819.3 L949.7,807.7 L950.1,817.4 L950.6,806.6 L951.0,817.8 L951.5,811.7 L951.9,818.0 L952.4,806.3 L952.8,820.9 L953.3,806.2 L953.7,820.5 L954.2,807.3 L954.6,820.2 L955.1,807.8 L955.5,821.5 L956.0,808.5 L956.4,818.8 L956.9,808.0 L957.3,822.6 L957.8,807.5 L958.2,824.2 L958.7,808.8 L959.1,824.7 L959.6,812.2 L960.0,821.0 L960.5,807.1 L960.9,825.1 L961.4,807.0 L961.8,819.4 L962.3,810.0 L962.7,821.2 L963.2,808.7 L963.6,823.4 L964.1,808.0 L964.5,823.7 L965.0,806.4 L965.4,818.9 L965.9,807.8 L966.3,818.9 L966.8,812.1 L967.2,822.2 L967.7,809.8 L968.1,823.5 L968.6,810.2 L969.0,822.9 L969.5,806.6 L969.9,822.1 L970.4,808.1 L970.8,822.0 L971.3,803.8 L971.7,833.8 L972.2,806.9 L972.6,823.7 L973.1,808.6 L973.5,825.6 L974.0,810.8 L974.4,829.2 L974.9,804.8 L975.3,821.4 L975.8,811.3 L976.2,824.0 L976.7,801.9 L977.1,825.2 L977.6,812.6 L978.0,825.6 L978.5,808.8 L978.9,819.8 L979.4,813.0 L979.8,825.9 L980.3,809.1 L980.7,824.9 L981.2,810.0 L981.6,823.6 L982.1,812.1 L982.5,823.7 L983.0,811.5 L983.4,820.3 L983.9,812.7 L984.3,823.4 L984.8,809.2 L985.2,820.0 L985.7,812.5 L986.1,826.4 L986.6,807.9 L987.0,847.4 L987.5,808.5 L987.9,826.5 L988.4,808.9 L988.8,821.3 L989.3,812.8 L989.7,824.6 L990.2,807.2 L990.6,820.4 L991.1,807.2 L991.5,825.3 L992.0,802.7 L992.4,825.7 L992.9,811.8 L993.3,820.1 L993.8,811.0 L994.2,822.7 L994.7,803.3 L995.1,826.8 L995.6,812.0 L996.0,821.3 L996.5,807.6 L996.9,821.7 L997.4,803.2 L997.8,821.3 L998.3,808.3 L998.7,822.1 L999.2,808.2 L999.6,825.7 L1000.1,807.9 L1000.5,825.2 L1001.0,813.4 L1001.4,826.7 L1001.9,812.6 L1002.3,822.3 L1002.8,807.7 L1003.2,823.1 L1003.7,812.3 L1004.1,822.9 L1004.6,809.3 L1005.0,822.7 L1005.5,810.5 L1005.9,825.0 L1006.4,811.4 L1006.8,827.1 L1007.3,808.0 L1007.7,824.8 L1008.2,813.9 L1008.6,824.3 L1009.1,809.5 L1009.5,824.4 L1010.0,808.0 L1010.4,822.6 L1010.9,811.5 L1011.3,825.5 L1011.8,805.4 L1012.2,823.6 L1012.7,807.3 L1013.1,823.2" fill="none" stroke="#d0a010" stroke-width="1.4" stroke-linejoin="round" />
<path d="M703.5,726.6 L711.0,757.0 L718.8,783.6 L723.5,803.9 L731.3,820.0 L736.8,829.6 L746.9,825.7 L754.7,817.9 L763.3,828.8 L770.4,821.0 L776.6,822.6 L782.1,842.9 L786.8,819.4 L793.8,828.8 L800.1,838.2 L803.2,817.9" fill="none" stroke="#1ec8c8" stroke-width="1.9" stroke-linejoin="round" />
<path d="M803.2,817.9 L805.0,821.9 L809.9,836.7 L814.3,820.4 L818.1,825.5 L821.6,830.9 L824.8,822.4 L827.7,829.8 L830.4,833.2 L832.9,820.3 L835.3,844.8 L837.5,819.1 L839.5,842.0 L841.5,844.0 L843.4,839.8 L845.1,838.3 L846.8,823.5 L848.4,819.1 L850.0,818.8 L851.5,828.9 L852.9,840.1 L854.3,818.9 L855.6,832.1 L856.9,822.5 L858.1,842.3 L859.3,817.9 L860.4,845.6 L861.6,820.3 L862.7,837.9 L863.7,820.5 L864.7,834.0 L865.7,841.7 L866.7,824.4 L867.7,844.7 L868.6,820.2 L869.5,848.0 L870.4,820.1 L871.2,853.3 L872.1,822.6 L872.9,846.6 L873.7,822.4 L874.5,849.8 L875.3,824.6 L876.0,855.8 L876.7,821.2 L877.5,856.6 L878.2,815.7 L878.9,848.7 L879.6,817.5 L880.2,849.9 L880.9,826.3 L881.5,854.2 L882.2,824.9 L882.8,850.5 L883.4,820.5 L884.0,853.2 L884.6,817.3 L885.2,853.8 L885.8,819.6 L886.4,853.0 L886.9,821.5 L887.5,843.5 L888.0,821.7 L888.6,848.5 L889.1,817.6 L889.6,859.6 L890.1,816.7 L890.6,849.4 L891.1,816.3 L891.6,858.6 L892.1,819.2 L892.6,877.5 L893.1,815.1 L893.5,851.0 L894.0,817.2 L894.4,848.0 L894.9,812.7 L895.3,852.9 L895.8,814.1 L896.2,845.9 L896.7,814.6 L897.1,856.0 L897.6,818.7 L898.0,854.6 L898.5,816.0 L898.9,858.4 L899.4,809.4 L899.8,885.0 L900.3,816.7 L900.7,857.5 L901.2,815.0 L901.6,855.2 L902.1,816.7 L902.5,854.7 L903.0,819.8 L903.4,855.6 L903.9,814.2 L904.3,874.1 L904.8,815.6 L905.2,859.2 L905.7,815.9 L906.1,852.6 L906.6,814.7 L907.0,851.6 L907.5,815.2 L907.9,858.1 L908.4,817.3 L908.8,859.0 L909.3,815.7 L909.7,849.3 L910.2,814.5 L910.6,858.9 L911.1,816.6 L911.5,855.2 L912.0,815.7 L912.4,852.8 L912.9,816.0 L913.3,852.9 L913.8,814.3 L914.2,855.0 L914.7,815.9 L915.1,850.6 L915.6,812.3 L916.0,853.2 L916.5,820.6 L916.9,855.1 L917.4,816.2 L917.8,847.8 L918.3,812.2 L918.7,844.8 L919.2,813.9 L919.6,845.5 L920.1,811.5 L920.5,849.6 L921.0,816.0 L921.4,845.4 L921.9,818.1 L922.3,854.6 L922.8,812.6 L923.2,845.9 L923.7,815.1 L924.1,851.7 L924.6,812.0 L925.0,846.6 L925.5,813.9 L925.9,854.1 L926.4,812.6 L926.8,857.6 L927.3,813.1 L927.7,855.7 L928.2,810.8 L928.6,856.9 L929.1,812.8 L929.5,853.1 L930.0,816.9 L930.4,857.3 L930.9,810.0 L931.3,847.2 L931.8,813.3 L932.2,848.4 L932.7,809.5 L933.1,843.1 L933.6,813.6 L934.0,842.5 L934.5,808.6 L934.9,850.1 L935.4,806.0 L935.8,855.6 L936.3,810.2 L936.7,845.1 L937.2,808.5 L937.6,858.8 L938.1,816.6 L938.5,842.1 L939.0,813.6 L939.4,846.6 L939.9,808.7 L940.3,841.0 L940.8,815.3 L941.2,852.1 L941.7,812.3 L942.1,849.8 L942.6,807.9 L943.0,858.0 L943.5,808.0 L943.9,851.2 L944.4,806.7 L944.8,856.6 L945.3,805.1 L945.7,844.1 L946.2,804.1 L946.6,851.0 L947.1,804.0 L947.5,845.8 L948.0,806.4 L948.4,851.5 L948.9,803.8 L949.3,846.2 L949.8,810.7 L950.2,840.8 L950.7,805.7 L951.1,843.6 L951.6,807.1 L952.0,843.6 L952.5,804.3 L952.9,850.5 L953.4,802.5 L953.8,851.5 L954.3,805.0 L954.7,848.2 L955.2,809.0 L955.6,840.8 L956.1,803.3 L956.5,837.7 L957.0,801.1 L957.4,843.3 L957.9,801.3 L958.3,846.4 L958.8,803.1 L959.2,851.4 L959.7,801.4 L960.1,843.4 L960.6,801.8 L961.0,863.8 L961.5,800.7 L961.9,851.8 L962.4,798.5 L962.8,851.8 L963.3,806.9 L963.7,853.6 L964.2,798.9 L964.6,852.0 L965.1,799.9 L965.5,845.8 L966.0,802.4 L966.4,846.3 L966.9,799.9 L967.3,844.2 L967.8,800.2 L968.2,853.6 L968.7,795.2 L969.1,837.1 L969.6,802.1 L970.0,835.4 L970.5,796.9 L970.9,845.8 L971.4,797.7 L971.8,839.7 L972.3,799.0 L972.7,852.2 L973.2,799.2 L973.6,862.8 L974.1,796.6 L974.5,854.7 L975.0,798.9 L975.4,852.9 L975.9,799.8 L976.3,843.3 L976.8,798.2 L977.2,845.5 L977.7,797.3 L978.1,840.9 L978.6,796.6 L979.0,837.7 L979.5,796.3 L979.9,849.5 L980.4,796.5 L980.8,842.9 L981.3,801.4 L981.7,838.8 L982.2,790.3 L982.6,841.4 L983.1,795.2 L983.5,846.9 L984.0,797.4 L984.4,848.1 L984.9,796.1 L985.3,836.5 L985.8,796.8 L986.2,853.5 L986.7,796.9 L987.1,839.2 L987.6,794.8 L988.0,841.2 L988.5,796.9 L988.9,835.8 L989.4,797.3 L989.8,852.7 L990.3,794.8 L990.7,833.2 L991.2,795.4 L991.6,844.1 L992.1,793.0 L992.5,836.9 L993.0,793.3 L993.4,841.8 L993.9,792.1 L994.3,851.5 L994.8,790.0 L995.2,831.7 L995.7,793.3 L996.1,834.7 L996.6,788.9 L997.0,838.0 L997.5,795.8 L997.9,835.5 L998.4,793.6 L998.8,849.9 L999.3,796.3 L999.7,840.6 L1000.2,793.4 L1000.6,839.9 L1001.1,791.6 L1001.5,838.7 L1002.0,797.6 L1002.4,830.5 L1002.9,798.1 L1003.3,840.0 L1003.8,791.4 L1004.2,841.6 L1004.7,791.4 L1005.1,850.1 L1005.6,789.7 L1006.0,829.5 L1006.5,791.8 L1006.9,850.2 L1007.4,790.1 L1007.8,832.5 L1008.3,791.3 L1008.7,841.3 L1009.2,788.4 L1009.6,866.0 L1010.1,788.8 L1010.5,831.9 L1011.0,791.9 L1011.4,872.7 L1011.9,790.3 L1012.3,864.5 L1012.8,791.2" fill="none" stroke="#1ec8c8" stroke-width="1.4" stroke-linejoin="round" />
<path d="M703.5,753.0 L707.8,760.0 L721.9,780.3 L739.1,794.4 L750.0,805.4 L756.3,814.7 L768.8,810.8 L776.6,819.4 L781.3,817.9 L786.0,833.5 L793.8,830.4 L801.7,835.1 L809.5,828.8 L817.3,841.3 L820.4,860.1" fill="none" stroke="#7a4848" stroke-width="1.9" stroke-linejoin="round" />
<path d="M820.4,860.1 L822.0,845.2 L825.1,835.6 L828.0,859.7 L830.7,844.0 L833.2,856.7 L835.5,873.7 L837.7,845.1 L839.8,844.9 L841.7,877.3 L843.6,866.6 L845.3,851.7 L847.0,870.1 L848.6,839.2 L850.2,870.5 L851.6,856.5 L853.0,859.1 L854.4,842.7 L855.7,849.4 L857.0,876.9 L858.2,884.5 L859.4,844.6 L860.6,882.6 L861.7,846.4 L862.8,877.3 L863.8,858.3 L864.9,877.6 L865.9,845.1 L866.8,873.6 L867.8,844.0 L868.7,888.0 L869.6,843.3 L870.5,889.5 L871.3,846.4 L872.2,888.1 L873.0,844.0 L873.8,883.8 L874.6,850.7 L875.3,879.3 L876.1,845.0 L876.8,870.1 L877.6,878.6 L878.3,845.6 L879.0,887.1 L879.6,849.5 L880.3,880.9 L881.0,850.6 L881.6,888.6 L882.3,845.7 L882.9,895.6 L883.5,848.3 L884.1,891.4 L884.7,846.4 L885.3,888.7 L885.9,847.7 L886.4,934.9 L887.0,852.3 L887.5,890.4 L888.1,855.2 L888.6,899.5 L889.1,850.5 L889.7,895.4 L890.2,849.5 L890.7,888.7 L891.2,852.9 L891.7,887.8 L892.2,848.6 L892.6,897.0 L893.1,850.1 L893.6,894.8 L894.0,849.6 L894.5,902.3 L894.9,853.2 L895.4,888.3 L895.8,847.8 L896.3,901.2 L896.7,850.4 L897.2,891.6 L897.6,850.1 L898.1,898.2 L898.5,854.4 L899.0,886.9 L899.4,851.4 L899.9,887.4 L900.3,849.6 L900.8,905.7 L901.2,855.6 L901.7,898.9 L902.1,848.9 L902.6,903.6 L903.0,854.8 L903.5,900.9 L903.9,851.1 L904.4,900.0 L904.8,855.1 L905.3,912.3 L905.7,850.5 L906.2,901.3 L906.6,852.9 L907.1,886.6 L907.5,848.5 L908.0,935.2 L908.4,850.7 L908.9,891.0 L909.3,856.8 L909.8,901.3 L910.2,855.2 L910.7,894.1 L911.1,854.7 L911.6,940.6 L912.0,854.2 L912.5,901.2 L912.9,851.1 L913.4,890.7 L913.8,852.7 L914.3,889.9 L914.7,850.4 L915.2,890.9 L915.6,848.0 L916.1,901.1 L916.5,848.9 L917.0,907.1 L917.4,850.3 L917.9,897.9 L918.3,852.9 L918.8,898.4 L919.2,848.4 L919.7,896.7 L920.1,851.9 L920.6,894.4 L921.0,850.4 L921.5,891.8 L921.9,849.6 L922.4,890.8 L922.8,855.0 L923.3,905.8 L923.7,851.7 L924.2,915.7 L924.6,850.8 L925.1,892.0 L925.5,849.4 L926.0,939.7 L926.4,853.6 L926.9,904.5 L927.3,855.2 L927.8,890.9 L928.2,850.1 L928.7,893.1 L929.1,856.0 L929.6,893.3 L930.0,854.4 L930.5,908.7 L930.9,854.2 L931.4,903.2 L931.8,848.6 L932.3,904.4 L932.7,849.0 L933.2,901.5 L933.6,848.3 L934.1,896.6 L934.5,849.2 L935.0,888.8 L935.4,849.1 L935.9,899.4 L936.3,846.3 L936.8,907.1 L937.2,848.7 L937.7,902.6 L938.1,848.1 L938.6,902.0 L939.0,849.7 L939.5,893.1 L939.9,849.9 L940.4,899.0 L940.8,849.4 L941.3,903.6 L941.7,852.8 L942.2,903.0 L942.6,846.9 L943.1,898.9 L943.5,848.2 L944.0,903.8 L944.4,849.8 L944.9,935.1 L945.3,848.9 L945.8,898.7 L946.2,850.6 L946.7,892.5 L947.1,850.7 L947.6,888.6 L948.0,847.2 L948.5,900.1 L948.9,848.6 L949.4,897.0 L949.8,844.1 L950.3,910.0 L950.7,847.5 L951.2,897.2 L951.6,847.9 L952.1,900.3 L952.5,851.1 L953.0,901.8 L953.4,848.6 L953.9,909.8 L954.3,850.8 L954.8,888.6 L955.2,847.6 L955.7,893.8 L956.1,847.3 L956.6,897.2 L957.0,848.3 L957.5,909.0 L957.9,846.8 L958.4,889.3 L958.8,849.1 L959.3,905.6 L959.7,849.5 L960.2,901.1 L960.6,848.5 L961.1,908.5 L961.5,850.9 L962.0,902.0 L962.4,844.7 L962.9,901.3 L963.3,850.6 L963.8,908.7 L964.2,846.8 L964.7,908.5 L965.1,848.3 L965.6,896.4 L966.0,845.5 L966.5,907.6 L966.9,848.8 L967.4,895.7 L967.8,845.4 L968.3,891.4 L968.7,848.9 L969.2,940.5 L969.6,843.8 L970.1,921.7 L970.5,843.6 L971.0,900.4 L971.4,845.1 L971.9,904.7 L972.3,843.6 L972.8,905.7 L973.2,844.8 L973.7,897.9 L974.1,843.5 L974.6,899.1 L975.0,846.4 L975.5,889.0 L975.9,842.0 L976.4,887.3 L976.8,847.5 L977.3,886.7 L977.7,849.4 L978.2,904.0 L978.6,845.0 L979.1,894.7 L979.5,848.5 L980.0,896.5 L980.4,842.7 L980.9,902.5 L981.3,840.8 L981.8,893.9 L982.2,842.7 L982.7,905.0 L983.1,846.2 L983.6,887.8 L984.0,845.4 L984.5,907.3 L984.9,843.7 L985.4,898.1 L985.8,844.8 L986.3,895.1 L986.7,844.4 L987.2,901.4 L987.6,845.6 L988.1,900.7 L988.5,839.8 L989.0,888.2 L989.4,841.6 L989.9,898.0 L990.3,846.5 L990.8,903.5 L991.2,844.8 L991.7,890.5 L992.1,845.3 L992.6,888.4 L993.0,845.1 L993.5,891.3 L993.9,842.1 L994.4,906.0 L994.8,844.3 L995.3,901.7 L995.7,841.5 L996.2,896.3 L996.6,842.4 L997.1,900.1 L997.5,845.1 L998.0,908.8 L998.4,842.5 L998.9,897.7 L999.3,841.6 L999.8,896.3 L1000.2,840.8 L1000.7,945.7 L1001.1,840.0 L1001.6,899.9 L1002.0,840.5 L1002.5,888.0 L1002.9,839.5 L1003.4,901.0 L1003.8,843.6 L1004.3,895.5 L1004.7,843.3 L1005.2,903.9 L1005.6,839.7 L1006.1,900.0 L1006.5,841.4 L1007.0,903.9 L1007.4,840.8 L1007.9,894.4 L1008.3,840.7 L1008.8,894.1 L1009.2,840.7 L1009.7,885.8 L1010.1,840.1 L1010.6,887.6 L1011.0,841.2 L1011.5,895.0 L1011.9,840.9 L1012.4,899.2 L1012.8,841.3" fill="none" stroke="#7a4848" stroke-width="1.4" stroke-linejoin="round" />
<line x1="924.5" y1="818.0" x2="924.5" y2="850.0" stroke="#7a4848" stroke-width="1.6" />
<line x1="962.5" y1="814.0" x2="962.5" y2="850.0" stroke="#7a4848" stroke-width="1.6" />
<line x1="911.0" y1="952.0" x2="911.0" y2="880.0" stroke="#7a4848" stroke-width="1.6" />
<line x1="943.0" y1="930.0" x2="943.0" y2="880.0" stroke="#7a4848" stroke-width="1.6" />
<line x1="981.0" y1="938.0" x2="981.0" y2="880.0" stroke="#7a4848" stroke-width="1.6" />
<rect x="703.5" y="466.0" width="311.70000000000005" height="489.6" fill="none" stroke="#222" stroke-width="1.5"/>
<line x1="694.3" y1="955.6" x2="703.5" y2="955.6" stroke="#222" stroke-width="1.3" />
<line x1="698.3" y1="943.3" x2="703.5" y2="943.3" stroke="#222" stroke-width="1.1" />
<line x1="698.3" y1="936.1" x2="703.5" y2="936.1" stroke="#222" stroke-width="1.1" />
<line x1="698.3" y1="931.0" x2="703.5" y2="931.0" stroke="#222" stroke-width="1.1" />
<line x1="698.3" y1="927.1" x2="703.5" y2="927.1" stroke="#222" stroke-width="1.1" />
<line x1="698.3" y1="923.9" x2="703.5" y2="923.9" stroke="#222" stroke-width="1.1" />
<line x1="698.3" y1="921.1" x2="703.5" y2="921.1" stroke="#222" stroke-width="1.1" />
<line x1="698.3" y1="918.8" x2="703.5" y2="918.8" stroke="#222" stroke-width="1.1" />
<line x1="698.3" y1="916.7" x2="703.5" y2="916.7" stroke="#222" stroke-width="1.1" />
<line x1="694.3" y1="914.8" x2="703.5" y2="914.8" stroke="#222" stroke-width="1.3" />
<line x1="698.3" y1="902.5" x2="703.5" y2="902.5" stroke="#222" stroke-width="1.1" />
<line x1="698.3" y1="895.3" x2="703.5" y2="895.3" stroke="#222" stroke-width="1.1" />
<line x1="698.3" y1="890.2" x2="703.5" y2="890.2" stroke="#222" stroke-width="1.1" />
<line x1="698.3" y1="886.3" x2="703.5" y2="886.3" stroke="#222" stroke-width="1.1" />
<line x1="698.3" y1="883.1" x2="703.5" y2="883.1" stroke="#222" stroke-width="1.1" />
<line x1="698.3" y1="880.3" x2="703.5" y2="880.3" stroke="#222" stroke-width="1.1" />
<line x1="698.3" y1="878.0" x2="703.5" y2="878.0" stroke="#222" stroke-width="1.1" />
<line x1="698.3" y1="875.9" x2="703.5" y2="875.9" stroke="#222" stroke-width="1.1" />
<line x1="694.3" y1="874.0" x2="703.5" y2="874.0" stroke="#222" stroke-width="1.3" />
<line x1="698.3" y1="861.7" x2="703.5" y2="861.7" stroke="#222" stroke-width="1.1" />
<line x1="698.3" y1="854.5" x2="703.5" y2="854.5" stroke="#222" stroke-width="1.1" />
<line x1="698.3" y1="849.4" x2="703.5" y2="849.4" stroke="#222" stroke-width="1.1" />
<line x1="698.3" y1="845.5" x2="703.5" y2="845.5" stroke="#222" stroke-width="1.1" />
<line x1="698.3" y1="842.3" x2="703.5" y2="842.3" stroke="#222" stroke-width="1.1" />
<line x1="698.3" y1="839.5" x2="703.5" y2="839.5" stroke="#222" stroke-width="1.1" />
<line x1="698.3" y1="837.2" x2="703.5" y2="837.2" stroke="#222" stroke-width="1.1" />
<line x1="698.3" y1="835.1" x2="703.5" y2="835.1" stroke="#222" stroke-width="1.1" />
<line x1="694.3" y1="833.2" x2="703.5" y2="833.2" stroke="#222" stroke-width="1.3" />
<line x1="698.3" y1="820.9" x2="703.5" y2="820.9" stroke="#222" stroke-width="1.1" />
<line x1="698.3" y1="813.7" x2="703.5" y2="813.7" stroke="#222" stroke-width="1.1" />
<line x1="698.3" y1="808.6" x2="703.5" y2="808.6" stroke="#222" stroke-width="1.1" />
<line x1="698.3" y1="804.7" x2="703.5" y2="804.7" stroke="#222" stroke-width="1.1" />
<line x1="698.3" y1="801.5" x2="703.5" y2="801.5" stroke="#222" stroke-width="1.1" />
<line x1="698.3" y1="798.7" x2="703.5" y2="798.7" stroke="#222" stroke-width="1.1" />
<line x1="698.3" y1="796.4" x2="703.5" y2="796.4" stroke="#222" stroke-width="1.1" />
<line x1="698.3" y1="794.3" x2="703.5" y2="794.3" stroke="#222" stroke-width="1.1" />
<line x1="694.3" y1="792.4" x2="703.5" y2="792.4" stroke="#222" stroke-width="1.3" />
<line x1="698.3" y1="780.1" x2="703.5" y2="780.1" stroke="#222" stroke-width="1.1" />
<line x1="698.3" y1="772.9" x2="703.5" y2="772.9" stroke="#222" stroke-width="1.1" />
<line x1="698.3" y1="767.8" x2="703.5" y2="767.8" stroke="#222" stroke-width="1.1" />
<line x1="698.3" y1="763.9" x2="703.5" y2="763.9" stroke="#222" stroke-width="1.1" />
<line x1="698.3" y1="760.7" x2="703.5" y2="760.7" stroke="#222" stroke-width="1.1" />
<line x1="698.3" y1="757.9" x2="703.5" y2="757.9" stroke="#222" stroke-width="1.1" />
<line x1="698.3" y1="755.6" x2="703.5" y2="755.6" stroke="#222" stroke-width="1.1" />
<line x1="698.3" y1="753.5" x2="703.5" y2="753.5" stroke="#222" stroke-width="1.1" />
<line x1="694.3" y1="751.6" x2="703.5" y2="751.6" stroke="#222" stroke-width="1.3" />
<line x1="698.3" y1="739.3" x2="703.5" y2="739.3" stroke="#222" stroke-width="1.1" />
<line x1="698.3" y1="732.1" x2="703.5" y2="732.1" stroke="#222" stroke-width="1.1" />
<line x1="698.3" y1="727.0" x2="703.5" y2="727.0" stroke="#222" stroke-width="1.1" />
<line x1="698.3" y1="723.1" x2="703.5" y2="723.1" stroke="#222" stroke-width="1.1" />
<line x1="698.3" y1="719.9" x2="703.5" y2="719.9" stroke="#222" stroke-width="1.1" />
<line x1="698.3" y1="717.1" x2="703.5" y2="717.1" stroke="#222" stroke-width="1.1" />
<line x1="698.3" y1="714.8" x2="703.5" y2="714.8" stroke="#222" stroke-width="1.1" />
<line x1="698.3" y1="712.7" x2="703.5" y2="712.7" stroke="#222" stroke-width="1.1" />
<line x1="694.3" y1="710.8" x2="703.5" y2="710.8" stroke="#222" stroke-width="1.3" />
<line x1="698.3" y1="698.5" x2="703.5" y2="698.5" stroke="#222" stroke-width="1.1" />
<line x1="698.3" y1="691.3" x2="703.5" y2="691.3" stroke="#222" stroke-width="1.1" />
<line x1="698.3" y1="686.2" x2="703.5" y2="686.2" stroke="#222" stroke-width="1.1" />
<line x1="698.3" y1="682.3" x2="703.5" y2="682.3" stroke="#222" stroke-width="1.1" />
<line x1="698.3" y1="679.1" x2="703.5" y2="679.1" stroke="#222" stroke-width="1.1" />
<line x1="698.3" y1="676.3" x2="703.5" y2="676.3" stroke="#222" stroke-width="1.1" />
<line x1="698.3" y1="674.0" x2="703.5" y2="674.0" stroke="#222" stroke-width="1.1" />
<line x1="698.3" y1="671.9" x2="703.5" y2="671.9" stroke="#222" stroke-width="1.1" />
<line x1="694.3" y1="670.0" x2="703.5" y2="670.0" stroke="#222" stroke-width="1.3" />
<line x1="698.3" y1="657.7" x2="703.5" y2="657.7" stroke="#222" stroke-width="1.1" />
<line x1="698.3" y1="650.5" x2="703.5" y2="650.5" stroke="#222" stroke-width="1.1" />
<line x1="698.3" y1="645.4" x2="703.5" y2="645.4" stroke="#222" stroke-width="1.1" />
<line x1="698.3" y1="641.5" x2="703.5" y2="641.5" stroke="#222" stroke-width="1.1" />
<line x1="698.3" y1="638.3" x2="703.5" y2="638.3" stroke="#222" stroke-width="1.1" />
<line x1="698.3" y1="635.5" x2="703.5" y2="635.5" stroke="#222" stroke-width="1.1" />
<line x1="698.3" y1="633.2" x2="703.5" y2="633.2" stroke="#222" stroke-width="1.1" />
<line x1="698.3" y1="631.1" x2="703.5" y2="631.1" stroke="#222" stroke-width="1.1" />
<line x1="694.3" y1="629.2" x2="703.5" y2="629.2" stroke="#222" stroke-width="1.3" />
<line x1="698.3" y1="616.9" x2="703.5" y2="616.9" stroke="#222" stroke-width="1.1" />
<line x1="698.3" y1="609.7" x2="703.5" y2="609.7" stroke="#222" stroke-width="1.1" />
<line x1="698.3" y1="604.6" x2="703.5" y2="604.6" stroke="#222" stroke-width="1.1" />
<line x1="698.3" y1="600.7" x2="703.5" y2="600.7" stroke="#222" stroke-width="1.1" />
<line x1="698.3" y1="597.5" x2="703.5" y2="597.5" stroke="#222" stroke-width="1.1" />
<line x1="698.3" y1="594.7" x2="703.5" y2="594.7" stroke="#222" stroke-width="1.1" />
<line x1="698.3" y1="592.4" x2="703.5" y2="592.4" stroke="#222" stroke-width="1.1" />
<line x1="698.3" y1="590.3" x2="703.5" y2="590.3" stroke="#222" stroke-width="1.1" />
<line x1="694.3" y1="588.4" x2="703.5" y2="588.4" stroke="#222" stroke-width="1.3" />
<line x1="698.3" y1="576.1" x2="703.5" y2="576.1" stroke="#222" stroke-width="1.1" />
<line x1="698.3" y1="568.9" x2="703.5" y2="568.9" stroke="#222" stroke-width="1.1" />
<line x1="698.3" y1="563.8" x2="703.5" y2="563.8" stroke="#222" stroke-width="1.1" />
<line x1="698.3" y1="559.9" x2="703.5" y2="559.9" stroke="#222" stroke-width="1.1" />
<line x1="698.3" y1="556.7" x2="703.5" y2="556.7" stroke="#222" stroke-width="1.1" />
<line x1="698.3" y1="553.9" x2="703.5" y2="553.9" stroke="#222" stroke-width="1.1" />
<line x1="698.3" y1="551.6" x2="703.5" y2="551.6" stroke="#222" stroke-width="1.1" />
<line x1="698.3" y1="549.5" x2="703.5" y2="549.5" stroke="#222" stroke-width="1.1" />
<line x1="694.3" y1="547.6" x2="703.5" y2="547.6" stroke="#222" stroke-width="1.3" />
<line x1="698.3" y1="535.3" x2="703.5" y2="535.3" stroke="#222" stroke-width="1.1" />
<line x1="698.3" y1="528.1" x2="703.5" y2="528.1" stroke="#222" stroke-width="1.1" />
<line x1="698.3" y1="523.0" x2="703.5" y2="523.0" stroke="#222" stroke-width="1.1" />
<line x1="698.3" y1="519.1" x2="703.5" y2="519.1" stroke="#222" stroke-width="1.1" />
<line x1="698.3" y1="515.9" x2="703.5" y2="515.9" stroke="#222" stroke-width="1.1" />
<line x1="698.3" y1="513.1" x2="703.5" y2="513.1" stroke="#222" stroke-width="1.1" />
<line x1="698.3" y1="510.8" x2="703.5" y2="510.8" stroke="#222" stroke-width="1.1" />
<line x1="698.3" y1="508.7" x2="703.5" y2="508.7" stroke="#222" stroke-width="1.1" />
<line x1="694.3" y1="506.8" x2="703.5" y2="506.8" stroke="#222" stroke-width="1.3" />
<line x1="698.3" y1="494.5" x2="703.5" y2="494.5" stroke="#222" stroke-width="1.1" />
<line x1="698.3" y1="487.3" x2="703.5" y2="487.3" stroke="#222" stroke-width="1.1" />
<line x1="698.3" y1="482.2" x2="703.5" y2="482.2" stroke="#222" stroke-width="1.1" />
<line x1="698.3" y1="478.3" x2="703.5" y2="478.3" stroke="#222" stroke-width="1.1" />
<line x1="698.3" y1="475.1" x2="703.5" y2="475.1" stroke="#222" stroke-width="1.1" />
<line x1="698.3" y1="472.3" x2="703.5" y2="472.3" stroke="#222" stroke-width="1.1" />
<line x1="698.3" y1="470.0" x2="703.5" y2="470.0" stroke="#222" stroke-width="1.1" />
<line x1="698.3" y1="467.9" x2="703.5" y2="467.9" stroke="#222" stroke-width="1.1" />
<line x1="694.3" y1="466.0" x2="703.5" y2="466.0" stroke="#222" stroke-width="1.3" />
<g transform="translate(690.0,472.4) scale(0.9,1)"><text x="0" y="0" font-size="17" fill="#222" text-anchor="end">10<tspan dy="-5.1" font-size="12">-4</tspan></text></g>
<g transform="translate(690.0,554.0) scale(0.9,1)"><text x="0" y="0" font-size="17" fill="#222" text-anchor="end">10<tspan dy="-5.1" font-size="12">-6</tspan></text></g>
<g transform="translate(690.0,635.6) scale(0.9,1)"><text x="0" y="0" font-size="17" fill="#222" text-anchor="end">10<tspan dy="-5.1" font-size="12">-8</tspan></text></g>
<g transform="translate(690.0,717.2) scale(0.9,1)"><text x="0" y="0" font-size="17" fill="#222" text-anchor="end">10<tspan dy="-5.1" font-size="12">-10</tspan></text></g>
<g transform="translate(690.0,798.8) scale(0.9,1)"><text x="0" y="0" font-size="17" fill="#222" text-anchor="end">10<tspan dy="-5.1" font-size="12">-12</tspan></text></g>
<g transform="translate(690.0,880.4) scale(0.9,1)"><text x="0" y="0" font-size="17" fill="#222" text-anchor="end">10<tspan dy="-5.1" font-size="12">-14</tspan></text></g>
<g transform="translate(690.0,962.0) scale(0.9,1)"><text x="0" y="0" font-size="17" fill="#222" text-anchor="end">10<tspan dy="-5.1" font-size="12">-16</tspan></text></g>
<line x1="703.6" y1="955.6" x2="703.6" y2="959.8" stroke="#222" stroke-width="1.1" />
<line x1="709.4" y1="955.6" x2="709.4" y2="959.8" stroke="#222" stroke-width="1.1" />
<line x1="714.4" y1="955.6" x2="714.4" y2="959.8" stroke="#222" stroke-width="1.1" />
<line x1="718.8" y1="955.6" x2="718.8" y2="959.8" stroke="#222" stroke-width="1.1" />
<line x1="722.7" y1="955.6" x2="722.7" y2="964.2" stroke="#222" stroke-width="1.3" />
<line x1="748.6" y1="955.6" x2="748.6" y2="959.8" stroke="#222" stroke-width="1.1" />
<line x1="763.7" y1="955.6" x2="763.7" y2="959.8" stroke="#222" stroke-width="1.1" />
<line x1="774.5" y1="955.6" x2="774.5" y2="959.8" stroke="#222" stroke-width="1.1" />
<line x1="782.8" y1="955.6" x2="782.8" y2="959.8" stroke="#222" stroke-width="1.1" />
<line x1="789.6" y1="955.6" x2="789.6" y2="959.8" stroke="#222" stroke-width="1.1" />
<line x1="795.4" y1="955.6" x2="795.4" y2="959.8" stroke="#222" stroke-width="1.1" />
<line x1="800.4" y1="955.6" x2="800.4" y2="959.8" stroke="#222" stroke-width="1.1" />
<line x1="804.8" y1="955.6" x2="804.8" y2="959.8" stroke="#222" stroke-width="1.1" />
<line x1="808.7" y1="955.6" x2="808.7" y2="964.2" stroke="#222" stroke-width="1.3" />
<line x1="834.6" y1="955.6" x2="834.6" y2="959.8" stroke="#222" stroke-width="1.1" />
<line x1="849.7" y1="955.6" x2="849.7" y2="959.8" stroke="#222" stroke-width="1.1" />
<line x1="860.5" y1="955.6" x2="860.5" y2="959.8" stroke="#222" stroke-width="1.1" />
<line x1="868.8" y1="955.6" x2="868.8" y2="959.8" stroke="#222" stroke-width="1.1" />
<line x1="875.6" y1="955.6" x2="875.6" y2="959.8" stroke="#222" stroke-width="1.1" />
<line x1="881.4" y1="955.6" x2="881.4" y2="959.8" stroke="#222" stroke-width="1.1" />
<line x1="886.4" y1="955.6" x2="886.4" y2="959.8" stroke="#222" stroke-width="1.1" />
<line x1="890.8" y1="955.6" x2="890.8" y2="959.8" stroke="#222" stroke-width="1.1" />
<line x1="894.7" y1="955.6" x2="894.7" y2="964.2" stroke="#222" stroke-width="1.3" />
<line x1="920.6" y1="955.6" x2="920.6" y2="959.8" stroke="#222" stroke-width="1.1" />
<line x1="935.7" y1="955.6" x2="935.7" y2="959.8" stroke="#222" stroke-width="1.1" />
<line x1="946.5" y1="955.6" x2="946.5" y2="959.8" stroke="#222" stroke-width="1.1" />
<line x1="954.8" y1="955.6" x2="954.8" y2="959.8" stroke="#222" stroke-width="1.1" />
<line x1="961.6" y1="955.6" x2="961.6" y2="959.8" stroke="#222" stroke-width="1.1" />
<line x1="967.4" y1="955.6" x2="967.4" y2="959.8" stroke="#222" stroke-width="1.1" />
<line x1="972.4" y1="955.6" x2="972.4" y2="959.8" stroke="#222" stroke-width="1.1" />
<line x1="976.8" y1="955.6" x2="976.8" y2="959.8" stroke="#222" stroke-width="1.1" />
<line x1="980.7" y1="955.6" x2="980.7" y2="964.2" stroke="#222" stroke-width="1.3" />
<line x1="1006.6" y1="955.6" x2="1006.6" y2="959.8" stroke="#222" stroke-width="1.1" />
<text x="726.1" y="988.3" font-size="17.5" font-weight="normal" font-style="normal" fill="#222" text-anchor="middle" >0.01</text>
<text x="812.1" y="988.3" font-size="17.5" font-weight="normal" font-style="normal" fill="#222" text-anchor="middle" >0.1</text>
<text x="898.1" y="988.3" font-size="17.5" font-weight="normal" font-style="normal" fill="#222" text-anchor="middle" >1</text>
<text x="984.1" y="988.3" font-size="17.5" font-weight="normal" font-style="normal" fill="#222" text-anchor="middle" >10</text>
<text x="874.5" y="1016.5" font-size="20.5" font-weight="bold" font-style="normal" fill="#111" text-anchor="middle" >Frequency (Hz)</text>
<text transform="translate(651,681.2) rotate(-90)" font-size="21" font-weight="bold" fill="#111" text-anchor="middle">Noise density (A·Hz<tspan dy="-7" font-size="13">-½</tspan><tspan dy="7">)</tspan></text>
<line x1="784.6" y1="477.2" x2="815.9" y2="477.2" stroke="#3a3a3a" stroke-width="2.2" />
<text transform="translate(840.3,484.9) scale(1.1,1)" font-size="15.5" font-weight="bold" fill="#111">~40</text>
<text transform="translate(884.6,484.9) scale(1.1,1)" font-size="15.5" font-weight="bold" fill="#111">µW/cm<tspan dy="-3.8" font-size="10.5">2</tspan></text>
<line x1="784.6" y1="497.2" x2="815.9" y2="497.2" stroke="#d9403f" stroke-width="2.2" />
<text transform="translate(840.3,503.4) scale(1.1,1)" font-size="15.5" font-weight="bold" fill="#cc2a30">~4</text>
<text transform="translate(884.6,503.4) scale(1.1,1)" font-size="15.5" font-weight="bold" fill="#cc2a30">µW/cm<tspan dy="-3.8" font-size="10.5">2</tspan></text>
<line x1="784.6" y1="517.2" x2="815.9" y2="517.2" stroke="#2a6db0" stroke-width="2.2" />
<text transform="translate(840.3,523.1) scale(1.1,1)" font-size="15.5" font-weight="bold" fill="#2a6aa5">~400</text>
<text transform="translate(884.6,523.1) scale(1.1,1)" font-size="15.5" font-weight="bold" fill="#2a6aa5">nW/cm<tspan dy="-3.8" font-size="10.5">2</tspan></text>
<line x1="784.6" y1="537.4" x2="815.9" y2="537.4" stroke="#2f9e6e" stroke-width="2.2" />
<text transform="translate(840.3,543.6) scale(1.1,1)" font-size="15.5" font-weight="bold" fill="#2a9460">~40</text>
<text transform="translate(884.6,543.6) scale(1.1,1)" font-size="15.5" font-weight="bold" fill="#2a9460">nW/cm<tspan dy="-3.8" font-size="10.5">2</tspan></text>
<line x1="784.6" y1="557.6" x2="815.9" y2="557.6" stroke="#7a5aa8" stroke-width="2.2" />
<text transform="translate(840.3,563.0) scale(1.1,1)" font-size="15.5" font-weight="bold" fill="#76689a">~4</text>
<text transform="translate(884.6,563.0) scale(1.1,1)" font-size="15.5" font-weight="bold" fill="#76689a">nW/cm<tspan dy="-3.8" font-size="10.5">2</tspan></text>
<line x1="784.6" y1="577.7" x2="815.9" y2="577.7" stroke="#c9b030" stroke-width="2.2" />
<text transform="translate(840.3,582.5) scale(1.1,1)" font-size="15.5" font-weight="bold" fill="#c0a024">~400</text>
<text transform="translate(884.6,582.5) scale(1.1,1)" font-size="15.5" font-weight="bold" fill="#c0a024">pW/cm<tspan dy="-3.8" font-size="10.5">2</tspan></text>
<line x1="740.7" y1="891.7" x2="773.3" y2="891.7" stroke="#4cbcc4" stroke-width="2.0" />
<text transform="translate(784.5,897.3) scale(1.14,1)" font-size="15" font-weight="bold" fill="#48b8b8">Dark</text>
<line x1="740.7" y1="917.8" x2="773.3" y2="917.8" stroke="#5e4444" stroke-width="2.0" />
<text transform="translate(784.5,923.5) scale(1.14,1)" font-size="15" font-weight="bold" fill="#86582e">System</text>
</svg>
</body></html>
